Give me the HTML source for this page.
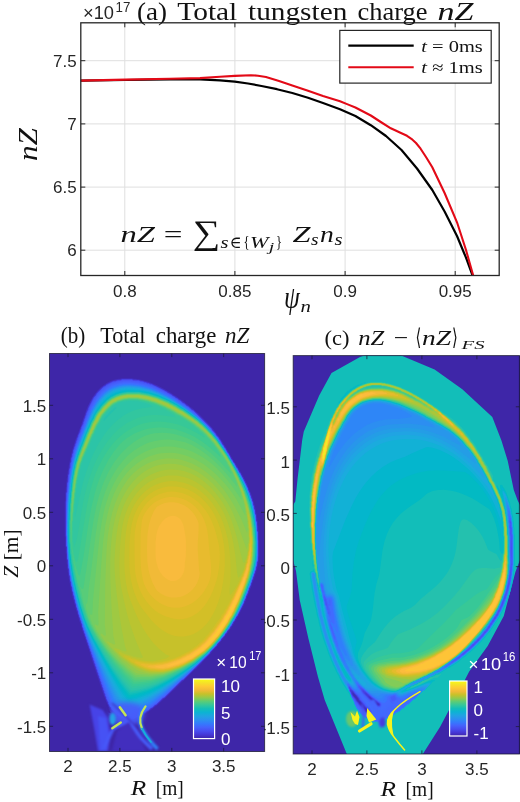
<!DOCTYPE html>
<html><head><meta charset="utf-8"><title>figure</title>
<style>html,body{margin:0;padding:0;background:#fff}svg{display:block}</style></head>
<body><svg width="520" height="802" viewBox="0 0 520 802"><defs><clipPath id="cb"><rect x="49.5" y="353.5" width="215.1" height="398.0"/></clipPath>
<clipPath id="cc"><rect x="293.2" y="355.6" width="226.8" height="398.4"/></clipPath>
<linearGradient id="pg" x1="0" y1="0" x2="0" y2="1"><stop offset="0.000" stop-color="#f9fb15"/><stop offset="0.062" stop-color="#f5e327"/><stop offset="0.125" stop-color="#feca33"/><stop offset="0.188" stop-color="#f1ba37"/><stop offset="0.250" stop-color="#c8c129"/><stop offset="0.312" stop-color="#94ca4a"/><stop offset="0.375" stop-color="#5ccc76"/><stop offset="0.438" stop-color="#34c79c"/><stop offset="0.500" stop-color="#12beb9"/><stop offset="0.562" stop-color="#0cb3d3"/><stop offset="0.625" stop-color="#21a3e3"/><stop offset="0.688" stop-color="#2c90f0"/><stop offset="0.750" stop-color="#347afd"/><stop offset="0.812" stop-color="#4562fc"/><stop offset="0.875" stop-color="#484cef"/><stop offset="0.938" stop-color="#4536d5"/><stop offset="1.000" stop-color="#3e26a8"/></linearGradient>
<filter id="bl2" x="-20%" y="-20%" width="140%" height="140%" color-interpolation-filters="sRGB"><feGaussianBlur stdDeviation="2.5"/></filter><filter id="bl07" x="-10%" y="-10%" width="120%" height="120%" color-interpolation-filters="sRGB"><feGaussianBlur stdDeviation="0.75"/></filter><filter id="bl1" x="-10%" y="-10%" width="120%" height="120%" color-interpolation-filters="sRGB"><feGaussianBlur stdDeviation="1"/></filter><filter id="bl05" x="-10%" y="-10%" width="120%" height="120%" color-interpolation-filters="sRGB"><feGaussianBlur stdDeviation="0.5"/></filter>
<filter id="bl" x="-5%" y="-5%" width="110%" height="110%" color-interpolation-filters="sRGB"><feGaussianBlur stdDeviation="0.6"/></filter></defs>
<rect width="520" height="802" fill="#fff"/>
<g id="pa">
<rect x="80.8" y="22.8" width="418.4" height="252.7" fill="#fff"/>
<path d="M124.8 22.8V275.5M234.9 22.8V275.5M345.1 22.8V275.5M455.2 22.8V275.5M80.8 250.2H499.2M80.8 187.1H499.2M80.8 123.9H499.2M80.8 60.7H499.2" stroke="#dfdfdf" stroke-width="1" fill="none"/>
<path d="M80.8 80.6 L125.5 80.0 L170.0 79.4 L200.0 79.3 L220.0 80.3 L234.8 81.7 L248.0 83.5 L261.5 86.0 L277.0 89.2 L292.3 93.0 L308.0 97.7 L323.0 103.0 L340.0 109.3 L355.4 116.0 L370.8 125.2 L386.0 136.0 L401.5 150.0 L417.0 168.5 L432.3 190.0 L444.6 211.5 L457.0 236.0 L466.0 257.7 L472.6 275.5" stroke="#000" stroke-width="2.2" fill="none" stroke-linejoin="round"/>
<path d="M80.8 80.6 L125.5 79.6 L170.0 78.8 L200.0 78.1 L220.0 76.8 L234.8 75.9 L250.8 75.2 L258.0 75.7 L266.0 77.0 L279.0 81.0 L292.3 85.4 L308.0 90.8 L323.0 96.0 L340.0 101.3 L347.7 104.4 L355.4 107.5 L370.8 115.5 L380.0 121.5 L390.8 128.3 L401.5 133.2 L407.0 135.8 L411.4 138.8 L416.0 143.0 L420.6 148.7 L426.0 157.0 L432.3 167.3 L444.6 193.0 L457.0 222.3 L466.0 250.0 L473.2 275.5" stroke="#e30a17" stroke-width="2.1" fill="none" stroke-linejoin="round"/>
<path d="M124.8 275.5v-4.5M124.8 22.8v4.5M234.9 275.5v-4.5M234.9 22.8v4.5M345.1 275.5v-4.5M345.1 22.8v4.5M455.2 275.5v-4.5M455.2 22.8v4.5M80.8 250.2h4.5M499.2 250.2h-4.5M80.8 187.1h4.5M499.2 187.1h-4.5M80.8 123.9h4.5M499.2 123.9h-4.5M80.8 60.7h4.5M499.2 60.7h-4.5" stroke="#262626" stroke-width="1" fill="none"/>
<rect x="80.8" y="22.8" width="418.4" height="252.7" fill="none" stroke="#262626" stroke-width="1.3"/>
<text x="124.8" y="297" font-family="'Liberation Sans',Arial,sans-serif" font-size="17" fill="#262626" text-anchor="middle">0.8</text>
<text x="234.9" y="297" font-family="'Liberation Sans',Arial,sans-serif" font-size="17" fill="#262626" text-anchor="middle">0.85</text>
<text x="345.1" y="297" font-family="'Liberation Sans',Arial,sans-serif" font-size="17" fill="#262626" text-anchor="middle">0.9</text>
<text x="455.2" y="297" font-family="'Liberation Sans',Arial,sans-serif" font-size="17" fill="#262626" text-anchor="middle">0.95</text>
<text x="76.6" y="256.3" font-family="'Liberation Sans',Arial,sans-serif" font-size="17" fill="#262626" text-anchor="end">6</text>
<text x="76.6" y="193.2" font-family="'Liberation Sans',Arial,sans-serif" font-size="17" fill="#262626" text-anchor="end">6.5</text>
<text x="76.6" y="130.0" font-family="'Liberation Sans',Arial,sans-serif" font-size="17" fill="#262626" text-anchor="end">7</text>
<text x="76.6" y="66.8" font-family="'Liberation Sans',Arial,sans-serif" font-size="17" fill="#262626" text-anchor="end">7.5</text>
<text x="83" y="18.7" font-family="'Liberation Sans',Arial,sans-serif" font-size="18" fill="#262626" textLength="31" lengthAdjust="spacingAndGlyphs">×10</text>
<text x="115.5" y="11.6" font-family="'Liberation Sans',Arial,sans-serif" font-size="14.5" fill="#262626" textLength="14.8" lengthAdjust="spacingAndGlyphs">17</text>
<text x="137" y="19.8" font-family="'Liberation Serif','DejaVu Serif',serif" font-size="26" fill="#111" textLength="30" lengthAdjust="spacingAndGlyphs">(a)</text>
<text x="177.3" y="19.8" font-family="'Liberation Serif','DejaVu Serif',serif" font-size="26" fill="#111" textLength="60" lengthAdjust="spacingAndGlyphs">Total</text>
<text x="248" y="19.8" font-family="'Liberation Serif','DejaVu Serif',serif" font-size="26" fill="#111" textLength="99.3" lengthAdjust="spacingAndGlyphs">tungsten</text>
<text x="357.5" y="19.8" font-family="'Liberation Serif','DejaVu Serif',serif" font-size="26" fill="#111" textLength="70" lengthAdjust="spacingAndGlyphs">charge</text>
<text x="437.5" y="19.8" font-family="'Liberation Serif','DejaVu Serif',serif" font-size="26" fill="#111" font-style="italic" textLength="36" lengthAdjust="spacingAndGlyphs">nZ</text>
<text transform="translate(37.2,144.5) rotate(-90)" font-family="'Liberation Serif','DejaVu Serif',serif" font-style="italic" font-size="27" fill="#111" text-anchor="middle" textLength="33" lengthAdjust="spacingAndGlyphs">nZ</text>
<text x="284" y="307.5" font-family="'Liberation Serif','DejaVu Serif',serif" font-size="31" fill="#111" font-style="italic" textLength="15.8" lengthAdjust="spacingAndGlyphs">ψ</text>
<text x="300.6" y="311.5" font-family="'Liberation Serif','DejaVu Serif',serif" font-size="17" fill="#111" font-style="italic" textLength="10.4" lengthAdjust="spacingAndGlyphs">n</text>
<text x="120.5" y="242" font-family="'Liberation Serif','DejaVu Serif',serif" font-size="24" fill="#111" font-style="italic" textLength="34.5" lengthAdjust="spacingAndGlyphs">nZ</text>
<text x="163.8" y="242" font-family="'Liberation Serif','DejaVu Serif',serif" font-size="24" fill="#111" textLength="18.7" lengthAdjust="spacingAndGlyphs">=</text>
<text x="192.5" y="243.5" font-family="'Liberation Serif','DejaVu Serif',serif" font-size="34" fill="#111" textLength="27.5" lengthAdjust="spacingAndGlyphs">∑</text>
<text x="220.5" y="247.5" font-family="'Liberation Serif','DejaVu Serif',serif" font-size="17" fill="#111" font-style="italic" textLength="8" lengthAdjust="spacingAndGlyphs">s</text>
<text x="229.5" y="247.5" font-family="'Liberation Serif','DejaVu Serif',serif" font-size="17" fill="#111" textLength="12" lengthAdjust="spacingAndGlyphs">∈</text>
<text x="243.5" y="247.5" font-family="'Liberation Serif','DejaVu Serif',serif" font-size="17" fill="#111" textLength="6" lengthAdjust="spacingAndGlyphs">{</text>
<text x="250" y="247.5" font-family="'Liberation Serif','DejaVu Serif',serif" font-size="17" fill="#111" font-style="italic" textLength="18.5" lengthAdjust="spacingAndGlyphs">W</text>
<text x="268.8" y="250.5" font-family="'Liberation Serif','DejaVu Serif',serif" font-size="13" fill="#111" font-style="italic" textLength="5.5" lengthAdjust="spacingAndGlyphs">j</text>
<text x="276" y="247.5" font-family="'Liberation Serif','DejaVu Serif',serif" font-size="17" fill="#111" textLength="6" lengthAdjust="spacingAndGlyphs">}</text>
<text x="292.5" y="242" font-family="'Liberation Serif','DejaVu Serif',serif" font-size="24" fill="#111" font-style="italic" textLength="18" lengthAdjust="spacingAndGlyphs">Z</text>
<text x="311" y="245" font-family="'Liberation Serif','DejaVu Serif',serif" font-size="17" fill="#111" font-style="italic" textLength="7.5" lengthAdjust="spacingAndGlyphs">s</text>
<text x="320" y="242" font-family="'Liberation Serif','DejaVu Serif',serif" font-size="24" fill="#111" font-style="italic" textLength="13.8" lengthAdjust="spacingAndGlyphs">n</text>
<text x="334.5" y="245" font-family="'Liberation Serif','DejaVu Serif',serif" font-size="17" fill="#111" font-style="italic" textLength="8" lengthAdjust="spacingAndGlyphs">s</text>
<rect x="339.8" y="30.4" width="151.4" height="52.7" fill="#fff" stroke="#262626" stroke-width="1.2"/>
<path d="M348.3 45.6H413.7" stroke="#000" stroke-width="2.1"/>
<path d="M348.3 67.2H413.7" stroke="#e30a17" stroke-width="2"/>
<text x="421.3" y="51.5" font-family="'Liberation Serif','DejaVu Serif',serif" font-size="17" fill="#111" textLength="61.5" lengthAdjust="spacingAndGlyphs"><tspan font-style="italic">t</tspan> = 0ms</text>
<text x="421.3" y="73" font-family="'Liberation Serif','DejaVu Serif',serif" font-size="17" fill="#111" textLength="61.5" lengthAdjust="spacingAndGlyphs"><tspan font-style="italic">t</tspan> ≈ 1ms</text>
</g>
<text x="290" y="414.2" font-family="'Liberation Sans',Arial,sans-serif" font-size="17" fill="#262626" text-anchor="end">1.5</text>
<text x="290" y="467.5" font-family="'Liberation Sans',Arial,sans-serif" font-size="17" fill="#262626" text-anchor="end">1</text>
<text x="290" y="520.8" font-family="'Liberation Sans',Arial,sans-serif" font-size="17" fill="#262626" text-anchor="end">0.5</text>
<text x="290" y="574.1" font-family="'Liberation Sans',Arial,sans-serif" font-size="17" fill="#262626" text-anchor="end">0</text>
<text x="290" y="627.4" font-family="'Liberation Sans',Arial,sans-serif" font-size="17" fill="#262626" text-anchor="end">-0.5</text>
<text x="290" y="680.7" font-family="'Liberation Sans',Arial,sans-serif" font-size="17" fill="#262626" text-anchor="end">-1</text>
<text x="290" y="734.0" font-family="'Liberation Sans',Arial,sans-serif" font-size="17" fill="#262626" text-anchor="end">-1.5</text>
<g id="pb">
<rect x="49.5" y="353.5" width="215.1" height="398.0" fill="#3e26a8"/>
<g clip-path="url(#cb)"><g filter="url(#bl)">
<path fill="#412dbd" d="M122 378.2l10 0 2 0.5 2 0 1 0.4 2 0.1 4 1 3 1 1 0.1 6 2.3 4 1.7 7 3.5 6 3.5 4 2.8 2 1 4 3 1 0.5 13 9.9 2.5 2.5 1.5 1.1 11.9 11.9 0.6 1 2 2 3.9 5 0.5 1 2.5 3 7 11 7.5 13 1.5 2 0.6 1.2 5.4 8.8 1.5 3 0.8 1 4 8 0.3 1.2 3.7 8.8 3.5 12 0.6 3 0 1 1 4 0.1 2 0.4 1 0 2 0.5 2 0.1 3 0.4 1 0 4 0.4 1 0.1 8 0.5 2 0 15 -0.5 2 -0.1 4 -0.4 1 0 1 -0.4 1 -0.2 2 -0.4 1 -0.1 1 -3.5 11 -0.7 1.3 -1.8 5.7 -1.2 2.7 -0.3 1.3 -5.3 13 -6 12 -1.7 3 -0.8 1 -3.5 6 -5.5 8 -1 1 -0.5 1 -6.5 8 -1.4 2 -5.6 6 -1.4 2 -8 8 -0.6 1 -5.9 5.9 -1 0.6 -11 11 -2 1.4 -8 8 -1 0.6 -8 7.9 -1.1 0.6 -6.9 6.4 -1 0.5 -3 2.6 -7 4.9 -5 3 -6 3 -3 1.3 -2 0.6 -3-0.1 -1-0.4 -1-0.1 -5-2.3 -4-2.5 -4-4 -3.4-4.9 -2.8-6 -0.8-2.7 -0.7-1.3 -14-42 -0.3-1.7 -8.2-24.3 -0.8-3.3 -1.7-4.7 -2.3-8.3 -1.3-3.7 -0.7-3.3 -0.7-1.7 -0.6-3 -1.4-5 -0.7-4 -0.9-3 0-1 -0.4-1 -0.6-4 -0.4-1 -0.1-2 -0.4-1 -0.1-2 -0.4-1 -0.2-3 -0.4-1 0-2 -0.5-2 -0.1-3 -0.4-1 0-3 -0.5-2 0-4 -0.5-2 0-5 -0.5-2 0-8 -0.5-2 0-34 0.5-2 0-7 0.5-2 0.1-4 0.4-1 0.1-4 0.4-1 0.1-3 0.4-1 0.1-3 0.4-1 0.1-2 0.4-1 0.1-2 0.4-1 0.1-2 0.4-1 0-1 1-4 0-1 2-8 3.1-10 5.8-15 2.2-7 0.7-1.3 1.8-5.7 2-5 2.5-5 2.3-4 2.9-4 1-1 0.6-1 3.9-3.9 6-4.3 4-2 3-1 4-1 2-0.1z"/>
<path fill="#4332c8" d="M122 378.8l10 0 1 0.4 3 0.1 1 0.5 2 0 1 0.4 1 0.1 1 0.5 1 0 5 1.5 1.3 0.7 1.7 0.4 3.3 1.6 1.7 0.4 8 4 1 0.8 5 2.8 4 2.8 3 1.6 3 2.4 2 1.2 1 1 1 0.4 3 2.6 1 0.4 4 3.6 1 0.4 3 2.9 1 0.7 12 12 3.6 4 0.4 1 2.7 3 0.5 1 2.5 3 3.3 5 1 2 1.6 2 2.2 4 3.8 6 2.4 4.7 3.6 5.3 2.2 4 0.8 1 2.4 4.7 1.6 2.3 3 6 0.6 2 2.4 5 4 12 1 4 0.6 4 0.4 1 0.2 2 0.4 1 0 2 0.5 1 0.1 3 0.4 1 0 3 0.5 1 0 4 0.5 2 0 7 0.5 2 0 15 -0.5 2 0 3 -0.5 3 -0.5 1 -0.6 4 -0.8 2 -0.1 1 -0.5 1 -1.5 5 -1.7 4.3 -1.4 4.7 -1.4 3 -0.5 2 -0.7 1.3 -0.4 1.7 -1.6 3.3 -0.4 1.7 -1.8 4 -6 12 -2.8 4.3 -1.4 2.7 -4.6 7 -1 1 -0.4 1 -2.4 3 -0.5 1 -2.7 3 -0.4 1 -3.6 4 -0.4 1 -6.6 7 -0.4 1 -14.6 15 -1.3 1 -11.7 11.6 -1 0.4 -17 16.7 -2 1.3 -6 5.7 -1 0.5 -4 3.4 -1 0.4 -1 1 -6 4 -2 1 -1 0.8 -6 3 -5 1.9 -3-0.1 -3-0.9 -4-1.9 -2-1.2 -2-1.6 -4-4 -1.6-2 -2.2-4 -1.8-4 -0.4-1.7 -1.7-4.3 -0.5-2 -0.5-1 -0.5-2 -0.5-1 -0.5-2 -0.5-1 -0.5-2 -0.5-1 -0.5-2 -0.5-1 -0.5-2 -0.5-1 -0.5-2 -0.5-1 -0.5-2 -0.5-1 -0.5-2 -0.5-1 -0.5-2 -0.5-1 -0.5-2 -0.5-1 -0.5-2 -1.5-4 -1.1-4 -8.4-25 0-1 -0.5-1 -0.5-2 -1.5-4 -0.1-1 -1.4-4 0-1 -1.5-4 -0.5-3 -0.5-1 -2.9-11 -0.6-4 -0.5-1 -0.5-4 -0.5-1 -0.5-4 -0.4-1 -0.6-4 0-2 -0.5-1 -0.1-3 -0.4-1 0-3 -0.5-1 -0.1-4 -0.4-1 0-5 -0.5-1 -0.1-6 -0.4-1 0-9 -0.5-1 0-34 0.5-2 0-7 0.4-1 0.1-4 0.5-2 0-3 0.5-2 0-2 0.5-2 0-2 0.6-4 0.4-1 0.6-5 0.4-1 0-1 0.4-1 0.2-2 0.4-1 0.5-3 0.5-1 0.5-3 0.5-1 0-1 1.4-4 0.1-1 0.5-1 1.5-5 0.7-1.3 0.4-1.7 1.4-3 0.5-2 0.7-1.3 0.4-1.7 1.4-3 1.5-5 1.7-4.3 1.4-4.7 1.6-3.3 0.4-1.7 3-6 2.6-4 1-1 0.4-1 2.6-3 3-3 3-2.6 1-0.4 2-1.6 4-2 3-1 4-1 3-0.2z"/>
<path fill="#4536d3" d="M122 379.1l10 0 1 0.5 3 0.1 1 0.4 2 0 1 0.5 1 0.1 1 0.4 1 0 2.2 0.9 2.8 0.7 2 0.9 2 0.5 12 5.8 1.6 1.1 1.4 0.6 1 0.9 3 1.6 2.6 1.9 1.4 0.6 1 0.9 1 0.4 1 1 4 2.6 1 1 1 0.4 3 2.6 1 0.4 4 3.6 1 0.4 3 3 1 0.6 12 12 1 1.4 2.1 2.1 0.4 1 1.5 1.5 1.9 2.5 0.1 0.4 2.9 3.6 0.1 0.4 1.9 2.6 1.6 3 1.6 2 0.9 1.9 0.9 1.1 1.6 3 2.6 4 1.4 3 0.9 1 0.6 1.4 1.9 2.6 0.1 0.4 2 3.5 0.9 1.1 0.1 0.4 2 3.5 0.9 1.1 7 14 0.6 2 1.8 4 0.2 1 1.8 5 0.1 1 0.5 1 0.6 3 0.4 1 0.5 3 0.5 1 0.5 4 0.5 1 0.1 2.4 0.3 0.6 0.1 3 0.5 1 0 3 0.4 1 0.2 5 0.4 1 0 7 0.4 2 0 15 -0.3 1.2 -0.1 3.8 -0.4 1 -0.2 2 -0.3 0.6 -0.1 1.4 -0.4 1 -0.6 3 -0.5 1 -0.1 1 -0.8 2 -1.2 4 -1.3 3.2 -0.1 0.8 -0.5 1 -0.5 2 -1.4 3 -1.2 4 -4.3 10.2 -0.1 0.8 -6 12 -1.4 2 -2.1 4 -0.9 1 -1.5 2.6 -0.1 0.4 -3.4 5 -1 1 -0.4 1 -2.1 2.6 -0.1 0.4 -1.9 2.5 -1.5 1.5 -0.4 1 -3.6 4 -0.5 1.1 -6.5 6.9 -0.5 1.1 -8 8 -1 1.4 -5.5 5.5 -1.4 1 -11 11 -1.1 0.5 -17 16.6 -2 1.4 -3 3 -1 0.6 -3 2.8 -0.4 0.1 -3.6 3.1 -1 0.4 -1 1 -5 3.4 -3 1.6 -2 1.4 -6 3 -0.8 0.1 -3.2 1.3 -2 0 -4-1 -3-1.4 -4.5-2.9 -4-4 -0.6-1 -1-1 -2.8-5 -0.6-2 -1.4-3 -0.1-0.8 -1.3-3.2 -0.2-1 -0.8-2 -0.2-1 -0.8-2 -0.2-1 -0.8-2 -0.2-1 -0.8-2 -0.2-1 -0.8-2 -0.2-1 -0.8-2 -0.2-1 -0.8-2 -0.2-1 -0.8-2 -0.2-1 -0.8-2 -0.2-1 -0.8-2 -0.2-1 -2.8-8 -1.1-4 -0.5-1 -0.5-2 -0.5-1 -0.5-2 -0.5-1 -0.5-2 -0.5-1 -0.5-2 -0.5-1 -0.5-2 -0.5-1 -0.5-2 -0.5-1 -0.5-2 -0.5-1 -0.5-2 -0.5-1 -0.1-1.4 -2.3-6.6 -0.1-1 -0.5-1 -0.5-2 -0.5-1 -0.1-1.4 -1.3-3.6 -0.1-1 -0.5-1 -0.1-1.4 -0.9-2.6 -1.6-7 -0.4-1 -0.5-3 -0.5-1 -0.6-4 -0.4-1 -0.1-1.4 -0.3-0.6 -0.2-2 -0.4-1 -0.6-5 -0.4-1 0-2 -0.4-1 -0.1-3 -0.5-1 0-3 -0.4-1 -0.1-4 -0.5-1 0-5 -0.4-1 -0.1-6 -0.5-1 0-9 -0.4-1 0-34 0.4-2 0-7 0.5-1 0.1-4 0.4-2 0-3 0.6-2 0.4-6 0.4-1 0.6-5 0.4-1 0.6-5 0.5-1 0.5-4 0.5-1 0.1-1 0.4-1 0-1 0.5-1 0.1-1 0.4-1 0-1 1.5-4 0.1-1 0.8-2 1.2-4 0.9-2 0.5-2 0.9-1.6 0.7-2.4 0.9-2 0.5-2 0.9-1.6 0.7-2.4 0.8-2 0.2-1 1.9-5 0.5-2 1.4-3 0.2-1 1.2-3 3-6 2.6-4 1-1 0.4-1 2.1-2.5 3.5-3.5 2.5-2.1 1-0.4 2-1.6 6-2.8 6-1.4 2-0.1z"/>
<path fill="#463bdc" d="M122 379.3l10 0 1 0.7 6 0.3 1 0.7 3 0.3 1 0.7 2 0.3 1 0.7 2 0.3 1 0.7 2 0.3 1 0.7 1 0.3 1 0.7 1 0.1 1 0.9 1 0.1 1 0.9 1 0.1 1 0.9 1 0.1 1 0.9 1 0.1 1 0.9 1 0.2 2 1.8 1 0.1 1 0.9 1 0.2 2 1.8 1 0.2 2 1.8 1 0.1 2 1.9 1 0.2 3 2.8 1 0.1 3 2.9 1 0.1 4 3.9 1 0.1 18.9 18.9 0.1 1 3.8 4 0.2 1 2.8 3 0.2 1 1.8 2 0.2 1 0.9 1 0.1 1 1.9 2 0.1 1 1.8 2 0.2 1 0.9 1 0.1 1 1.9 2 0.1 1 0.9 1 0.1 1 0.9 1 0.1 1 1.9 2 0.1 1 1.9 2 0.1 1 0.9 1 0.1 1 1.9 2 0.1 1 0.9 1 0.1 1 1.9 2 0.1 1 0.9 1 0.1 1 0.9 1 0.1 1 0.9 1 0.1 1 0.9 1 0.1 1 0.9 1 0.1 1 0.9 1 0.1 1 0.9 1 0.1 2 0.9 1 0.1 1 0.9 1 0.1 2 0.9 1 0.1 2 0.9 1 0.1 2 0.9 1 0.1 3 0.9 1 0.1 3 0.9 1 0.1 4 0.9 1 0.1 6 0.9 1 0.1 9 0.9 1 0 29 -0.9 1 -0.1 4 -0.9 1 -0.1 3 -0.9 1 -0.1 2 -0.9 1 -0.1 2 -0.9 1 -0.1 2 -0.9 1 -0.1 2 -0.9 1 -0.1 2 -0.9 1 -0.1 1 -0.9 1 -0.1 2 -0.9 1 -0.1 2 -0.9 1 -0.1 1 -0.9 1 -0.1 2 -0.9 1 -0.1 1 -0.9 1 -0.1 2 -0.9 1 -0.1 1 -0.9 1 -0.1 1 -0.9 1 -0.1 1 -0.9 1 -0.1 1 -0.9 1 -0.1 1 -0.9 1 -0.1 1 -1.9 2 -0.1 1 -0.9 1 -0.1 1 -1.9 2 -0.1 1 -0.9 1 -0.1 1 -1.9 2 -0.1 1 -2.9 3 -0.1 1 -1.9 2 -0.1 1 -3.9 4 -0.1 1 -3.9 4 -0.1 1 -6.9 7 -0.1 1 -26.9 26.9 -1 0.1 -18 17.8 -1 0.2 -7 6.8 -1 0.2 -3 2.9 -1 0.1 -3 2.8 -1 0.2 -2 1.8 -1 0.2 -1 0.9 -1 0.1 -2 1.8 -1 0.2 -1 0.8 -1 0.2 -1 0.8 -1 0.2 -1 0.8 -2 0.2 -1 0.8 -1 0.2 -4-0.2 -1-0.8 -2-0.2 -1-0.8 -1-0.2 -2-1.8 -1-0.1 -6.9-6.9 -0.1-1 -1.8-2 -0.2-1 -0.8-1 -0.2-2 -0.9-1 -0.1-1 -0.8-1 -0.2-2 -0.8-1 -0.2-2 -0.8-1 -0.2-2 -0.8-1 -0.2-2 -0.8-1 -0.2-2 -0.8-1 -0.2-2 -0.8-1 -0.2-2 -0.8-1 -0.2-2 -0.8-1 -0.2-2 -0.8-1 -0.2-2 -0.8-1 -0.2-2 -0.8-1 -0.2-2 -0.8-1 -0.2-2 -0.8-1 -0.2-2 -0.8-1 -0.2-2 -0.8-1 -0.2-2 -0.8-1 -0.2-2 -0.8-1 -0.2-2 -0.8-1 -0.2-2 -0.8-1 -0.2-2 -0.8-1 -0.2-2 -0.8-1 -0.2-2 -0.8-1 -0.2-2 -0.8-1 -0.2-2 -0.8-1 -0.2-3 -0.8-1 -0.2-2 -0.8-1 -0.2-2 -0.8-1 -0.2-2 -0.8-1 -0.2-3 -0.8-1 -0.2-2 -0.8-1 -0.2-3 -0.8-1 -0.2-3 -0.8-1 -0.2-3 -0.8-1 -0.2-3 -0.8-1 -0.2-4 -0.8-1 -0.2-4 -0.8-1 -0.2-5 -0.8-1 -0.2-6 -0.8-1 -0.2-8 -0.8-1 -0.2-12 -0.8-1 -0.2-44 0.2-2 0-7 0.8-1 0.2-9 0.8-1 0.2-7 0.8-1 0.2-5 0.8-1 0.2-5 0.8-1 0.2-4 0.8-1 0.2-3 0.8-1 0.2-3 0.8-1 0.2-2 0.8-1 0.2-2 0.8-1 0.2-2 0.8-1 0.3-2 0.7-1 0.3-2 0.7-1 0.3-1 0.7-1 0.3-2 0.7-1 0.3-2 0.7-1 0.3-1 0.7-1 0.3-2 0.7-1 0.3-2 0.7-1 0.3-2 0.7-1 0.3-2 0.7-1 0.1-1 0.9-1 0.3-2 0.7-1 0.1-1 0.9-1 0.2-1 0.8-1 0.2-1 0.8-1 0.2-1 0.8-1 0.3-1 2.7-3 0.2-1 7.8-7.8 1-0.2 2-1.8 1-0.2 1-0.8 1-0.2 1-0.8 1-0.2 1-0.7 3-0.3 1-0.7 4-0.3z"/>
<path fill="#4740e4" d="M122 379.4l10 0 1 0.8 6 0.2 1 0.8 3 0.2 1 0.8 2 0.2 1 0.8 2 0.2 1 0.8 2 0.2 1 0.8 1 0.2 1 0.8 1 0.1 1 0.9 1 0.1 1 0.9 1 0.1 1 0.9 1 0.1 1 0.9 1 0.1 1 0.9 1 0.2 2 1.8 1 0.1 1 0.9 1 0.2 2 1.8 1 0.2 2 1.8 1 0.1 2 1.9 1 0.2 3 2.8 1 0.1 3 2.8 1 0.2 4 3.8 1 0.2 18.8 18.7 0.1 1 3.8 4 0.2 1 2.8 3 0.2 1 1.8 2 0.2 1 0.9 1 0.1 1 1.9 2 0.1 1 1.8 2 0.2 1 0.9 1 0.1 1 1.9 2 0.1 1 0.9 1 0.1 1 0.9 1 0.1 1 1.9 2 0.2 1.1 1.8 1.9 0.1 1 0.9 1 0.1 1 1.9 2 0.1 1 0.9 1 0.1 1 1.9 2 0.1 1 0.9 1 0.1 1 0.9 1 0.1 1 0.9 1 0.1 1 0.9 1 0.1 1 0.9 1 0.1 1 0.9 1 0.1 1 0.9 1 0.1 2 0.9 1 0.1 1 0.9 1 0.1 2 0.9 1 0.1 2 0.9 1 0.1 2 0.9 1 0.1 3 0.9 1 0.1 3 0.9 1 0.1 4 0.9 1 0.1 6 0.9 1 0.1 9 0.9 1 0.1 11 -0.1 18 -0.9 1 -0.1 4 -0.9 1 -0.1 3 -0.9 1 -0.1 2 -0.9 1 -0.1 2 -0.9 1 -0.1 2 -0.9 1 -0.1 2 -0.9 1 -0.1 2 -0.9 1 -0.1 1 -0.9 1 -0.1 2 -0.9 1 -0.1 2 -0.9 1 -0.1 1 -0.9 1 -0.1 2 -0.9 1 -0.1 1 -0.9 1 -0.1 2 -0.9 1 -0.1 1 -0.9 1 -0.1 1 -0.9 1 -0.1 1 -0.9 1 -0.1 1 -0.9 1 -0.1 1 -0.9 1 -0.1 1 -1.9 2 0 1 -1 1 -0.1 1 -1.9 2 0 1 -1 1 -0.1 1 -1.9 2 -0.1 1 -2.9 3 0 1 -2 2 -0.1 1 -3.9 4 0 1 -4 4 0 1 -7 7 -0.1 1 -26.8 26.8 -1.1 0.2 -17.9 17.7 -1 0.2 -7 6.8 -1 0.2 -3 2.9 -1 0.1 -3 2.8 -1 0.1 -2 1.9 -1 0.1 -1 1 -1 0.1 -2 1.8 -1 0.1 -1 0.9 -1 0.1 -1 0.9 -1 0.1 -1 0.9 -2 0.1 -1 0.9 -1 0.1 -4-0.1 -1-0.9 -2-0.1 -1-0.9 -1-0.1 -2-1.9 -1-0.1 -6.7-6.7 -0.1-1 -1.9-2 -0.1-1 -0.9-1 -0.1-2 -0.9-1 -0.1-1 -0.9-1 -0.1-2 -0.9-1 -0.1-2 -0.9-1 -0.1-2 -0.9-1 -0.2-2 -0.8-1 -0.2-2 -0.8-1 -0.2-2 -0.8-1 -0.2-2 -0.8-1 -0.2-2 -0.8-1 -0.2-2 -0.8-1 -0.2-2 -0.8-1 -0.2-2 -0.8-1 -0.2-2 -0.8-1 -0.2-2 -0.8-1 -0.2-2 -0.8-1 -0.2-2 -0.8-1 -0.2-2 -0.8-1 -0.2-2 -0.8-1 -0.2-2 -0.8-1 -0.2-2 -0.8-1 -0.2-2 -0.8-1 -0.2-2 -0.8-1 -0.2-2 -0.8-1 -0.2-2 -0.8-1 -0.2-2 -0.8-1 -0.2-3 -0.8-1 -0.2-2 -0.8-1 -0.2-2 -0.8-1 -0.2-2 -0.8-1 -0.2-3 -0.8-1 -0.2-2 -0.8-1 -0.2-3 -0.8-1 -0.2-3 -0.8-1 -0.2-3 -0.8-1 -0.2-3 -0.8-1 -0.2-4 -0.8-1 -0.2-4 -0.8-1 -0.2-5 -0.8-1 -0.2-6 -0.8-1 -0.2-8 -0.8-1 -0.2-12 -0.8-1 -0.2-44 0.2-2 0.1-7 0.7-1 0.3-9 0.7-1 0.3-7 0.7-1 0.3-5 0.7-1 0.3-5 0.8-1 0.2-4 0.8-1 0.2-3 0.8-1 0.2-3 0.8-1 0.2-2 0.8-1 0.2-2 0.8-1 0.2-2 0.8-1 0.2-2 0.8-1 0.2-2 0.8-1 0.2-1 0.8-1 0.2-2 0.8-1 0.2-2 0.8-1 0.2-1 0.8-1 0.2-2 0.8-1 0.2-2 0.8-1 0.2-2 0.8-1 0.2-2 0.8-1 0.1-1 0.9-1 0.2-2 0.8-1 0.1-1 0.9-1 0.1-1 0.9-1 0.1-1 0.9-1 0.1-1 0.9-1 0.2-1 2.8-3 0.1-1 7.7-7.7 1-0.1 2-1.9 1-0.1 1-0.9 1-0.1 1-0.9 1-0.1 1-0.8 3-0.2 1-0.8 4-0.2z"/>
<path fill="#4746ea" d="M122 379.6l10 0 1 0.8 6 0.2 1 0.8 3 0.2 1 0.8 2 0.2 1 0.8 2 0.2 1 0.8 2 0.1 1 0.9 1 0.1 1 0.8 1 0.2 1 0.8 1 0.2 1 0.8 1 0.2 1 0.8 1 0.2 1 0.8 1 0.2 1 0.9 1 0.1 2 1.8 1 0.2 1 0.8 1 0.2 2 1.8 1 0.2 2 1.8 1 0.1 2 1.9 1 0.2 3 2.8 1 0.1 3 2.9 1 0.1 4 3.9 1 0.1 18.6 18.6 0.2 1 3.8 4 0.2 1 2.8 3 0.2 1 1.8 2 0.2 1 0.9 1 0.1 1 1.9 2 0.1 1 1.9 2 0.1 1 0.9 1 0.2 1 1.8 2 0.1 1 1 1 0.1 1 0.9 1 0.1 1 1.8 2 0.2 1 1.8 2 0.2 1 0.9 1 0.1 1 1.8 2 0.2 1 0.9 1 0.1 1 1.8 2 0.1 1 0.9 1 0.2 1 0.8 1 0.2 1 0.8 1 0.2 1 0.8 1 0.2 1 0.8 1 0.2 1 0.8 1 0.1 1 0.9 1 0.2 2 0.8 1 0.2 1 0.8 1 0.2 2 0.8 1 0.2 2 0.8 1 0.2 2 0.8 1 0.2 3 0.8 1 0.2 3 0.8 1 0.2 4 0.8 1 0.2 6 0.8 1 0.2 9 0.8 1 0.2 11 -0.2 18 -0.8 1 -0.2 4 -0.8 1 -0.2 3 -0.8 1 -0.2 2 -0.8 1 -0.2 2 -0.8 1 -0.2 2 -0.8 1 -0.2 2 -0.8 1 -0.2 2 -0.8 1 -0.1 1 -0.9 1 -0.2 2 -0.8 1 -0.2 2 -0.8 1 -0.1 1 -0.9 1 -0.2 2 -0.8 1 -0.1 1 -0.9 1 -0.2 2 -0.9 1 -0.1 1 -0.9 1 -0.1 1 -0.9 1 -0.1 1 -0.9 1 -0.1 1 -0.8 1 -0.2 1 -0.8 1 -0.2 1 -1.8 2 -0.1 1 -0.9 1 -0.2 1 -1.8 2 -0.1 1 -0.9 1 -0.2 1 -1.8 2 -0.2 1 -2.8 3 -0.1 1 -1.9 2 -0.2 1 -3.8 4 -0.1 1 -3.9 4 -0.1 1 -6.9 7 -0.1 1 -26.8 26.7 -1.2 0.3 -17.8 17.6 -1 0.1 -7 6.9 -1 0.1 -3 2.9 -1 0.1 -3 2.9 -1 0.1 -2 1.9 -1 0.1 -1 0.9 -1 0.1 -2 1.9 -1 0.1 -1 0.9 -1 0.1 -1 0.9 -1 0.1 -1 0.9 -2 0.1 -1 0.8 -1 0.2 -4-0.2 -1-0.8 -2-0.2 -1-0.8 -1-0.2 -2-1.8 -1-0.1 -6.6-6.6 -0.1-1 -1.8-2 -0.2-1 -0.8-1 -0.2-2 -0.9-1 -0.1-1 -0.8-1 -0.2-2 -0.8-1 -0.2-2 -0.8-1 -0.2-2 -0.8-1 -0.2-2 -0.8-1 -0.2-2 -0.8-1 -0.2-2 -0.8-1 -0.2-2 -0.8-1 -0.2-2 -0.8-1 -0.2-2 -0.9-1 -0.1-2 -0.9-1 -0.1-2 -0.9-1 -0.1-2 -0.9-1 -0.1-2 -0.9-1 -0.1-2 -0.9-1 -0.1-2 -0.9-1 -0.1-2 -0.9-1 -0.2-2 -0.8-1 -0.2-2 -0.8-1 -0.2-2 -0.8-1 -0.2-2 -0.8-1 -0.2-2 -0.8-1 -0.2-2 -0.8-1 -0.2-2 -0.8-1 -0.2-2 -0.8-1 -0.2-3 -0.8-1 -0.2-2 -0.8-1 -0.2-2 -0.8-1 -0.2-2 -0.8-1 -0.2-3 -0.8-1 -0.2-2 -0.8-1 -0.2-3 -0.8-1 -0.2-3 -0.8-1 -0.2-3 -0.8-1 -0.2-3 -0.8-1 -0.2-4 -0.8-1 -0.2-4 -0.8-1 -0.2-5 -0.8-1 -0.2-6 -0.8-1 -0.3-8 -0.7-1 -0.3-12 -0.7-1 -0.2-11 0-33 0.3-2 0-7 0.8-1 0.2-9 0.8-1 0.2-7 0.8-1 0.2-5 0.8-1 0.2-5 0.8-1 0.2-4 0.8-1 0.2-3 0.8-1 0.2-3 0.8-1 0.2-2 0.8-1 0.2-2 0.8-1 0.2-2 0.8-1 0.2-2 0.8-1 0.2-2 0.9-1 0.1-1 0.8-1 0.2-2 0.8-1 0.2-2 0.9-1 0.1-1 0.8-1 0.2-2 0.8-1 0.2-2 0.8-1 0.3-2 0.7-1 0.3-2 0.8-1 0.1-1 0.9-1 0.2-2 0.8-1 0.1-1 0.9-1 0.1-1 0.9-1 0.1-1 0.9-1 0.1-1 0.9-1 0.2-1 2.8-3 0.1-1 7.5-7.5 1-0.1 2-1.9 1-0.1 1-0.9 1-0.1 1-0.9 1-0.1 1-0.8 3-0.2 1-0.8 4-0.2z"/>
<path fill="#484cef" d="M122 379.7l10 0 1 0.8 6 0.2 1 0.8 3 0.2 1 0.8 2 0.2 1 0.8 2 0.2 1 0.8 2 0.2 1 0.9 1 0.1 1 0.8 1 0.1 1 0.9 1 0.1 1 0.9 1 0.1 1 0.9 1 0.1 1 0.9 1 0.1 1 0.9 1 0.2 2 1.8 1 0.1 1 0.9 1 0.2 2 1.8 1 0.2 2 1.8 1 0.1 2 1.9 1 0.1 3 2.8 1 0.2 3 2.8 1 0.2 4 3.8 1 0.2 18.5 18.4 0.2 1 3.8 4 0.2 1 2.8 3 0.2 1 1.8 2 0.2 1 0.9 1 0.2 1 1.8 2 0.2 1 1.8 2 0.1 1 0.9 1 0.2 1 1.8 2 0.2 1 0.9 1 0.1 1 0.9 1 0.1 1 1.8 2 0.2 1 1.8 2 0.2 1 0.9 1 0.1 1 1.8 2 0.2 1 0.9 1 0.1 1 1.8 2 0.2 1 0.8 1 0.2 1 0.9 1 0.1 1 0.9 1 0.1 1 0.9 1 0.1 1 0.9 1 0.1 1 0.8 1 0.2 1 0.8 1 0.2 2 0.9 1 0.1 1 0.8 1 0.2 2 0.8 1 0.2 2 0.8 1 0.2 2 0.8 1 0.2 3 0.8 1 0.2 3 0.8 1 0.2 4 0.8 1 0.2 6 0.8 1 0.2 9 0.8 1 0.2 11 -0.2 18 -0.8 1 -0.2 4 -0.8 1 -0.2 3 -0.8 1 -0.2 2 -0.8 1 -0.2 2 -0.8 1 -0.2 2 -0.8 1 -0.2 2 -0.8 1 -0.2 2 -0.8 1 -0.1 1 -0.9 1 -0.2 2 -0.8 1 -0.2 2 -0.8 1 -0.1 1 -0.9 1 -0.2 2 -0.8 1 -0.1 1 -0.9 1 -0.2 2 -0.8 1 -0.2 1 -0.8 1 -0.2 1 -0.8 1 -0.2 1 -0.8 1 -0.2 1 -0.8 1 -0.2 1 -0.8 1 -0.2 1 -1.8 2 -0.1 1 -0.9 1 -0.2 1 -1.8 2 -0.1 1 -0.9 1 -0.1 1 -1.9 2 -0.1 1 -2.9 3 -0.1 1 -1.9 2 -0.1 1 -3.9 4 -0.1 1 -3.9 4 -0.1 1 -6.9 7 -0.1 1 -26.7 26.6 -1 0.1 -17.5 17.3 -0.5 0.5 -1 0.1 -7 6.9 -1 0.1 -3 2.9 -1 0.1 -3 2.8 -1 0.2 -2 1.8 -1 0.2 -1 0.9 -1 0.1 -2 1.8 -1 0.2 -1 0.8 -1 0.2 -1 0.8 -1 0.2 -1 0.8 -2 0.2 -1 0.8 -1 0.1 -4-0.1 -1-0.8 -2-0.2 -1-0.9 -1-0.1 -2-1.8 -1-0.1 -6.5-6.5 -0.1-1 -1.8-2 -0.1-1 -0.9-1 -0.2-2 -0.9-1 -0.1-1 -0.8-1 -0.2-2 -0.8-1 -0.2-2 -0.8-1 -0.2-2 -0.8-1 -0.2-2 -0.8-1 -0.2-2 -0.8-1 -0.2-2 -0.8-1 -0.2-2 -0.8-1 -0.2-2 -0.8-1 -0.2-2 -0.8-1 -0.2-2 -0.8-1 -0.2-2 -0.8-1 -0.2-2 -0.8-1 -0.2-2 -0.8-1 -0.2-2 -0.8-1 -0.2-2 -0.8-1 -0.2-2 -0.9-1 -0.1-2 -0.9-1 -0.1-2 -0.9-1 -0.2-2 -0.8-1 -0.2-2 -0.8-1 -0.2-2 -0.8-1 -0.2-2 -0.8-1 -0.2-2 -0.8-1 -0.2-2 -0.8-1 -0.2-3 -0.8-1 -0.2-2 -0.8-1 -0.2-2 -0.8-1 -0.2-2 -0.8-1 -0.2-3 -0.8-1 -0.2-2 -0.8-1 -0.2-3 -0.8-1 -0.2-3 -0.8-1 -0.2-3 -0.8-1 -0.2-3 -0.8-1 -0.3-4 -0.7-1 -0.3-4 -0.7-1 -0.3-5 -0.7-1 -0.3-6 -0.7-1 -0.3-8 -0.7-1 -0.3-12 -0.8-1 -0.1-25 0.3-28 0.8-1 0.2-9 0.8-1 0.2-7 0.8-1 0.2-5 0.8-1 0.3-5 0.7-1 0.3-4 0.8-1 0.2-3 0.8-1 0.2-3 0.8-1 0.2-2 0.8-1 0.2-2 0.8-1 0.2-2 0.8-1 0.2-2 0.8-1 0.2-2 0.8-1 0.2-1 0.8-1 0.2-2 0.8-1 0.2-2 0.8-1 0.2-1 0.8-1 0.2-2 0.8-1 0.2-2 0.8-1 0.2-2 0.8-1 0.2-2 0.8-1 0.2-1 0.8-1 0.2-2 0.8-1 0.2-1 0.8-1 0.2-1 0.8-1 0.2-1 0.8-1 0.2-1 0.9-1 0.1-1 2.9-3 0.1-1 7.3-7.3 1-0.1 2-1.9 1-0.1 1-0.9 1-0.1 1-0.9 1-0.1 1-0.9 3-0.1 1-0.9 4-0.1z"/>
<path fill="#4851f4" d="M122 379.9l10 0 1 0.8 6 0.2 1 0.8 3 0.2 1 0.8 2 0.2 1 0.8 2 0.1 1 0.9 2 0.1 1 0.9 1 0.1 1 0.9 1 0.1 1 0.9 1 0.1 1 0.9 1 0.1 1 0.9 1 0.1 1 0.8 1 0.2 1 0.9 1 0.1 2 1.8 1 0.2 1 0.9 1 0.1 2 1.9 1 0.1 2 1.8 1 0.2 2 1.8 1 0.2 3 2.8 1 0.1 3 2.9 1 0.1 4 3.8 1 0.2 18.4 18.3 0.2 1 3.8 4 0.2 1 2.8 3 0.2 1 1.8 2 0.2 1 0.9 1 0.2 1 1.8 2 0.2 1 1.8 2 0.2 1 0.8 1 0.2 1 1.8 2 0.2 1 0.9 1 0.2 1 0.8 1 0.2 1 1.8 2 0.1 1 1.8 2 0.2 1 0.9 1 0.2 1 1.7 2 0.2 1 0.9 1 0.2 1 1.7 2 0.2 1 0.8 1 0.2 1 0.9 1 0.2 1 0.8 1 0.1 1 0.9 1 0.1 1 0.9 1 0.1 1 0.8 1 0.2 1 0.8 1 0.2 2 0.9 1 0.1 1 0.8 1 0.2 2 0.8 1 0.2 2 0.8 1 0.2 2 0.8 1 0.2 3 0.8 1 0.2 3 0.8 1 0.2 4 0.8 1 0.2 6 0.8 1 0.3 9 0.7 1 0.2 9 0 15 -0.2 5 -0.8 1 -0.2 4 -0.8 1 -0.2 3 -0.8 1 -0.2 2 -0.8 1 -0.2 2 -0.8 1 -0.2 2 -0.8 1 -0.2 2 -0.8 1 -0.2 2 -0.8 1 -0.1 1 -0.8 1 -0.3 2 -0.7 1 -0.3 2 -0.8 1 -0.1 1 -0.8 1 -0.2 2 -0.9 1 -0.1 1 -0.8 1 -0.2 2 -0.9 1 -0.1 1 -0.9 1 -0.1 1 -0.9 1 -0.1 1 -0.9 1 -0.1 1 -0.9 1 -0.1 1 -0.9 1 -0.1 1 -1.8 2 -0.2 1 -0.9 1 -0.1 1 -1.8 2 -0.2 1 -0.9 1 -0.1 1 -1.9 2 -0.1 1 -2.8 3 -0.2 1 -1.9 2 -0.1 1 -3.8 4 -0.2 1 -3.8 4 -0.2 1 -6.8 7 -0.2 1 -26.6 26.4 -1 0.2 -18 17.8 -1 0.1 -7 6.8 -1 0.1 -3 3 -1 0.1 -3 2.8 -1 0.1 -2 1.9 -1 0.1 -1 1 -1 0 -2 1.9 -1 0.1 -1 0.9 -1 0.1 -1 0.9 -1 0.1 -1 0.9 -2 0.1 -1 0.9 -5 0 -1-0.9 -2-0.1 -1-0.9 -1-0.1 -2-1.9 -1-0.1 -6.3-6.3 -0.1-1 -1.9-2 -0.1-1 -0.9-1 -0.1-2 -0.9-1 -0.1-1 -0.9-1 -0.1-2 -0.9-1 -0.1-2 -0.9-1 -0.1-2 -0.9-1 -0.1-2 -0.9-1 -0.1-2 -0.9-1 -0.1-2 -0.9-1 -0.1-2 -0.9-1 -0.2-2 -0.8-1 -0.2-2 -0.8-1 -0.2-2 -0.8-1 -0.2-2 -0.8-1 -0.2-2 -0.8-1 -0.2-2 -0.8-1 -0.2-2 -0.8-1 -0.2-2 -0.8-1 -0.2-2 -0.8-1 -0.2-2 -0.8-1 -0.2-2 -0.8-1 -0.2-2 -0.9-1 -0.2-2 -0.8-1 -0.2-2 -0.8-1 -0.2-2 -0.8-1 -0.2-2 -0.8-1 -0.2-2 -0.8-1 -0.2-3 -0.8-1 -0.2-2 -0.8-1 -0.2-2 -0.8-1 -0.2-2 -0.8-1 -0.2-3 -0.8-1 -0.2-2 -0.8-1 -0.2-3 -0.8-1 -0.3-3 -0.7-1 -0.3-3 -0.7-1 -0.3-3 -0.7-1 -0.3-4 -0.7-1 -0.3-4 -0.7-1 -0.3-5 -0.7-1 -0.3-6 -0.7-1 -0.3-8 -0.8-1 -0.2-12 -0.8-1 -0.1-25 0.3-28 0.8-1 0.3-9 0.7-1 0.3-7 0.7-1 0.3-5 0.7-1 0.3-5 0.8-1 0.2-4 0.8-1 0.2-3 0.8-1 0.2-3 0.8-1 0.2-2 0.8-1 0.2-2 0.8-1 0.2-2 0.8-1 0.2-2 0.8-1 0.2-2 0.9-1 0.1-1 0.8-1 0.2-2 0.8-1 0.2-2 0.9-1 0.1-1 0.9-1 0.1-2 0.9-1 0.1-2 0.9-1 0.2-2 0.8-1 0.2-2 0.8-1 0.1-1 0.9-1 0.2-2 0.8-1 0.1-1 0.9-1 0.1-1 0.9-1 0.2-1 0.8-1 0.2-1 0.9-1 0.1-1 2.8-3 0.2-1 7.1-7.1 1-0.2 2-1.8 1-0.2 1-0.8 1-0.2 1-0.8 1-0.2 1-0.8 3-0.2 1-0.8 4-0.2z"/>
<path fill="#4757f7" d="M132 380.2l1 0.7 6 0.2 1 0.8 3 0.1 1 0.9 2 0.1 1 0.9 2 0.1 1 0.9 2 0.1 1 0.9 1 0.1 1 0.8 1 0.2 1 0.8 1 0.2 1 0.8 1 0.2 1 0.8 1 0.2 1 0.8 1 0.2 1 0.9 1 0.1 2 1.8 1 0.1 1 0.9 1 0.1 2 1.9 1 0.1 2 1.8 1 0.2 2 1.9 1 0.1 3 2.8 1 0.2 3 2.8 1 0.2 4 3.8 1 0.2 18.2 18.1 0.3 1 3.8 4 0.2 1 2.8 3 0.2 1 1.8 2 0.2 1 0.9 1 0.2 1 1.8 2 0.2 1 1.8 2 0.2 1 0.8 1 0.3 1 1.7 2 0.2 1 0.9 1 0.2 1 0.8 1 0.2 1 1.8 2 0.2 1 1.8 2 0.1 1 0.9 1 0.2 1 1.8 2 0.1 1 0.9 1 0.2 1 1.7 2 0.2 1 0.8 1 0.2 1 0.9 1 0.2 1 0.8 1 0.2 1 0.8 1 0.2 1 0.8 1 0.2 1 0.7 1 0.2 1 0.8 1 0.3 2 0.8 1 0.2 1 0.7 1 0.3 2 0.7 1 0.3 2 0.7 1 0.3 2 0.7 1 0.3 3 0.7 1 0.3 3 0.7 1 0.3 4 0.7 1 0.3 6 0.7 1 0.3 9 0.7 1 0.1 7 0.2 2 0 15 -0.3 5 -0.7 1 -0.3 4 -0.7 1 -0.3 3 -0.7 1 -0.2 2 -0.8 1 -0.2 2 -0.8 1 -0.2 2 -0.8 1 -0.2 2 -0.8 1 -0.2 2 -0.8 1 -0.2 1 -0.8 1 -0.2 2 -0.8 1 -0.2 2 -0.8 1 -0.2 1 -0.8 1 -0.2 2 -0.8 1 -0.2 1 -0.8 1 -0.2 2 -0.9 1 -0.1 1 -0.9 1 -0.1 1 -0.9 1 -0.1 1 -0.9 1 -0.1 1 -0.9 1 -0.1 1 -0.9 1 -0.1 1 -1.8 2 -0.2 1 -0.8 1 -0.2 1 -1.8 2 -0.2 1 -0.8 1 -0.2 1 -1.8 2 -0.2 1 -2.8 3 -0.1 1 -1.9 2 -0.2 1 -3.8 4 -0.1 1 -3.9 4 -0.2 1 -6.8 7 -0.2 1 -26.5 26.3 -1 0.2 -18 17.7 -1 0.1 -7 6.9 -1 0.1 -3 2.9 -1 0.1 -3 2.9 -1 0.1 -2 1.9 -1 0.1 -1 0.9 -1 0.1 -2 1.9 -1 0.1 -1 0.9 -1 0.1 -1 0.9 -1 0.1 -1 0.9 -2 0.1 -1 0.9 -5 0 -1-0.9 -2-0.1 -1-1 -1 0 -2-1.9 -1.2-0.3 -6-6 -0.1-1 -1.9-2 0-1 -1-1 -0.1-2 -0.9-1 -0.1-1 -0.9-1 -0.1-2 -0.9-1 -0.1-2 -0.9-1 -0.1-2 -0.9-1 -0.1-2 -0.9-1 -0.1-2 -0.9-1 -0.1-2 -0.9-1 -0.1-2 -0.9-1 -0.1-2 -0.9-1 -0.1-2 -0.9-1 -0.1-2 -0.9-1 -0.1-2 -0.9-1 -0.1-2 -0.9-1 -0.2-2 -0.8-1 -0.2-2 -0.8-1 -0.2-2 -0.8-1 -0.2-2 -0.8-1 -0.2-2 -0.8-1 -0.2-2 -0.8-1 -0.2-2 -0.8-1 -0.2-2 -0.9-1 -0.2-2 -0.8-1 -0.2-2 -0.8-1 -0.2-2 -0.8-1 -0.2-2 -0.8-1 -0.2-3 -0.8-1 -0.2-2 -0.8-1 -0.2-2 -0.8-1 -0.2-2 -0.8-1 -0.3-3 -0.7-1 -0.3-2 -0.7-1 -0.3-3 -0.7-1 -0.3-3 -0.7-1 -0.3-3 -0.7-1 -0.3-3 -0.7-1 -0.3-4 -0.7-1 -0.3-4 -0.7-1 -0.3-5 -0.7-1 -0.3-6 -0.7-1 -0.3-8 -0.8-1 -0.3-12 -0.7-1 0-9 -0.2-2 0.2-33 0.2-2 0.1-7 0.7-1 0.3-9 0.7-1 0.3-7 0.8-1 0.2-5 0.8-1 0.2-5 0.8-1 0.2-4 0.8-1 0.2-3 0.8-1 0.3-3 0.8-1 0.2-2 0.8-1 0.2-2 0.8-1 0.2-2 0.8-1 0.2-2 0.8-1 0.2-2 0.9-1 0.1-1 0.8-1 0.2-2 0.8-1 0.2-2 0.9-1 0.1-1 0.8-1 0.2-2 0.8-1 0.2-2 0.8-1 0.2-2 0.8-1 0.2-2 0.9-1 0.1-1 0.9-1 0.2-2 0.8-1 0.1-0.9 0.9-1.1 0.1-0.8 0.9-1.2 0.1-0.8 0.9-1.2 0.1-0.8 1-1.2 0.2-1 2.7-3 0.1-0.7 5-5.3 2.4-2 0.6-0.1 2.4-1.9 0.6-0.1 1.4-0.9 0.6-0.1 1-0.7 1-0.3 1-0.6 3-0.4 1-0.7 4-0.3 1-0.6z"/>
<path fill="#475dfa" d="M131 380.9l1 0.3 3 0.1 1 0.4 2 0.1 7 1.9 1 0 9 3.3 11 5.5 2 1.4 3 1.5 2 1.6 2 1 1 0.9 0.6 0.1 2.4 2 1 0.2 3 2.7 0.8 0.1 3.2 2.8 0.9 0.2 4.1 3.8 1 0.2 18.1 18 0.3 1 3.8 4 0.2 1 2.8 3 0.2 1 1.8 2 0.2 1 0.9 1 0.2 1 1.8 2 0.3 1 1.7 2 0.2 1 0.9 1 0.2 1 1.7 2 0.2 1 0.9 1 0.2 1 0.8 1 0.3 1 1.7 2 0.2 1 1.8 2 0.2 1 0.8 1 0.6 1.5 1.4 1.5 0.2 1 0.8 1 0.2 1 1.8 2 0.1 1 0.9 1 0.2 1 0.8 1 0.2 1 0.8 1 0.2 1 0.8 1 0.2 1 0.8 1 0.2 1 0.8 1 0.1 1 0.8 1 0.3 2 0.8 1 0.2 1 0.7 1 0.3 2 0.7 1 0.3 2 0.7 1 0.3 2 0.7 1 0.3 3 0.7 1 0.3 3 0.7 1 0.3 4 0.7 1 0.3 6 0.7 1 0.3 9 0.7 1 0.1 7 0.2 2 0 15 -0.3 5 -0.7 1 -0.2 4 -0.8 1 -0.2 3 -0.8 1 -0.2 2 -0.8 1 -0.2 2 -0.8 1 -0.2 2 -0.8 1 -0.2 2 -0.8 1 -0.2 2 -0.8 1 -0.2 1 -0.8 1 -0.2 2 -0.8 1 -0.2 2 -0.8 1 -0.2 1 -0.8 1 -0.2 2 -0.8 1 -0.2 1 -0.8 1 -0.2 2 -0.8 1 -0.2 1 -0.8 1 -0.2 1 -0.8 1 -0.2 1 -0.8 1 -0.2 1 -0.8 1 -0.2 1 -0.8 1 -0.2 1 -1.7 2 -0.2 1 -0.9 1 -0.2 1 -1.7 2 -0.2 1 -0.9 1 -0.2 1 -1.8 2 -0.2 1 -2.7 3 -0.2 1 -1.9 2 -0.2 1 -3.7 4 -0.2 1 -3.8 4 -0.2 1 -6.9 7 -0.2 1 -26.4 26.2 -1 0.2 -17.9 17.6 -1.1 0.2 -7 6.9 -1 0.1 -3 2.9 -1 0.1 -3 2.9 -1 0 -2 2 -1 0 -1 1 -1 0.1 -2 1.9 -1 0 -1 1 -1 0 -1 1 -1 0 -1 1 -2 0 -1 1 -5 0 -1-1 -2 0 -1-1 -1 0 -2-2 -1 0 -6.1-6.1 0-1 -2-2 0-1 -1-1 0-2 -1-1 0-1 -1-1 0-2 -1-1 0-2 -1-1 -0.1-2 -0.9-1 -0.1-2 -0.9-1 -0.1-2 -0.9-1 -0.1-2 -0.9-1 -0.1-2 -0.9-1 -0.1-2 -0.9-1 -0.1-2 -0.9-1 -0.1-2 -0.9-1 -0.1-2 -0.9-1 -0.1-2 -0.9-1 -0.1-2 -0.9-1 -0.1-2 -0.9-1 -0.2-2 -0.8-1 -0.2-2 -0.8-1 -0.2-2 -0.8-1 -0.2-2 -0.8-1 -0.2-2 -0.8-1 -0.2-2 -0.8-1 -0.3-2 -0.7-1 -0.3-2 -0.8-1 -0.2-2 -0.8-1 -0.2-2 -0.8-1 -0.2-3 -0.8-1 -0.3-2 -0.7-1 -0.3-2 -0.7-1 -0.3-2 -0.7-1 -0.3-3 -0.7-1 -0.3-2 -0.7-1 -0.3-3 -0.7-1 -0.3-3 -0.7-1 -0.3-3 -0.7-1 -0.3-3 -0.7-1 -0.3-4 -0.7-1 -0.3-4 -0.7-1 -0.3-5 -0.7-1 -0.3-6 -0.7-1 -0.4-8 -0.7-1 -0.3-12 -0.7-1 0-9 -0.2-2 0.1-23 0.4-19 0.7-1 0.4-9 0.7-1 0.3-7 0.7-1 0.3-5 0.7-1 0.4-5 0.7-1 0.4-4 0.6-1 0.5-3 0.5-1 0.5-3 1.5-4 0.5-2 0.5-1 0.5-2 0.5-1 1.7-5 1.4-3 1.6-5 1.4-3 1.5-5 1-2 1.6-5 1.9-4 0.2-1 3.2-6 4.1-6 2.5-3 2-2 3-2.4 3-2 4-2 7-2 3-0.3 1-0.4z"/>
<path fill="#4562fc" d="M131 381.6l1 0.4 3 0.1 1 0.3 2 0.1 3 0.8 1 0.1 5 1.4 9 3.4 7 3.3 1 0.7 5 2.6 4 2.7 3 1.7 11.2 7.8 4.8 3.9 1 0.6 4 3.5 14 14 0.3 1 3.7 4 0.2 1 2.9 3 0.2 1 1.8 2 0.2 1 0.9 1 0.2 1 1.8 2 0.3 1 1.7 2 0.2 1 0.9 1 0.2 1 1.8 2 0.2 1 0.8 1 0.3 1 0.8 1 0.2 1 1.7 2 0.2 1 1.8 2 0.2 1 0.8 1 0.7 1.6 1.3 1.4 0.2 1 0.8 1 0.3 1 1.7 2 0.2 1 0.8 1 0.2 1 0.8 1 1.3 3 0.7 1 0.3 1 1.7 3 0.2 1 0.8 1 0.3 2 1.6 3 0.3 2 0.7 1 0.3 2 0.7 1 0.3 2 0.7 1 0.3 3 0.7 1 0.3 3 0.7 1 0.3 4 0.7 1 0.4 6 0.7 1 0.3 9 0.7 1 0 7 0.2 2 0 15 -0.2 5 -0.8 1 -0.2 4 -0.8 1 -0.2 3 -0.8 1 -0.2 2 -0.7 1 -0.3 2 -0.7 1 -0.3 2 -0.7 1 -0.3 2 -0.7 1 -0.3 2 -0.7 1 -0.3 1 -0.7 1 -0.3 2 -0.7 1 -0.3 2 -0.7 1 -0.3 1 -0.7 1 -0.3 2 -0.7 1 -0.3 1 -0.7 1 -0.3 2 -0.8 1 -0.2 1 -0.8 1 -0.2 1 -0.8 1 -0.2 1 -0.8 1 -0.2 1 -0.8 1 -0.2 1 -0.8 1 -0.2 1 -1.7 2 -0.2 1 -0.9 1 -0.2 1 -1.7 2 -0.2 1 -0.9 1 -0.1 1 -1.9 2 -0.1 1 -2.8 3 -0.2 1 -1.8 2 -0.2 1 -3.8 4 -0.2 1 -3.8 4 -0.2 1 -6.8 7 -0.2 1 -26.4 26.1 -1 0.2 -18 17.7 -1 0.1 -7 6.8 -1 0.1 -3.3 3 -0.7 0.1 -3 2.6 -1 0.3 -2 1.6 -3 1.4 -2 1.4 -6 2.9 -3 1.1 -2 0.6 -1-0.1 -4-1.3 -5-2.7 -2-1.4 -3-3 -1.9-2.5 -2.2-4 -1.9-4 -0.5-2 -1-2 -1.5-5 -0.5-1 -0.5-2 -0.6-1 -0.4-2 -0.6-1 -0.4-2 -0.6-1 -0.4-2 -0.7-1 -0.3-2 -0.7-1 -0.4-2 -0.6-1 -0.4-2 -0.7-1 -0.3-2 -0.7-1 -0.3-2 -0.7-1 -0.3-2 -0.8-1 -0.2-2 -0.8-1 -0.2-2 -0.8-1 -0.2-2 -0.8-1 -0.3-2 -0.8-1 -0.2-2 -0.8-1 -0.2-2 -0.8-1 -0.2-2 -0.8-1 -0.3-2 -0.7-1 -0.3-2 -0.8-1 -0.2-2 -0.8-1 -0.2-2 -0.8-1 -0.3-3 -0.7-1 -0.3-2 -0.7-1 -0.3-2 -0.7-1 -0.3-2 -0.7-1 -0.3-3 -0.7-1 -0.3-2 -0.7-1 -0.3-3 -0.7-1 -0.3-3 -0.7-1 -0.3-3 -0.7-1 -0.3-3 -0.7-1 -0.3-4 -0.7-1 -0.3-4 -0.7-1 -0.4-5 -0.6-1 -0.4-6 -0.6-1 -0.4-8 -0.7-1 -0.3-12 -0.7-1 0-9 -0.3-2 0.3-33 0.3-2 0.3-7 0.5-1 0-4 0.3-1 0.2-4 0.5-1 0.1-3 0.3-1 0.2-3 0.4-1 0.1-2 0.3-1 0.2-2 0.4-1 0.1-2 0.4-1 0.6-4 0.5-1 0-1 2.2-8 3.2-10 5.8-15 2.4-7 4.8-12 3.1-5.7 4.4-6.3 3.7-4 4.9-3.8 5-2.7 2-0.7 6-1.5 2-0.2 1-0.4z"/>
<path fill="#4368fe" d="M130 382.4l2 0.3 6 0.5 9 2.3 4 1.3 11.7 5.2 6.3 3.4 7 4.3 11 7.6 9.5 7.7 11.4 11 3.1 3.4 0.1 0.6 3.7 4 0.3 1 2.9 3 0.2 1 1.8 2 0.2 1 0.9 1 0.3 1 1.7 2 0.3 1 1.7 2 0.2 1 0.9 1 0.3 1 1.7 2 0.2 1 0.8 1 1.4 3 1.6 2 0.3 1 1.7 2 0.2 1 0.9 1 0.7 1.7 1.2 1.3 0.2 1 0.8 1 0.3 1 1.7 2 0.2 1 0.8 1 0.2 1 0.8 1 1.3 3 0.7 1 0.3 1 1.7 3 0.2 1 0.8 1 0.3 2 1.7 3 0.3 2 0.7 1 0.3 2 0.7 1 0.3 2 0.7 1 0.3 3 0.7 1 0.3 3 0.7 1 0.3 4 0.7 1 0.3 6 0.7 1 0.3 9 0.7 1 0 7 0.3 2 0 10 -0.3 10 -0.7 1 -0.3 4 -0.7 1 -0.3 3 -0.7 1 -0.3 2 -0.7 1 -0.3 2 -0.7 1 -0.3 2 -0.7 1 -0.3 2 -0.7 1 -0.3 2 -1.7 3 -0.3 2 -0.7 1 -0.3 2 -1.7 3 -0.3 2 -0.7 1 -0.2 1 -0.8 1 -0.3 2 -0.8 1 -0.2 1 -0.8 1 -0.1 1 -0.9 1 -0.2 1 -0.8 1 -0.1 1 -0.9 1 -0.1 1 -0.9 1 -0.1 1 -1.8 2 -0.2 1 -0.8 1 -0.2 1 -1.8 2 -0.2 1 -0.8 1 -0.2 1 -1.8 2 -0.2 1 -2.7 3 -0.3 1 -1.8 2 -0.2 1 -3.7 4 -0.3 1 -3.7 4 -0.3 1 -6.8 7 -0.2 1 -26.3 26 -1 0.2 -9 8.8 -1.4 1 -7.6 7.2 -1.4 0.8 -6.6 5.8 -1 0.6 -4 3.1 -1 0.5 -1 0.9 -9 5.4 -7 3.2 -4 1.4 -5-1.5 -3-1.5 -3-2 -3-2.9 -1.6-2 -3-5 -4-10 -13.9-39 -0.1-1 -3-8 -0.5-2 -0.6-1 -0.4-2 -0.6-1 -0.4-2 -0.7-1 -0.4-2 -0.6-1 -0.4-2 -0.7-1 -0.3-2 -0.7-1 -0.4-3 -0.7-1 -0.3-2 -0.7-1 -0.3-2 -0.7-1 -0.3-2 -0.7-1 -0.3-3 -0.7-1 -0.3-2 -0.7-1 -0.3-3 -0.7-1 -0.3-3 -0.7-1 -0.3-3 -0.7-1 -0.3-3 -0.7-1 -0.3-4 -0.7-1 -0.4-4 -0.6-1 -0.4-5 -0.6-1 -0.4-6 -0.6-1 -0.4-8 -0.7-1 -0.4-12 -0.6-1 0-9 -0.3-2 0.3-33 0.4-1 0.2-7 0.5-2 0.7-9 0.4-1 0.7-7 0.4-1 0.1-2 0.4-1 0.7-5 1.5-7 3.7-13 3.7-10 10-26 1.3-3 4.7-8 4.8-6 4.9-4.2 5-3 5-1.8 4-1 2-0.1 1-0.3z"/>
<path fill="#3f6eff" d="M130 383.1l8 0.9 9 2.2 4 1.3 11 4.7 12 6.7 13 8.9 9.1 7.2 11.5 11 7 8 0.4 1 2.8 3 0.3 1 1.7 2 1.5 3 1.7 2 0.3 1 1.7 2 0.3 1 0.8 1 0.3 1 1.7 2 0.2 1 0.9 1 1.3 3 1.7 2 0.2 1 1.7 2 0.3 1 0.8 1 0.3 1 1.6 2 0.2 1 0.9 1 0.3 1 1.6 2 0.2 1 0.8 1 0.2 1 0.8 1 1.3 3 2.7 5 0.2 1 0.8 1 0.3 2 1.7 3 0.3 2 0.7 1 0.3 2 0.7 1 0.3 2 0.7 1 0.3 3 0.7 1 0.3 3 0.7 1 0.3 4 0.7 1 0.3 6 0.7 1 0.4 9 0.6 1 0 7 0.3 2 0 10 -0.3 10 -0.7 1 -0.3 4 -0.7 1 -0.3 3 -0.7 1 -0.3 2 -0.7 1 -0.3 2 -0.7 1 -0.3 2 -0.7 1 -0.3 2 -0.7 1 -0.3 2 -1.6 3 -0.3 2 -0.8 1 -0.2 2 -1.7 3 -0.3 2 -1.8 3 -0.2 2 -0.9 1 -0.1 1 -0.9 1 -0.1 1 -0.9 1 -0.1 1 -0.9 1 -0.1 1 -0.9 1 -0.1 1 -0.9 1 -0.1 1 -1.7 2 -0.3 1 -0.8 1 -0.2 1 -1.7 2 -0.3 1 -0.8 1 -0.2 1 -1.8 2 -0.2 1 -2.7 3 -0.2 1 -1.9 2 -0.2 1 -3.7 4 -0.2 1 -3.8 4 -0.3 1 -6.7 7 -0.3 1 -14.2 14.1 -11 10.5 -3.1 2.4 -16.9 15.5 -2 1.3 -3 2.8 -1 0.5 -2.1 1.9 -2.9 2.2 -9 5.8 -7 3.7 -4 1.7 -4 1.4 -4-1.1 -3-1.5 -4-2.6 -2-1.9 -2.2-2.7 -2.8-4.8 -3.4-8.2 -14.7-40 -0.9-3 -8.6-24 -0.6-3 -0.6-1 -0.4-2 -0.6-1 -0.4-2 -0.6-1 -0.4-2 -0.5-1 -0.5-3 -0.6-1 -0.4-2 -0.6-1 -0.4-3 -0.6-1 -0.4-3 -0.6-1 -0.4-3 -0.6-1 -0.4-3 -0.6-1 -0.5-4 -0.6-1 -0.4-4 -0.6-1 -0.4-5 -0.6-1 -0.4-6 -0.6-1 -0.5-8 -0.6-1 -0.4-12 -0.6-1 0-9 -0.3-2 0.4-32 0.4-2 0.3-7 0.4-2 0.3-4 0.3-1 0.2-4 2.2-14 2-10 3.8-13 12.2-32 3.1-7 4.2-7 3-4 2.5-2.9 4-3.3 4.4-2.8 2.6-1.2 3-1 4-1 2-0.1 2-0.4z"/>
<path fill="#3975fe" d="M130 383.9l4 0.3 6 0.9 5 1.1 6 1.9 10 4.2 9 4.8 2 1.4 2 1 13 8.7 9 7.1 11.3 10.7 3.6 4 6.6 8 0.5 1 1.6 2 1.6 3 3.7 5 0.3 1 0.8 1 0.3 1 1.7 2 0.2 1 0.9 1 1.3 3 1.7 2 0.2 1 1.8 2 0.2 1 0.8 1 0.3 1 1.7 2 0.2 1 0.8 1 0.3 1 1.6 2 0.2 1 0.8 1 0.3 1 0.7 1 4 8 0.2 1 0.8 1 0.4 2 1.6 3 0.4 2 0.6 1 0.3 2 0.7 1 0.3 2 0.7 1 0.4 3 0.6 1 0.3 3 0.7 1 0.3 4 0.7 1 0.4 6 0.6 1 0.4 9 0.6 1 0.1 7 0.2 2 0 10 -0.3 10 -0.7 1 -0.3 4 -0.7 1 -0.3 3 -0.7 1 -0.3 2 -0.6 1 -0.3 2 -0.7 1 -0.3 2 -0.7 1 -0.3 2 -0.7 1 -0.3 2 -1.7 3 -0.3 2 -0.7 1 -0.3 2 -1.7 3 -0.3 2 -1.7 3 -0.3 2 -0.8 1 -0.2 1 -0.8 1 -0.2 1 -0.8 1 -0.2 1 -0.8 1 -0.2 1 -0.8 1 -0.2 1 -0.8 1 -0.2 1 -1.7 2 -0.3 1 -0.8 1 -0.2 1 -1.7 2 -0.2 1 -0.9 1 -0.2 1 -1.8 2 -0.2 1 -2.6 3 -0.3 1 -1.8 2 -0.2 1 -3.7 4 -0.3 1 -3.7 4 -0.3 1 -6.8 7 -0.3 1 -14.1 14 -11 10.2 -3.6 2.8 -16.7 15 -1.7 1.1 -7 5.8 -1 0.5 -6 4.3 -9 5.1 -6 2.6 -4 1.3 -2-0.4 -2-0.7 -3-1.5 -3.2-2.1 -2.1-2 -1.7-2.1 -3.1-4.9 -3-7 -10.7-28 -14.2-38.9 -1.1-4.1 -0.5-1 -0.5-2 -0.5-1 -1.1-4 -0.8-2 -0.6-3 -0.6-1 -0.9-3 -0.5-3 -0.6-1 -0.5-3 -0.5-1 -0.5-3 -0.5-1 -0.4-3 -0.5-1 -0.6-4 -0.5-1 -0.5-4 -0.5-1 -0.5-5 -0.6-1 -0.4-6 -0.5-1 -0.5-5 -0.1-3 -0.5-1 -0.2-5 -0.3-2 0-5 -0.5-1 -0.2-9 -0.2-2 0.5-32 0.5-3 0.2-6 1.1-7 0.2-4 0.3-1 0.6-6 0.6-2 0.4-4 0.6-2 0.6-4 0.5-1 0.7-4 0.4-1 0.6-3 2.8-9 0.5-1 1.3-4 1.7-4 0.2-1 0.9-1.8 2-5.2 0.2-1 0.8-1.5 2.3-6.5 1.7-3.7 1.1-3.3 2.3-5 2.8-5 2-3 4.9-6 1.9-1.7 3-2.3 5-2.9 6-2 6-1.1z"/>
<path fill="#337bfd" d="M130 384.4l9 1 8 1.9 1.6 0.7 2.4 0.6 9 3.7 2 0.9 1 0.8 5 2.4 3 1.8 1 0.8 1 0.3 2 1.1 12 8.2 4 3.2 1 0.5 3 2.7 3 2.3 9 8.7 3.7 4 0.6 1 6 7 3.4 5 0.4 1 3.6 5 1.6 3 1.6 2 0.3 1 0.8 1 1.4 3 1.6 2 0.3 1 1.7 2 0.2 1 0.8 1 0.4 1 1.6 2 0.2 1 0.8 1 0.3 1 1.6 2 0.3 1 0.7 1 0.3 1 0.8 1.1 3.9 7.9 0.3 1 0.7 1 0.4 2 1.5 3 0.5 2 0.6 1 0.4 2 0.6 1 0.4 2 0.5 1 0.5 3 0.6 1 0.4 3 0.5 1 0.5 4 0.5 1 0.5 6 0.6 1 0.5 9 0.5 1 0.1 7 0.3 2 -0.1 15 -0.3 2 0 3 -0.6 1 -0.4 4 -0.6 1 -0.4 3 -0.6 1 -0.3 2 -0.7 1 -0.3 2 -0.7 1 -0.3 2 -0.7 1 -0.3 2 -0.7 1 -0.3 2 -1.7 3 -0.3 2 -0.7 1 -0.3 2 -1.7 3 -0.3 2 -1.7 3 -0.3 2 -0.8 1 -0.2 1 -0.8 1 -0.2 1 -0.8 1 -0.2 1 -0.8 1 -0.2 1 -0.8 1 -0.2 1 -0.8 1 -0.2 1 -1.6 2 -0.3 1 -0.8 1 -0.2 1 -1.7 2 -0.3 1 -0.8 1 -0.2 1 -1.8 2 -0.2 1 -2.7 3 -0.3 1 -1.8 2 -0.2 1 -3.7 4 -0.3 1 -3.7 4 -0.3 1 -6.7 7 -0.4 1 -11 11 -15 13.7 -3 2.3 -7 6.3 -2 1.4 -8 7.2 -1 0.5 -3 2.6 -7 5.2 -6 3.7 -7.5 4.1 -5.5 2.3 -4 1.3 -2-0.3 -4-1.7 -3.9-2.6 -2.1-2 -1.5-2 -2.6-4 -4.4-10 -9.8-25 -14.6-39 -4.1-13 -4-13.9 -0.1-1.1 -0.4-1 -0.6-3 -0.9-3 -0.1-1 -0.9-3.7 -0.1-1.3 -0.4-1 -0.6-4 -0.5-1 -0.6-5 -0.4-1 -0.6-6 -0.5-2 -0.1-2 -0.4-2 0-3 -0.5-1 -0.1-5 -0.4-2 -0.1-5 -0.4-1 -0.1-9 -0.4-2 0.2-14 0.5-18 0.5-3 0.2-6 0.7-4 0.4-6 0.7-3 0.4-5 0.7-2 0.3-4 0.7-2 0.5-4 0.5-1 0.3-2 2.1-8 0.5-1 0.1-1 0.9-2.2 0.7-2.8 3.3-8.3 0.4-1.7 0.6-1 2.5-7 1.5-3 1.6-5 2.4-5.2 0.5-1.8 2.9-6 2.4-4 2.8-4 4.4-5 4-3.4 5-2.9 3-1.2 4-1 3-0.4 2-0.5z"/>
<path fill="#2f81fa" d="M130 384.8l9 1 7 1.6 4 1.2 10 4 8 4.1 4 2.5 3 1.6 9 5.9 5 3.6 10 8.2 8 7.7 3.5 3.8 0.6 1 2.8 3 1.1 1.7 2.1 2.3 5.9 8.6 4 6.6 0.7 0.8 2.6 5 1.6 2 0.3 1 1.6 2 0.4 1 0.8 1.1 0.3 0.9 1.5 2 0.3 1 1.2 2 1.5 2 0.3 1 1.9 3.3 3.8 7.7 0.3 1 0.6 1 0.5 2 1.5 3 0.5 2 0.6 1 0.4 2 0.6 1 0.4 2 0.5 1 0.5 3 0.6 1 0.4 3 0.5 1 0.5 4 0.5 1 0.6 6 0.4 1 0.5 5 0.1 4 0.5 1 0.1 7 0.3 2 0 15 -0.3 1 -0.1 4 -0.6 1 -0.4 4 -0.6 1 -0.4 3 -0.6 1 -0.4 2 -0.6 1 -0.3 2 -0.7 1 -0.3 2 -0.6 1 -0.5 2 -0.9 2 -0.1 1 -1.5 3 -0.4 2 -0.6 1 -0.4 2 -1.6 3 -0.4 2 -1.6 3 -0.4 2 -1.8 3 -0.2 1 -0.8 1 -0.2 1 -0.8 1 -0.2 1 -0.8 1 -0.2 1 -0.8 1 -0.2 1 -1.6 2 -0.3 1 -0.8 1 -0.2 1 -1.7 2 -0.3 1 -0.8 1 -0.2 1 -1.8 2 -0.2 1 -2.6 3 -0.4 1 -1.8 2 -0.2 1 -3.6 4 -0.4 1 -3.6 4 -0.4 1 -6.7 7 -0.4 1 -7.9 7.6 -1.1 1.4 -4.9 4.7 -1.8 1.3 -10.2 9.3 -3.4 2.7 -7.6 6.7 -1 0.5 -8 7.1 -1.3 0.7 -3.6 3 -1.1 0.6 -3 2.4 -7 4.5 -9 4.8 -6 2.4 -3 0.9 -3-0.7 -3-1.5 -3-1.9 -2-1.9 -2-2.5 -2.6-4.1 -5.3-12 -11.2-28 -12.5-33 -4.2-13 -4.1-14 -0.1-1 -1.9-7 -2.1-11 -0.4-1 -0.2-2 -0.4-1 -0.1-2 -0.4-1 -0.1-2 -0.4-2 -0.1-2 -0.5-2 -0.1-2 -0.4-2 0-3 -0.5-2 -0.1-4 -0.4-2 -0.1-5 -0.4-1 -0.1-9 -0.4-2 0.2-14 0.5-17 0.5-3 0.3-7 0.6-2.7 0.5-7.3 0.6-2 0.5-6 0.6-2 0.5-4 1.6-8 3-11 5.4-15 0.6-1 2.5-7 1.4-3 1.3-4 1.9-4 1.5-4 3-6 2.3-4 2.8-3.9 4-4.6 4.2-3.5 3.8-2.4 5-1.9 4-1 4-0.7z"/>
<path fill="#2e86f7" d="M130 385.2l9 0.9 7 1.6 5 1.6 9 3.6 7 3.6 7 4 10 6.5 5 3.6 10 8.1 7.6 7.3 7.1 8 1.3 1.9 3.4 4.1 4.6 6.8 6 9.6 1.3 2.6 1.5 2 0.3 1 1.6 2 2.1 4 0.9 1 0.4 1 1.7 3 0.9 1 0.3 1 2 3.4 4.6 9.6 0.6 2 0.8 1.5 1.7 4.5 0.5 2 0.5 1 1.4 5 0.1 1 0.5 1 0.4 2 0 1 0.5 1 0.6 4 0.4 1 0.6 4 0 2 0.4 1 0.2 3 0.4 2 0 4 0.5 1 0.1 7 0.4 2 -0.1 15 -0.3 1 -0.2 4 -0.5 1 -0.4 4 -0.6 1 -0.5 3 -0.5 1 -0.4 2 -0.5 1 -0.4 2 -0.6 1 -0.4 2 -0.6 1 -0.5 2 -0.9 2 -0.1 1 -1.5 3 -0.4 2 -0.6 1 -0.5 2 -1.5 3 -0.5 2 -1.5 3 -0.5 2 -1.7 3 -0.2 1 -0.8 1 -0.2 1 -0.7 1 -0.3 1 -0.7 1 -0.3 1 -0.7 1 -0.3 1 -2.7 4 -0.3 1 -1.5 2 -0.3 0.8 -0.9 1.2 -0.2 1 -1.8 2 -0.2 1 -2.6 3 -0.3 0.9 -1.8 2.1 -0.3 1 -3.6 4 -0.3 0.9 -3.7 4.1 -0.3 0.8 -6 6.3 -1.2 1.9 -7.8 7.5 -1.3 1.5 -4.7 4.4 -2.1 1.6 -10.9 9.8 -2.9 2.2 -7.1 6.2 -1.4 0.8 -7.6 6.6 -2 1.2 -7 5.4 -7 4.4 -10 5.1 -8 2.9 -2.5-0.6 -2.5-1.1 -4-2.7 -3-3.2 -2.6-4 -5-11 -9.1-22 -8.4-21 -7.3-19 -4.2-13 -4.1-14 -2-8 -2.6-12 -1.6-10 -0.7-6 -0.4-2 -0.1-3 -0.4-2 -0.1-4 -0.5-2 0-5 -0.4-2 -0.1-8 -0.4-2 0.2-14 0.6-17 0.5-4 0.3-6 0.4-1.3 0.6-6.7 0.1-2 0.5-2 0.6-6 0.5-2 0.6-4 1.6-8 3-11 3.2-9 8.1-21 4.8-11 4-7 4.6-6 3.8-3.9 2.8-2.1 3.2-2 4-1.6 5-1.3 4-0.7z"/>
<path fill="#2d8cf3" d="M130 385.5l9 0.9 7 1.7 5 1.5 9 3.6 7 3.5 7 4 12 7.9 10 7.7 4 3.5 6.4 6.2 7.2 8 1.3 2 1.9 2 6.2 9 6 9.6 1.2 2.4 1.5 2 0.4 1 1.5 2 2.1 4 0.9 1 5.4 9.6 3.6 7.4 2.4 5.7 2.6 7.3 1.5 5 0 1 1 3 0 1 1.3 6 1.7 12 0.1 4 0.4 1 0.1 7 0.4 2 -0.1 15 -0.3 1 -0.2 4 -0.4 1 -0.6 4 -0.4 1 -0.1 1 -1.4 5 -0.5 1 -0.5 2 -0.5 1 -0.4 2 -0.9 2 -1.2 4 -1.4 3 -1.6 5 -1.4 3 -1.2 3.4 -0.9 1.6 -0.5 2 -4.6 9 -0.3 1 -3.6 6 -0.4 1 -2.6 4 -0.4 1 -1.6 2 -0.4 1 -2.5 3 -0.2 0.7 -1.9 2.3 -0.3 1 -3.5 4 -0.3 0.8 -3.8 4.2 -0.2 0.7 -6 6.3 -1.4 2 -7.6 7.3 -1.5 1.7 -4.5 4.2 -2.4 1.8 -9.6 8.6 -4.4 3.4 -6.6 5.7 -2 1.3 -7.1 6 -11.9 8.3 -5 2.9 -9 4.5 -8 2.8 -1-0.1 -2-0.7 -2-1 -3-1.9 -3.4-3.8 -2.1-3 -1.6-3 -7.6-17 -9.2-22 -7.3-18 -5.6-15 -5.2-16 -2.5-9 -4.6-20 -1.7-10 -0.1-2 -1-6 -0.1-3 -0.4-2 -0.1-4 -0.5-2 -0.1-5 -0.3-2 -0.1-8 -0.4-2 0.2-14 0.7-17 0.5-4 0.3-6 0.3-1 0.7-9 0.5-2 0.1-2 1.6-10 1.7-8 3-11 1.7-5 9.7-25 4.8-11 3.4-6 3.6-5 3.5-4 1.6-1.5 3-2.2 3-1.9 4-1.6 5-1.4 4-0.7z"/>
<path fill="#2b91ef" d="M130 385.9l9 0.9 7 1.6 4 1.2 10 3.9 7 3.5 6 3.3 13 8.5 5.7 4.2 7.3 6.1 8 7.7 6.4 7.2 1.4 2 1.9 2 6.2 9 6.1 9.7 3 5.3 1.5 2 5.1 9 0.8 1 0.4 1 2.2 3.8 3.5 7.2 4 10 2.5 8 0 1 1 3 0 1 1 4 1 6 0.1 2 0.9 6 0.1 4 0.4 1 0.1 7 0.4 2 -0.1 15 -0.3 1 -0.2 4 -0.4 1 -1 6 -3.4 11 -0.9 2 -1.7 5.2 -0.9 1.8 -1.6 5 -4.1 10 -5.9 12 -5.5 9 -0.4 1 -1.6 2 -0.4 1 -2.4 3 -1.2 2 -0.9 1 -0.4 1 -3.5 4 -0.2 0.6 -3.8 4.4 -0.6 1 -5.7 6 -1.4 2 -12.5 12.1 -14 12 -2.7 1.9 -7.3 6.1 -2 1.3 -8 6.6 -1.8 1 -7.2 5.2 -7 4.1 -9.9 4.7 -5.1 1.8 -2 0.5 -1 0.1 -3-1.3 -3-1.9 -1.5-1.2 -1.8-2 -2.1-3 -1.6-3 -6.2-13 -11.2-26 -7.5-18 -5.8-15 -5.1-16 -2.6-9 -4.6-20 -1.7-10 -0.1-2 -1-6 -0.1-3 -0.4-2 -0.1-4 -0.5-2 -0.1-5 -0.3-2 -0.1-8 -0.4-2 0.3-14 0.6-17 0.8-10 0.3-1 0.8-7 0-2 2.2-14 1.6-8 3.1-11 1.7-5 9.7-25 4.7-10.7 3.6-6.3 3.4-4.6 5-5.4 3-2.3 3-1.9 3-1.3 5-1.5 5-0.9z"/>
<path fill="#2896eb" d="M130 386.2l9 0.9 7 1.6 4 1.1 10 3.9 7 3.5 6 3.3 13 8.5 5.5 4 7.5 6.2 8 7.8 6.3 7 1.4 2 1.8 2 6.3 9 6.2 9.9 2.9 5.1 1.4 2 5.2 9 0.8 1 6.1 12 4 10 2.5 8 0.1 1 0.9 3 2 11 0.6 6 0.4 2 0.2 4 0.3 1 0.2 8 0.3 1 -0.1 15 -0.3 1 -0.2 4 -1.5 7 -3.3 11 -7.5 20 -6.6 14 -2.8 5 -3.6 5.8 -0.5 1.2 -5.6 8 -0.9 1 -0.5 1 -3.3 4 -0.2 0.5 -4.5 5.5 -5.7 6 -1.5 2 -12.3 11.9 -14 11.8 -20 15.6 -2 1.2 -7 4.9 -8 4.5 -9 4.1 -5 1.7 -3 0.6 -3-1.4 -3-1.9 -1-1 -4-5 -2-3.9 -5.4-11.1 -11.6-26 -7.6-18 -5.9-15 -5.8-18 -3.4-13 -2.7-12 -2.1-12 -0.1-2 -1-6 -0.1-3 -0.5-2 -0.1-4 -0.4-2 -0.2-5 -0.3-2 -0.1-8 -0.3-2 0.2-14 0.7-17 0.8-10 1-8 0.1-2 2.2-14 1.6-8 3.2-11 1.6-5 9.8-25 4.4-10.1 4-6.9 3-4.1 5-5.5 3.1-2.4 5.9-3.2 7-1.9 6-0.7z"/>
<path fill="#259be8" d="M129 386.6l10 0.8 7 1.6 4 1.1 10 3.9 7 3.5 6 3.2 11 7 7.2 5.3 7.8 6.4 6.9 6.6 7.2 8 3.3 4 6.3 9 16.5 27 5.8 11.2 2.8 6.8 2.5 7 1.4 5 2.6 12 1.5 11 0.1 3 0.4 3 0.2 7 0.3 1 -0.1 14 -0.3 2 -0.3 4 -0.9 5 -1.9 7 -4.4 13 -5 13 -6.6 14 -6.9 12 -6.5 9 -0.5 1 -10.7 13 -3 3 -1.5 2 -7.5 7 -1.8 2 -3.9 3.6 -12 9.9 -12 9.4 -1.8 1.1 -7.7 6 -1.8 1 -7.4 5 -7.3 4 -7 3.2 -7 2.5 -3 0.5 -2-0.9 -3-1.8 -2.5-2.5 -2.5-3.4 -3.7-6.6 -6.7-14 -9.1-20 -7.8-18 -6-15 -5.8-18 -2.4-9 -3.8-16 -2.1-12 -0.1-2 -0.5-2 -0.5-4 -0.1-3 -0.5-2 -0.1-4 -0.4-2 -0.2-5 -0.3-2 -0.1-8 -0.3-2 0.2-14 0.7-17 0.9-10 1-8 0-2 2.2-14 1.6-8 3.3-11 1.7-5 9.7-25 4.5-10 4.1-7 4.6-6 3-3.1 3.9-2.9 5.1-2.8 7-1.9 3-0.4z"/>
<path fill="#23a0e5" d="M129 387l10 0.8 7 1.5 4 1.1 9.3 3.6 7.7 3.7 5 2.9 1 0.3 11 7 7 5.1 8 6.5 7.7 7.5 9.6 11 6.3 9 16.5 27 5.9 11.5 2.7 6.5 2.5 7 1.4 5 2.6 12 1.5 11 1 16 -0.1 13 -0.3 1 -0.3 4 -0.9 5 -1.9 7 -2 6 -5.4 15 -4.3 10 -7.1 14 -6.2 10 -4.4 6 -0.5 1 -8.1 10 -5.6 6 -1.6 2 -7.5 7 -1.8 2 -3.7 3.3 -12 9.9 -12 9.2 -2 1.2 -8 6.1 -12 7.4 -6 2.9 -8 3.3 -5 1.6 -2 0.2 -2-0.9 -3-2 -2-2.1 -2.3-3.1 -3.4-6 -6.9-14 -9.4-20 -7.5-17 -6.6-16 -5.8-18 -2.5-9 -3.8-16 -2-12 -0.1-2 -1.1-6 -0.1-3 -0.5-2 -0.6-11 -0.4-2.2 -0.1-7.8 -0.3-2 0.3-14 0.7-17 1.3-15 0.5-3 0.1-2 2.2-14 1.6-8 3-10 3.5-10 8.2-20.8 4.6-10.2 4.2-7 4.8-6 2.9-3 3.5-2.6 3-1.8 4-1.6 4-1 4-0.7z"/>
<path fill="#20a4e3" d="M129 387.4l10 0.7 7 1.6 4 1.1 9 3.3 10 4.9 2 1.2 2 1 11 6.9 7 5.1 5 3.9 7.6 6.9 9.4 10.1 5 6.4 4.5 6.5 6.5 10.3 12.2 20.7 3.8 7.7 4.1 10.3 2.4 8 2.6 12 1.5 11 1 16 -0.1 12 -1 8 -0.5 3 -1.9 7 -4.4 13 -5 13 -7.2 15 -6.4 11 -8.5 12 -6.5 8 -5.6 6 -1.5 1.9 -9.5 9.1 -3.5 3.1 -12 9.7 -12 9.1 -2 1.2 -8 5.9 -10 6.1 -7 3.5 -5 2.1 -5 1.9 -5 1.4 -1 0 -3.6-2 -1.2-1 -3.4-4 -3.8-6.5 -7.9-15.5 -9.1-19.1 -8-17.7 -5.9-14.2 -4.4-13 -2-7 -4.6-18 -0.7-4 -0.4-1 -0.6-4 -1.5-8 -0.2-3 -0.9-5 -0.2-3 -0.4-2 -1.2-15 0-6 -0.2-2 0.2-14 0.7-17 0.5-4 0.4-6 1-8 0-2 2.2-14 1.7-8 2.9-10 5.6-15 6-15.1 5-10.9 4-6.7 5-6.2 3-3 3-2.2 3-1.8 4-1.6 5-1.3 6-0.8z"/>
<path fill="#1da9e0" d="M129 387.8l10 0.7 11 2.6 9 3.3 10 4.8 2 1.3 2 0.9 11 6.9 7 5 5 4 7.5 6.7 9.5 10.2 5 6.4 4.4 6.4 6.6 10.4 12.1 20.6 3.9 7.9 0.7 2.1 1.4 3 1.9 5.1 2.4 7.9 1.6 7 0.6 4 0.4 1 1.5 11 1 16 -0.1 12 -1 8 -2.5 10 -1.9 6 -3.9 11 -5.3 13 -7.6 15 -6.2 10 -6.5 9 -5.7 7 -7.8 8.7 -10 9.6 -3 2.6 -12 9.6 -12 8.9 -2.6 1.6 -7.4 5.3 -10 6 -8 3.8 -6 2.4 -8 2.5 -1-0.1 -3-1.7 -2.3-2.2 -1.7-2 -4.3-7 -7.9-15 -6.8-13.9 -10-21.3 -6.3-14.8 -2.8-8 -1.5-5 -0.5-1 -0.1-1 -1.9-6 -3.9-15.1 -1.4-6.9 -0.4-1 -1.6-10 -0.6-2 -0.2-3 -0.9-5 -0.1-3 -0.4-2 -1.2-15 -0.1-6 -0.2-2 0.3-14 0.6-17 0.5-3 0.4-7 1-8 0-2 2.3-14 1.6-8 3-10 4.1-11 7.5-19 2.4-5 0.7-2 3.1-6 4.8-7 2.8-3.3 3-3.1 3-2.2 3-1.8 3-1.3 6-1.7 6-0.8z"/>
<path fill="#18addb" d="M129 388.3l10 0.6 11 2.5 9 3.3 10 4.8 5 2.7 10 6.3 7 5 8 6.4 4.4 4.1 9.6 10.4 5 6.4 4.3 6.2 6.7 10.6 11.9 20.4 3.1 6 3 7.1 0.5 1.9 1.5 3.6 2.3 7.4 2.6 12 1.5 11 1 16 -0.1 12 -1 8 -2.5 10 -1.9 6 -4 11 -5.2 13 -7.6 15 -6.9 11 -7.4 10 -4.1 5 -7.7 8.6 -10 9.5 -4 3.4 -11 8.6 -12.2 8.9 -10.8 7.3 -9 5.2 -8 3.7 -5 1.9 -5.6 1.9 -3.4 0.9 -1-0.1 -2.9-1.8 -1.1-1.1 -2.4-2.9 -4.6-7.5 -8-15.1 -8.7-17.4 -9.1-19 -5.3-12 -0.5-2 -2.4-6.2 -1.4-4.8 -0.5-1 -1.6-6 -0.5-1 -5.6-23 -2.1-12 -0.9-7 -0.3-1 -0.8-9 -0.4-2 -0.8-17 0.2-14 0.7-17 0.4-2 0.5-8 0.5-3 0.5-7 0.5-2 0.1-2 1.5-9.2 1.8-8.8 3-10 0.6-1 0.5-2 0.6-1 0.2-1 1.6-4 0.6-2 7.6-19 2.9-6 0.2-1 3.2-6 4.9-7 5.6-6 2.7-2.1 3.2-1.9 2.8-1.3 6-1.7 6-0.7z"/>
<path fill="#12b1d6" d="M129 388.8l8 0.3 5.8 0.9 7.2 1.8 9 3.1 10 4.8 2 1.3 3 1.5 1 0.8 1.5 0.7 7.5 4.7 7 5 5 3.9 7.2 6.4 9.8 10.5 5 6.4 4.2 6.1 6.8 10.7 11.7 20.3 3.3 6.3 1.4 3.7 0.6 1 1.4 4 0.6 1 3.2 10 2 9 1.1 6 0.2 3 0.8 5 1 16 -0.1 12 -0.4 2 -0.6 6 -1.9 8 -2.5 8 -4.4 12 -4.8 12 -7.6 15 -6.9 11 -7.4 10 -4.1 5 -7.6 8.5 -10 9.4 -4 3.4 -9 7 -14.9 10.7 -2.1 1.2 -7 4.8 -10.8 6 -9.2 3.7 -8 2.6 -4 1 -1-0.3 -1.6-1 -3.4-3.6 -5.4-8.4 -4.6-8.2 -9.9-18.8 -9.6-19 -7.2-16 -0.6-2 -1.7-4 -4.7-15 -1.8-7 -3.9-16 -1.6-9 -1.4-10 -0.4-1 -0.9-10 -0.2-1 -0.6-9 -0.3-8 0.3-14 0.7-17 0.4-2 0.4-7.1 0.6-3.9 0.4-7 0.6-2 0-2 1.3-8 1-5 0.4-1 0.6-4 0.6-1 2.5-9 0.7-1 1.3-4.3 1.6-3.7 0.4-1.5 1.5-3.5 2.5-6.9 0.7-1.1 0.3-1.3 2.6-5.7 0.4-1.5 2.4-4.5 0.6-2 0.7-1 1.3-3 4-6 3-3.7 4-4.3 3.9-3 1.1-0.4 2-1.4 2-0.9 4-1.3 5-1z"/>
<path fill="#08b4d0" d="M139 390l11 2.2 1 0.5 2 0.5 5.2 1.8 10.8 5 2 1.3 5.2 2.7 7.8 4.9 7 5 5 3.9 7.1 6.2 9.9 10.6 5 6.5 4.1 5.9 6.9 10.8 11.6 20.2 3.4 6.7 2 4.6 1.3 3.7 0.7 1.4 3 9.6 2.1 9 0.2 2 0.9 4 0.1 3 0.9 5 0.6 12 0.4 4 -0.1 12 -0.5 2 -0.5 6 -0.4 1 -0.7 3.7 -1.7 6.3 -6 17 -4.8 12 -7.5 14.9 -7 11.1 -7.4 10 -4.1 5 -7.5 8.3 -12.6 11.7 -10.4 7.9 -15 10.5 -10.7 6.6 -9.8 5 -9.5 3.6 -5 1.6 -6 1.4 -1-0.3 -2-1.8 -3-3.7 -4.5-6.8 -8.5-14.6 -6.2-11.4 -9.8-19 -7.4-16 -3.3-9 -3.7-12 -4.1-16 -2.2-10 -2.3-13.3 -1.1-8.7 -1.3-15 -0.2-8 0.2-14 0.8-17 0.4-2 0.2-5 0.8-6 0.5-7 0.5-2 0-2 1.3-8 1-5 0.5-1 0.6-4 1.4-4 0.4-2 1.4-4 0.5-1 1.3-4 0.6-1 5.2-14 1-2 0.2-1 1.1-2 1.6-4 0.2-1 2.2-4 1.2-3 2.3-4 4.2-6 6-6.7 4-3.1 3.9-2.2 2.1-0.8 5-1.6 6-0.9z"/>
<path fill="#01b8ca" d="M139 390.7l10 1.9 9 2.8 10.5 4.6 2.5 1.6 3 1.3 1 0.9 1 0.3 9 5.7 12 8.9 4.5 4.3 1.5 1.1 10 10.6 0.8 1.3 2.6 3 4.9 7 7.7 12 9.3 16 4.2 8 3.5 7.8 2 5.1 2.8 9.1 3.3 15 0.5 6 0.5 2 0.5 12 0.5 4 -0.2 12 -0.4 2 -0.5 6 -0.5 1 -1.4 7 -0.5 1 -0.4 2 -6 17 -4.8 12 -7.4 14.7 -7 11.2 -7.5 10.1 -4.1 5 -6.5 7 -0.9 1.2 -13 11.9 -13 9.4 -12 8.1 -11 6.5 -10.2 4.9 -8.8 3.2 -6 1.7 -5 1.1 -2.4-2 -2.6-3.2 -5-7.3 -8.2-13.5 -9.5-17 -2.4-5 -4.4-8 -7.6-16 -1.9-5 -4.3-13 -2.5-9 -4.7-20 -1.8-10 -0.8-6 -0.3-1 -0.3-4 -0.3-1 -1.2-15 -0.2-8 0.2-14 0.8-17 0.4-2 0.1-4 0.9-7 0.1-3 0.4-2 0-2 0.5-2 0-2 0.9-4 0.5-4 1.9-9 1.6-5 0.4-2 3.2-9 0.6-1 4.1-11 2.2-5 0.2-1 1.1-2 1.9-5 2.3-4 0.7-2 2.8-5 4.4-6 5.2-5.6 4-3.2 5-2.8 7-2.1 5-0.8z"/>
<path fill="#02bac3" d="M138 391.2l11 1.9 8 2.4 11 4.6 9 4.9 4 2.7 4 2.3 2 1.7 1 0.4 2 1.7 2 1.2 5.1 4 8.6 8 7.3 7.8 0.7 1.2 2.3 2.6 5.2 7.4 7.8 12.1 7 12.1 7.7 14.8 4.1 10 2.8 9 2.3 10 0.6 4 0.4 1 0.5 6 0.6 2 0.6 13 0.4 2 0 9 -0.9 10 -2.1 10 -0.5 1 -1.4 5 -4.9 14 -4.9 12 -5.3 10.8 -6 10.3 -7.5 10.9 -7.2 9 -8.3 9.1 -12 10.8 -13 9.1 -13 8.4 -11 6.2 -6 2.9 -4 1.6 -9 2.9 -9 2.2 -1 0 -2-2 -4.7-6.2 -7.9-12 -6.1-10 -6.3-11 -8.5-16 -6.5-13.7 -3.1-8.3 -3.8-12 -4.2-16 -2.2-10 -1.8-10 -0.8-6 -0.3-1 -1.9-20 0.1-22 0.3-9 0.4-2 0.2-6 0.3-2 0.1-4 0.5-2 0.5-8 0.5-2 0-2 0.4-2 0-2 0.9-4 1.1-7 0.8-3 0.5-3 1.5-4.4 0.9-3.6 1.8-5 3.3-8 4.9-13 1.1-1.6 0.3-1.4 1.7-4 2-3.4 1-2.6 2.3-4 3.7-5 0.5-1 6.5-6.8 4-3 1-0.3 3-1.8 5-1.7 3-0.7 4-0.6z"/>
<path fill="#0bbdbd" d="M138 391.6l5 0.7 6 1.2 9 2.7 10 4.2 8.5 4.6 5.5 3.6 1.1 0.4 13.9 10.1 8.5 7.9 7.5 7.9 0.5 1.1 2.5 2.7 5.1 7.3 7.1 11 7.8 13.4 7.6 14.6 4 10 2.8 9 1.7 7 1.2 7 0.4 1 0.6 6 0.5 2 0.6 13 0.4 2 -0.1 9 -0.7 9.7 -2.2 10.3 -0.4 1 -0.5 2 -0.5 1 -0.4 2 -0.5 1 -4.4 13 -4.9 12 -5.2 10.6 -6 10.4 -7.6 11 -7.2 9 -8.2 8.9 -12 10.6 -13 9 -13 8.2 -11 5.9 -7 3.1 -4 1.5 -8 2.4 -9 1.9 -1-0.5 -1.9-2 -6.8-9 -8.6-13 -6-10 -12.7-22.9 -5.8-12.1 -3-8 -3.8-12 -3.7-14 -2.8-12 -1.3-8 -0.5-2 -0.7-6 -0.4-1 -0.5-6 -0.7-5 -0.2-6 -0.6-4 0.1-21 0.3-2 0.2-7 0.4-2 0.1-6 0.3-2 0.1-4 0.5-2 0.5-8 0.5-2 0.4-6 0.5-2 1.4-9 0.9-4 3-10 0.6-1 0.5-2 1.3-3 0.5-2 0.9-1.8 4.6-12.2 1.4-2.9 0.2-1.1 0.8-1 0.7-2 1.7-4 2.6-4.7 0.3-1.3 2.3-4 2.4-3 2-3 6-6.3 4-3 1.8-0.7 2.2-1.4 7-2.2 5-0.8z"/>
<path fill="#19bfb6" d="M139 392.1l9 1.5 10 2.9 10 4.2 7 3.9 1 0.4 6 3.9 1 0.3 10.9 7.8 5.1 4 1 1.2 3 2.5 9.9 10.3 0.5 1 2.7 3 4.9 7 7.1 11 7.9 13.6 7.4 14.4 4 10 2.6 8.2 1.9 7.8 1.6 8 0.6 6 0.5 3 0.6 12 0.4 2 -0.1 9 -0.6 9 -0.9 5.2 -1.4 5.8 -1.8 6 -4.4 12 -0.5 2 -4.8 12 -7.1 14.1 -2.5 3.9 -0.4 1 -5.9 9 -6 8 -3.5 4 -0.7 1.1 -8.3 8.9 -11.7 10.2 -11 7.5 -16 9.8 -10 5.1 -7 3 -5 1.6 -8 2.2 -6 1.2 -2 0.2 -4-4.4 -5-6.4 -9-13.2 -6-9.6 -12-21 -6.4-13.2 -2.8-7 -4.2-13 -3.7-14 -2.7-12 -0.8-5 -0.4-1 -1.3-10 -0.6-2 -0.3-5 -0.8-5 -0.4-8 -0.3-2 0-21 0.3-2 0.2-7 0.4-2 0-6 0.4-2 0.1-4 0.5-2 0.5-8 0.4-2 0.4-6 0.5-1.4 1.5-9.6 0.5-1.4 0.4-2.6 3-10 0.7-1 0.1-1 1-3 0.7-1 0.5-2 0.6-1 4.9-13 1.1-2.2 0.5-1.8 0.8-1 2.4-6 2.3-4 0.6-2 2.4-4.1 2-2.4 2-2.9 6-6.4 4-3.1 2-0.8 1-0.8 6-2.2 3-0.7 4-0.6z"/>
<path fill="#24c1ae" d="M139 392.3l10 1.9 9 2.7 10 4.2 3 1.7 1 0.3 3 1.9 1 0.3 5 3.3 2 0.9 15 10.9 7.1 6.6 7.5 8 0.6 1 2.8 3 0.4 1 4.4 6 7.2 11 8 13.8 7.2 14.2 4 10 1.9 6 2.1 8 2.1 10 1.1 9 0.7 12 0.3 2 -0.1 9 -0.6 9 -0.9 5 -1.4 6 -2.4 8 -2 5.6 -7 18.2 -5 10.3 -2 3.8 -2.6 4.1 -0.4 1 -4 6.2 -1.5 1.8 -0.4 1 -6 8 -3.5 4 -0.6 1 -8.5 9 -11.5 9.8 -11 7.4 -15 8.9 -7 3.6 -11 4.8 -9 2.5 -6 1.3 -5 0.8 -1-0.5 -3-3.2 -5.1-6.4 -6.9-9.4 -8.3-12.6 -3.7-6 -9-15.8 -6.1-12.2 -0.6-2 -2.3-5.3 -4.1-12.7 -3.9-15.1 -2-8.9 -3.6-20 -0.3-5 -0.7-4 -0.5-9 -0.4-2 0-21 0.4-2 0.5-15 0.4-2 0.1-4 0.4-2 0.1-4 0.4-1 0.6-8 0.3-1 0-2 0.4-1 1.6-10 0.4-1 0.5-3 3-10 0.6-1 0.1-1 1.1-3 0.7-1 0.5-2 1.4-2.9 0.3-1.1 3.8-10 1.1-2 0.6-2 0.7-1 1.9-5 2.6-4.5 0.9-2.5 2.3-4 1.8-2 2.8-4 5.2-5.4 4-3.1 6-2.9 3-1 3-0.7 4-0.6z"/>
<path fill="#2cc4a7" d="M127 392.6l12 0 10 1.8 9 2.8 10 4.1 2.8 1.7 1.2 0.4 2.5 1.6 1.5 0.6 5 3.4 2 0.8 15 10.8 3 3 1.9 1.4 9.5 10 1.5 2 1.9 2 0.5 1 5.7 8 7 10.9 0.4 1.1 0.8 1 1 2 1.9 3 4.9 9 5 10 2.1 5 1.3 4 0.6 1.1 2 6.3 2 7.6 1.1 5 0.6 4 0.4 1 0.7 7 0.4 2 0.7 12 0.3 2 -0.3 13 -0.4 5 -0.9 5 -1.4 6 -1.8 6 -4.9 14 -4.5 11.4 -5 10.5 -5.2 9.1 -3.8 6 -1.6 2 -0.4 1 -6 8 -7 8.2 -6.8 6.8 -10.2 8.5 -14 9.1 -14 7.9 -11 4.9 -5 1.9 -7 1.9 -8 1.7 -4 0.5 -1-0.1 -1-0.9 -8-9.2 -9-12.2 -9-13.8 -2.9-5.2 -4.4-7 -5.7-10.5 -3-6.2 -0.3-1.3 -2.7-6.3 -4-12.8 -2-6.9 -3.6-16 -3.6-20 -0.8-8 -0.4-1 -0.4-9 -0.5-2 0-21 0.4-2 0.4-15 0.5-2 0.1-4 0.3-2 0.2-4 0.4-1 0.5-8 0.4-1 0-2 0.3-1 1.1-7 1.5-7 2.2-7 0.8-3 0.6-1 0.1-1 1.1-3 0.7-1 0.1-1 1.6-3.4 4.3-11.6 1.1-2 0.2-1 1.4-2.8 1.6-4.2 2.4-4.1 1.2-2.9 2.3-4 1.8-2 2-3 5.7-6 4-3.1 5-2.6 4-1.4zM116.4 407l-0.5 0 -1.9 1.1 -1 1.3 -1 0.6 -3 2.8 -1.7 2.2 -1.3 1 -2 3.1 -0.4 0.9 0.2 1 0.2 0.1 4.5-5.1 7.8-8z"/>
<path fill="#32c69f" d="M127 392.9l12 0 10 1.8 9 2.7 10 4.2 2.2 1.4 2.8 1.2 1 0.8 2 0.9 5 3.3 2 0.9 7.1 4.9 7.9 5.9 3 3 1.6 1.1 9.6 10 4.8 6 10.7 16 1.6 3 0.8 1 1 2 1.9 3 4.9 9 0.3 1 4.5 9 2.1 5 2.2 6 2 6.3 1.7 6.7 2.2 11 0.7 6 0.4 2 0.6 12 0.4 2 -0.3 13 -0.5 5 -0.8 5 -1.4 6 -2.4 8 -4.7 13 -3.7 9 -0.2 1 -5 10.6 -6 10.5 -3 4.6 -8 11.1 -7 8.2 -7 7 -10 8.2 -14 8.9 -14.5 7.9 -12.1 5 -6.4 2 -5 1 -8 1.3 -3 0.2 -2-1.6 -7-7.7 -3.8-5.2 -2.2-2.5 -5.5-7.5 -7.3-11 -7.2-11.7 -5.1-9.3 -3.5-7 -3.2-8 -3.2-10.3 -2.4-8.7 -3.7-16 -3.8-20 -0.8-8 -0.4-1 -0.5-9 -0.5-2 -0.1-21 0.4-1 0.5-16 0.5-2 0-4 0.3-1 0.2-5 0.4-1 0.6-8 0.4-1 0-2 0.3-1 0.2-2 0.4-1 0.5-4 1.9-9 1.8-5 0.8-3 0.6-1 0.1-1 1.1-3 0.7-1 0.1-1 1.4-3 4.5-12 1.1-2 0.2-1 1.2-2.3 1.8-4.7 2.4-4 1.2-3 2.4-4 1.8-2 2-3 6.4-6.6 4-2.8 4-2 4-1.4 3-0.7 2-0.2zM152.1 406l-1.1-0.3 -0.7-0.7 -5.2-2 -8.1-1.7 -8-0.4 -7 1.1 -3.2 1 -1.8 1.2 -2 0.7 -1.5 1.1 -2.5 2.4 -1 0.6 -1 1.3 -1 0.8 -5 6.1 -2.4 4.8 -1.8 3 -0.8 1 -0.2 1 -1.3 3 -1.5 2.6 -0.3 1.4 -0.8 1 -5.9 14 -0.7 1 -0.6 2 -0.7 1 -0.1 1 -0.8 1 -0.6 2 -0.7 1 -1.2 4 -0.6 1 -1 3.1 -0.3 1.9 -0.7 1.8 -0.7 3.2 -0.9 5 -0.4 1 -0.5 4 -0.6 2 -0.1 3 -0.4 1 0 3 -0.6 2 0 4 -0.5 1 0.1 4 -0.6 2 0.1 7 -0.5 1 0.6 4.6 7.4-32.6 1.9-7 2.9-9 3.4-9 4.1-9 4.3-8 4.4-7 4.6-6.2 5-5.5 5-4.6 6-4.4 5-2.7 6-2.5 7-1.9 9.1-1.2z"/>
<path fill="#37c897" d="M127 393.1l12 0.1 9 1.5 8 2.3 12 4.9 7.7 4.1 5.3 3.4 3 1.6 14 10.1 3 3 1.4 0.9 9.6 10.1 4.9 5.9 10.7 16 1.6 3 0.9 1 0.8 2 2 3 4.8 9 0.2 1 0.7 1 5.1 11 4.3 12 2 7 2 9 1.1 7 0.2 3 0.5 2 0.9 14 -0.2 13 -0.5 5 -0.8 5 -1.4 6 -2.4 8 -4.7 13 -3.9 10 -4.8 10.2 -6.1 10.8 -5.9 9 -7 9 -5.1 6 -4.9 5 -10 8.4 -4 2.9 -7 4.4 -8 4.5 -12 6.2 -12 4.5 -6 1.6 -6 1 -6 0.8 -3 0.1 -1-0.2 -8-8.3 -4-5 -2-2.1 -5.9-7.8 -7.1-10.3 -7.4-11.7 -5.6-10 -3.1-6 -0.2-1 -1.5-3 -1.2-3.3 -4-12.7 -5.6-23 -1.9-10 -0.8-3 -0.1-2 -0.7-2 -0.5-5 -0.5-1 -0.3-5 -0.4-1 -0.1-3 -0.4-2 -0.1-4 -0.4-2 -0.2-21 0.4-1 0.4-16 0.4-1 0.2-5 0.3-1 0.2-5 0.4-1 0-3 0.3-1 0.2-4 0.4-1 0-2 0.4-1 0.1-2 0.4-1 0.5-4 1.3-5 0.7-4 1.1-3 1.3-4.6 0.7-1.4 0.2-1 1.7-4 0.2-1 1.4-3 4.5-12 1.2-2 0.1-1 1.1-2 1.9-5 2.4-4 1.2-3 2.5-4 1.8-2 2-3 6.1-6.3 4-2.8 1-0.3 3-1.8 7-2.1 2-0.1zM172 413.9l-1-0.3 -2-1.6 -3-1.5 -1.9-1.5 -1.1-0.3 -1.2-0.7 -5.8-2.4 -1-0.7 -9.1-2.9 -8.9-1.7 -8-0.2 -6.1 0.9 -3.9 1.3 -2 1.1 -2 0.8 -3 2.1 -4.8 4.7 -1.5 2 -2 2 -2.5 4 -0.8 2 -3 5 -1.4 2.8 -0.3 1.2 -1.1 2 -0.3 1 -2.3 4.4 -0.4 1.6 -1.6 3.2 -0.5 1.8 -1.5 3 -0.7 2 -0.6 1 -0.2 1 -0.7 1 -1.5 4 -0.7 1 -0.6 1.5 -0.3 1.5 -1.7 4 -1.9 7 -0.6 4 -0.5 1 -0.6 4 -0.5 1 0 2 -0.5 2 0 2 -0.6 2 0 3 -0.6 2 -0.1 3 -0.4 2 -0.2 5 -0.5 1 -0.1 6 -0.4 2 0 7 -0.2 1 -0.5 1 0 19 0.2 1.1 0.6 0.9 0.4 4.1 1.6-4.1 1.4-5 6.4-37 2.7-12 2.9-10 3.5-10 4.4-10 4.9-9 5.2-7.9 6-7.3 3.8-3.8 3.2-2.9 7-5 7-3.7 4-1.6 5-1.4 5-1 5-0.4 4-0.1 5 0.3 13 2 0.3-0.2 -0.9-1z"/>
<path fill="#3fca8e" d="M127 393.4l12 0 9 1.5 8 2.3 12 5 7.3 3.8 2.9 2 5.8 3.3 9 6.3 5 3.7 3 3 1.1 0.7 0.9 1.1 2 1.8 7 7.4 4.7 5.7 10.7 16 1.7 3 0.9 1.1 0.8 1.9 1.9 3 4.8 9 0.3 1 0.7 1 4.9 11 3.3 9 2.2 7 2.8 12 1.8 12 0.9 14 -0.2 13 -1.3 10 -1.3 6 -2.1 7 -5 14 -3.9 10 -4.6 10 -2.2 4 -4 7 -6 9 -7 9 -5.2 6 -6.6 6.6 -11 8.7 -11 6.7 -17 8.4 -7 2.5 -8 2.5 -5 0.9 -9 1 -4 0 -3-2.6 -5.6-5.7 -9.4-11.1 -9.4-12.9 -7.6-11.7 -8.4-15.3 -3.2-8 -3.8-12 -3.9-15 -1.2-6 -0.5-1.2 -1.3-6.8 -0.8-3 -0.4-3 -0.5-1 0-2 -0.6-2 -0.2-2 -0.4-1 0-2 -0.4-1 -0.1-2 -0.8-4 0-3 -0.5-2 -0.1-4 -0.4-2 -0.2-21 0.3-1 0-8 0.4-1 0-7 0.4-1 0.1-5 0.3-1 0.1-4 0.5-2 0.1-3 0.3-1 0.2-4 0.4-1 0-2 0.3-1 0.2-2 0.4-1 0.3-2 0.1-2 1.4-5 0.6-4 1.2-3 0.7-3 1.3-3 0.1-1 0.6-1 0.4-1.4 0.8-1.6 0.1-1 1.5-3 4.5-12 1.2-2 0.1-1 1.1-2 1.9-5 0.8-1 4-8 1.3-2 1.9-2 2-3 5.8-6 4-2.8 1-0.3 3-1.8 7-2.1 2-0.2zM201 432.5l-1-0.6 -2.8-2.9 -2.2-1.5 -1.2-1.5 -2.8-1.7 -1.5-1.3 -9.1-6 -3.4-1.6 -8-4.8 -2-0.8 -2-1.3 -10.3-4.5 -10.7-3.1 -7-1.2 -8-0.1 -4 0.4 -6.7 2 -5.3 2.8 -3 2.9 -1 0.6 -0.3 0.7 -5.6 6 -2.4 4 -1.3 3 -1.4 1.9 -2.1 4.1 -0.7 2 -1.2 2 -0.2 1 -1.2 2 -4.5 11 -1.9 4 -0.2 1 -0.8 1 -1.4 4 -0.8 1 -0.7 3 -1.4 3 -1.2 5 -1.5 5 -0.6 4 -1 4 -0.1 2 -0.6 2 -0.1 3 -0.4 1 0 3 -0.6 2 -0.1 4 -0.4 1 -0.1 4 -0.5 2 -0.2 7 -0.5 1 -0.1 7 -0.5 2 -0.3 20 0.5 1 0 5 0.5 1 0.1 3 0.4 1 0.3 2 0.6 1 0.1 2 1.4 4 1-0.2 1.1-2.8 9-54 3.1-14 3.8-13.1 1.8-4.9 2.6-6 5.2-10 5.9-9 3.2-4 3.3-3.7 4-3.8 4-3.3 4-2.8 5-2.9 5-2.2 5-1.7 5-1.1 5-0.7 6-0.2 6 0.3 6 1 7 1.7 6 2.1 6 2.7 6 3.1 8 4.8 1 0 0-0.4z"/>
<path fill="#4bcb84" d="M127 393.6l12 0 2 0.5 5 0.6 10 2.8 12 4.9 7 3.7 3 2 4 2.1 11 7.6 5 3.7 1.2 1.5 2.8 2.1 10 10.4 4.5 5.5 4.8 7 6 9 1.6 3 1.1 1.4 0.6 1.6 1.9 3 4.8 9 0.3 1 0.7 1 6.5 15 0.1 1 1.6 4 2.1 7 3.3 15 1.3 9 1 14 -0.2 13 -0.4 2 -0.6 6 -1.7 8 -2 7 -5 14 -3.9 10 -4.6 10 -2.1 4 -4.7 8 -5.4 8 -7 9 -5.2 6 -6.4 6.3 -11 8.8 -11 6.4 -11 5.3 -9 3.8 -12 3.4 -6 0.8 -7 0.6 -4 0 -3-2.3 -6-5.7 -3.7-4.4 -2.3-2.2 -5-6 -8-10.7 -9.2-14.1 -6.5-12 -3.3-8 -2.6-8 -3-11 -0.5-1 -0.4-3 -0.5-1 -1.2-6 -0.7-2 -0.5-3 -0.4-1 0-1 -0.4-1 -0.5-3 -0.4-1 -0.6-4 -0.7-2 0-2 -0.3-2 -0.5-1 -0.1-4 -0.7-0.5 -0.2-0.5 0-3 0.2-1.2 0.4 1.2 0 2 0.8 2 0.5 4 0.7 1 0.6 2 0 1 0.8 2 0.6 1 0.1 1 0.7 2 0.8 1.3 1 0.1 3.6-19.4 4.8-32 2.7-15 3.5-15 2-7 2.4-6.9 4.2-10.1 5.2-10 5.6-8.6 6.1-7.4 3.2-3 3.7-2.9 7-4.3 7-3.1 4-1.3 4-0.9 4-0.6 5-0.4 4 0 5 0.4 4 0.6 5 1 9 2.9 9 4.2 8 4.9 8 6.1 10 9 1 0.7 0.1-0.3 -2-4 -3.1-4.8 -1.7-2.2 -0.4-1 -1.9-2.3 -1.7-1.7 -0.4-1 -2.9-2.7 -1-1.5 -4-3.9 -2-1.5 -2.5-2.4 -1.5-1 -2-2 -14-9.2 -2-0.8 -3-1.6 -2-1.4 -2-0.9 -2-1.2 -1-0.3 -3-1.8 -10-4.3 -4.9-1.5 -6.1-1.6 -7-1.1 -8-0.1 -2 0.4 -2 0 -7 2.1 -4 2 -2.9 2.3 -1.1 1.2 -1.2 0.8 -0.6 1 -1.2 1 -2.4 3 -1.6 1.6 -2.7 4.4 -1.4 3 -1.9 3 -3.3 7 -0.2 1 -1.4 2 -0.2 1 -1.9 4 -0.2 1 -1.8 3.8 -0.3 1.2 -1.7 3.6 -0.4 1.4 -0.8 1 -0.1 1 -1.2 3 -0.8 1 -0.8 3 -1.3 3 -1.2 5 -0.7 2 -0.4 2 -0.4 1 -0.2 2 -0.4 1 0 1 -0.3 1 -0.3 2 -0.5 1 0 2 -0.5 2 -0.2 3 -0.4 1 -0.1 3 -0.5 2 -0.1 4 -0.5 1 0 4 -0.5 2 -0.2 7 -0.5 1 -0.1 7 -0.6 2 -0.6 20 -0.4 0.6 -0.2-0.6 -0.3-21 0.3-1 0-8 0.4-1 0-7 0.4-1 0.1-5 0.3-1 0.1-4 0.5-2 0.4-7 0.5-2 0-2 0.4-1 0.1-2 0.5-1 0-1 0.3-1 0.1-2 0.4-1 0.2-2 0.7-2 0.7-4 1.2-3 0.7-3 1.3-3 0.1-1 0.7-1 0.1-1 1-2 0.1-1 0.7-1 5.2-13.7 1.3-2.3 0.1-1 1.1-2 1.9-5 0.8-1 4-8 1.4-2 1.8-2 2.1-3 5.5-5.6 4-2.9 1.4-0.5 2.6-1.6 7-2.2 2-0.1zM72 548.4l0.2 0.6 0.2 4 -0.4 0.3z"/>
<path fill="#58cc79" d="M127 393.9l12 0 2 0.5 5 0.6 10.9 3 11.1 4.6 7 3.7 6 3.8 1 0.3 11 7.6 1 1 4 2.8 1 1.3 3 2.3 10 10.3 0.8 1.3 3.5 4 4.9 7 4.4 7 1.5 2 1.6 3 1.3 1.7 0.5 1.3 1.8 3 4.9 9 0.2 1 0.7 1 6.5 15 0.1 1 1.5 4 2.1 7 2.4 10 0.6 4 0.4 1 0.2 3 1 6 0.4 7 0.3 2 0.3 6 -0.1 8 -0.7 9 -0.4 3 -1.6 8 -2 7 -3.8 11 -3.9 10 -5.8 13 -6.8 12 -8.3 12 -9.3 11 -5.2 5.2 -9.7 7.8 -4.3 3 -12 6.5 -8 3.7 -8 3.2 -13 3.3 -7 0.6 -5 0.2 -4-0.1 -1-0.3 -2-1.5 -5-4.7 -1-0.7 -4-4.4 -2-1.8 -5-5.7 -8.1-10.3 -9.4-14 -6-11 -2.8-6 -3.2-10 -0.5-1 -1.5-6 -2.1-11 -0.5-1 -0.1-2 -0.8-1 0-1.4 2 2.4 1 0.1 0.5-1.1 4.1-27 4.7-33 2.4-14 1.9-9 2.4-9 2.6-8 2.6-7 4.8-10 5.4-9 6.2-8 6.4-6.5 7-5.6 4-2.5 4-2.1 4-1.7 4.8-1.6 4.2-0.8 3-0.3 4-0.1 5 0.3 4 0.5 5 1 5 1.4 5 1.8 4 1.8 5 2.5 8 5 8 6.2 8 7.5 12 12.8 0.3-0.6 -0.3-1 -0.8-1 -0.2-1 -0.6-1 -0.2-1 -1.8-3 -0.4-1.3 -1.9-3.7 -3.6-5 -0.4-1 -1.7-2 -0.4-1 -1.6-2 -0.4-1 -1.1-1 -2.6-4 -2.3-2.2 -2-2.8 -1.3-1 -1.6-2 -4.1-4 -1-0.5 -3-2.9 -2-1.4 -1.1-1.2 -2.9-1.8 -3-2.3 -5-3 -1-0.9 -3-1.8 -2-0.7 -5-3.2 -1-0.2 -3-1.8 -1-0.2 -3-1.9 -6-2.3 -4-1.9 -8-2.3 -3-0.7 -7-1.1 -8-0.1 -2 0.4 -2 0.1 -7 1.9 -2 1.3 -2 0.7 -3 2.4 -4.4 4.4 -3.6 4.1 -1.4 1.9 -3 6 -2 3 -3.2 7 -0.2 1 -1.2 1.5 -0.4 1.5 -5.7 13 -0.6 2 -0.8 1 -0.1 1 -0.6 1 -0.7 2 -0.7 1 -1.2 4 -1.3 3 -0.8 4 -0.8 2 -0.3 2 -0.4 1 -0.1 2 -0.5 1 -0.6 4 -0.5 1 0 2 -0.4 1 -0.2 4 -0.5 1 0 3 -0.5 1 -0.2 5 -0.5 1 0 4 -0.5 2 -0.2 6 -0.5 2 -0.2 7 -0.7 2 -0.5 14.1 -0.3-15.1 0.3-1 0-8 0.5-1 -0.1-7 0.4-1 0-5 0.4-1 0.1-4 0.4-2 0-3 0.4-1 0.1-3 0.5-2 0-2 0.4-1 0.5-4 0.4-1 0-2 0.5-1 0.2-2 0.7-2 0.6-4 1.3-3 0.6-3 1.4-3 0.1-1 0.7-1 1.2-4 0.7-1 4.1-11 1.7-4 0.7-1 0.1-1 1.1-2 2-5 1.8-3 1.5-3.4 1.5-2.6 5.3-7 5.2-5.3 4-3 2-0.7 1-0.8 6-2.2z"/>
<path fill="#65cd6e" d="M127 394.1l12 0 2 0.5 2 0.1 1 0.4 4 0.6 8.2 2.3 11.8 4.8 2 1.3 2 0.8 2 1.3 1 0.3 6 3.9 1 0.2 9 6.2 7 5.2 1 1.3 3 2.3 10 10.2 0.6 1.2 3.5 4 4.9 7 0.5 1 6.7 10 0.4 1 1.4 2 0.3 1 0.8 1 2.5 5 1.4 2.2 2 3.8 0.2 1 1.2 2 0.2 1 1.5 3 4.3 10 0.1 1 3.6 11 2.4 10 0.5 4 0.4 1 0.8 7 0.5 2 0.3 7 0.4 2 0.2 5 -0.2 3 0 7 -0.6 8 -1.9 11 -1.9 7 -2.1 6 -6.8 18 -4.7 10 -2.1 4 -6.6 11 -7.1 10 -9.6 11.1 -5 4.8 -11 8.5 -9 5.1 -4 1.9 -1 0.7 -9 3.8 -7 2.6 -13 2.9 -9 0.4 -7-0.3 -2.1-1.5 -5.9-5 -9-9 -6.9-8 -2.1-3 -1.8-2 -7.7-11 -5.5-9.5 -2.2-4.5 -0.8-1 -0.4-2 -1.1-2 -1.4-4 -2-8 -0.2-3 0.1-0.8 1.1-1.2 0.5-2 1.1-12 2.7-20 4.2-34 2.3-15 2-10 2.3-9 3-9 3.2-8 2.6-5.4 3-5.4 3-4.7 3-4.1 3.7-4.4 3.3-3.5 3-2.7 4-3.2 4-2.7 4-2.2 4-1.9 4-1.5 4-1.1 5-1 4-0.5 5-0.1 4 0.2 5 0.6 8 1.8 6.7 2.8 8.3 4.8 8 5.8 7 6.2 5.3 5.2 5.5 6 11.2 13.5 0.1-1.5 -0.1-0.9 -0.6-1.1 -0.3-2 -0.7-1 -0.4-1.6 -0.9-1.4 0-1 -0.9-1 -1-3 -0.9-1 -1-2 -0.2-1 -2.4-4 -0.7-1.9 -9.5-14.1 -2.4-3 -1.1-2 -2.1-2 -1.5-2 -2.4-2.3 -1.2-1.7 -4.8-4.6 -1-0.5 -2.9-2.9 -1.1-0.5 -2-2 -3-1.9 -1-0.9 -10.5-6.7 -2.5-1.1 -5-3.1 -1-0.2 -2.6-1.6 -1.4-0.4 -2.5-1.6 -10.5-4.4 -6-1.6 -2-0.8 -4-0.6 -2-0.5 -2-0.1 -1-0.4 -9-0.1 -4 0.4 -7 1.9 -2 1.3 -2 0.7 -3 2.4 -4.9 4.8 -3.5 4 -1.6 2.3 -2.8 5.7 -2 3 -0.3 1 -2.5 5 -0.6 2 -0.9 1 -5.7 14 -0.7 1 -0.6 2 -0.7 1 -0.1 1 -0.7 1 -0.4 1.5 -1.3 2.5 -0.8 3 -1.3 3 -0.8 4 -0.8 2 -0.3 2 -0.4 1 -0.1 2 -0.5 1 0 1 -0.4 1 -0.2 2 -0.4 1 -0.1 2 -0.4 1 -0.2 4 -0.5 1 0 3 -0.5 1 -0.1 4 -0.5 2 -0.1 4 -0.6 2 -0.2 6 -0.3 1 -0.2 4.1 -0.3-4.1 0-8 0.2-1 0.1-5 0.5-1 0-4 0.4-2 0-3 0.5-1 0-3 0.4-2 0-2 0.5-1 0.5-4 0.4-1 0.1-2 0.4-1 0.2-2 0.7-2 0.2-2 0.8-3 0.9-2 0.7-3 1.3-3 0.1-1 0.7-1 0.2-1 0.9-2 0.2-1 0.6-1 4.8-12.6 1.6-3.4 0.1-1 0.8-1 2.4-6 1.9-3 1-2 0.2-1 3-4.8 1.2-1.2 2.8-3.9 5.1-5.1 3.9-3 2-0.7 2-1.3 5-1.7z"/>
<path fill="#73cd63" d="M127 394.4l12 0 2 0.5 2 0.1 1 0.4 4 0.5 9 2.7 10.9 4.4 2.1 1.4 1.8 0.6 2.2 1.5 1 0.2 6 3.9 1 0.2 4 3 5 3.2 3 2.5 3.7 2.5 1.3 1.6 3 2.2 9.9 10.2 0.5 1 3.6 4.2 6 8.7 5.2 8.1 0.8 1 0.4 1 1.3 2 3.3 5.9 0.4 1.1 1.6 2.5 0.5 1.5 1.2 2 0.3 1 1.2 2 0.2 1 3.7 8 1.4 4 0.7 1 0.1 1 3.5 11 2.4 10 0.6 4 0.5 2 0.6 6 0.6 2 0.8 15 -0.3 2 0.1 6 -0.3 5 -0.7 7 -1.5 8 -1.9 7 -3.8 11 -3.8 10 -5.8 13 -6.2 11 -6 9 -3.7 5 -2.7 3 -0.6 1 -7.1 7.9 -4 3.8 -11 8.3 -9 5.1 -4 1.8 -1 0.7 -9 3.7 -8 2.7 -12 2.1 -11 0 -4-0.4 -1-0.3 -8-6.3 -4-4.1 -2-1.5 -5-5.3 -8-9.5 -7.6-10.7 -5.4-9.6 -2.6-5.4 -1.9-5 -0.2-2 -0.5-1 0.2-1.5 2 0.3 0.4-0.8 0.5-13 5.2-51 1.8-16 2-13 2.3-11 2.6-9 3.2-9 3.7-8 2.7-5 2.6-4.1 3-4.1 3.1-3.8 2.9-3.1 4-3.7 4-3.2 4-2.6 4-2.2 4-1.8 4-1.5 4-1.1 4-0.7 5-0.5 4-0.1 5 0.3 4 0.6 5 1.1 4 1.2 5 1.9 4 1.9 5 2.7 4 2.5 4.5 3.3 6.5 5.5 7.1 7.5 5 6 4.6 6 8.3 12.2 1 0 -0.4-1.2 -0.9-5 -4.8-14 -1.4-2 0-1 -1.9-4 -0.7-1 -2.9-5.9 -0.8-1.1 -0.7-2 -4.6-7 -8.9-12.6 -2.4-2.4 -0.6-1.1 -3-2.8 -0.6-1.1 -5.2-5 -1.2-0.7 -2.3-2.3 -1.7-1 -2-2 -3-1.9 -1-1 -2.1-1.1 -6.9-4.6 -4-2 -8-4.6 -3-1.3 -1-0.7 -12-4.9 -5-1.3 -2-0.8 -4-0.5 -2-0.6 -2-0.1 -1-0.4 -10-0.1 -1 0.4 -2 0.1 -3 0.7 -5 1.6 -1.4 1.1 -1.6 0.5 -2 1.3 -2.2 2.2 -1.8 1.5 -1 1.3 -2.2 2.2 -0.8 1.2 -1.8 1.8 -1.4 2 -2.4 5 -2.5 4 -1.7 4 -1.2 2 -0.6 2 -0.8 1 -5.7 14 -0.8 1 -0.1 1 -1.1 2 -0.1 1 -0.8 1 -0.2 1 -1.4 3 -0.1 1 -0.7 2 -1.4 3 0 1 -0.5 1 -0.2 2 -0.9 2 -0.6 4.4 -0.5 1.6 -0.1 1 -0.4 1 -0.1 1 -0.5 2 0 2 -0.6 1 0 3 -0.5 2 -0.1 3 -0.6 1 -0.1 4 -0.4 2 -0.1 4.1 -0.3-5.1 0-5 0.5-3 0-2 0.4-1 0.4-7 0.5-1 0.4-4 0.6-1 0-2 0.4-1 0.1-1.7 0.8-2.3 0.2-2 0.8-3 0.9-2 1-4 0.7-1 0.4-2 0.7-1 0.2-1 0.5-1 0.6-2 0.7-1 4.5-12.1 1.8-3.9 0.1-1 0.9-1 2.2-5.7 2-3.3 1.3-3 2.7-4.4 1.5-1.6 2.5-3.5 5.4-5.5 3.6-2.6 2-0.8 2-1.3 5-1.8 1-0.1 1-0.4 2-0.1zM72 503.5l0.5 0.5 -0.3 1 -0.2 6.1z"/>
<path fill="#82cc58" d="M127 394.7l12 0 1 0.4 6 0.7 11 3 9 3.9 1.3 0.3 2.7 1.7 1.3 0.3 2.7 1.8 1 0.1 1 0.9 5 3.1 1 0.2 9 6.3 4 3.1 1 0.5 4 3.7 1.9 1.3 0.7 1 1.3 1 7.7 8 0.5 1 3.9 4.5 6 8.8 3.5 5.7 0.5 0.4 0.8 1.6 1.2 1.4 0.7 1.6 0.3 0.3 3 5.1 1.2 2.6 1.8 2.9 0.2 1.1 1.3 2 0.2 1 1.3 2 0.2 1 3.8 8.3 1.3 3.7 0.6 1 0.7 3 2.9 9 1.8 7 0.3 2 0.4 1 0.6 4 0.5 2 0.6 6 0.6 2 0.7 15 -0.2 2 0.1 6 -0.3 5 -0.9 8 -0.6 2 -0.7 5 -1.9 7 -3.8 11 -3.8 10 -5.8 13 -1.2 2 -0.9 2 -1.4 2 -3.3 6 -4 6 -5.1 7 -9.5 11 -4.7 4.5 -11 8.2 -9 5 -4 1.8 -1 0.7 -9 3.6 -8 2.4 -12 1.7 -10-0.3 -5-0.7 -2-1.2 -5-4 -1-0.5 -4-4 -2-1.5 -2.8-2.7 -7.1-8 -11-15 -5-9 -0.7-2 -0.6-1 0.2-1.4 1 0.1 1 0.7 1 0 0.4-0.4 0.2-1 -0.4-12 2.9-45 2-25 2.3-17 2.4-12 3.2-11.4 3.3-8.6 4.1-8 2.6-4.3 3-4.2 3-3.7 3-3.3 3-2.8 4-3.3 4-2.7 4-2.2 4-1.9 4-1.4 4-1.1 4-0.8 4-0.4 5-0.1 5 0.3 4 0.7 4 0.9 5 1.6 8 3.5 8 4.8 8 6.1 5 4.6 5 5.1 4.9 5.6 4.6 6 4.7 7 8.8 16.3 0.3-0.3 -0.1-5 -0.2-2 -0.6-1 -0.3-3 -0.4-1 0-1 -1-4 -1.3-4 0-1 -0.9-2 -0.4-2 -1.7-4 -0.2-1 -1.7-4 -0.1-1 -0.5-1 -0.9-1 -0.1-1 -1.8-4 -3.6-7 -0.9-1 -0.1-1 -0.5-1 -1-1.2 -0.8-1.8 -6.8-10 -2.5-3 -1.2-2 -2.3-3 -1.3-1 -0.5-1 -1.5-2 -1.1-0.6 -1-1.4 -5.2-5 -1.5-1 -2.3-2.3 -2-1.3 -1.2-1.4 -13.8-9.1 -6-3 -2-1.5 -6-2.8 -2-1.2 -12-4.9 -1-0.1 -6-2 -4-0.5 -2-0.5 -2-0.1 -1-0.5 -10 0 -1 0.4 -2 0 -3 0.7 -5 1.7 -1 0.8 -2 0.8 -2 1.2 -1.9 1.6 -1.1 1.3 -1 0.5 -0.7 1.2 -1.3 1.1 -1.6 1.9 -0.6 1 -2 2 -2.5 4 -1.2 3 -2.5 4 -1.7 4 -1.3 2 -0.5 2 -0.8 1 -5.5 13 -0.3 1 -0.8 1 -0.1 1 -1 2 -0.2 1 -0.8 1 -0.1 1 -1.5 3 0 1 -2.2 5 0 1 -0.5 1 -0.2 2 -0.8 2 -0.2 2 -0.5 1 -0.4 4 -0.7 1 -0.5 5.2 -0.3-0.2 0.1-5 0.2-0.8 0.4-0.2 0.3-5 0.3-0.8 0.3-0.2 0.4-3 1.3-5 0-1 0.9-2 1-3 0-1 0.8-1 0.3-1.7 0.8-1.3 0.1-1 0.7-1 0.4-2 0.7-1 2.3-6.3 1.6-3.7 0.4-1.5 1.7-3.5 0.6-2 0.7-1 2-5.1 2.3-3.9 1-2 0.2-1 2.5-4.1 1.9-1.9 2.1-3.2 5.8-5.8 3.2-2.2 5.5-2.8 3.5-1.2 2-0.4 3-0.3zM74 483.5l0.4 0.5 -0.1 3 -0.3 1 0 1.7 -0.2-2.7z"/>
<path fill="#91ca4d" d="M80.6 457l0-1 0.9-2 0.1-1 3.2-8 0.2-1 1.8-4 0.1-1 1.8-4 0.2-1 1.1-2 0.7-2 0.6-1 0.7-2.1 0.6-0.9 0.7-2 2.8-5 0.7-2 2.6-4 1.9-2 2-3 5.7-5.7 2-1.6 5-2.7 5-1.8 3-0.6 2-0.1 1-0.5 12 0 1 0.5 2 0 4 0.6 1 0.4 1 0 5 1.5 1 0.5 1 0.1 2 0.6 11 4.5 1 0.8 2 0.8 3 1.8 1 0.3 5 3.2 2 1 10.8 7.4 2.2 1.9 1.9 1.1 2.1 2.2 2.5 1.8 0.7 1 1.2 1 7.6 7.7 0.5 1.3 0.8 1 -0.3 0.6 -1.3-1.6 -1.7-1.3 -1-1.4 -5-4.8 -1-0.5 -3-2.9 -1.7-1.1 -1.3-1.5 -15-9.8 -2-0.7 -3-1.7 -2-1.4 -2-0.7 -2-1.2 -2-0.8 -2-1.3 -10-4.1 -9-2.7 -1-0.1 -1-0.4 -2-0.1 -1-0.4 -3-0.2 -1-0.5 -10 0 -1 0.4 -3 0.2 -2 0.4 -5 1.8 -1.1 0.8 -3.9 1.9 -2 1.6 -1 1.4 -1 0.5 -0.6 0.6 -0.5 1 -1.4 1 -2.2 3 -1.9 2 -2.5 4 -0.9 2.5 -2.8 4.5 -1.4 3 -0.7 2 -0.9 1 -0.2 1.4 -2.4 4.6 -0.3 1 -1.8 4 -0.5 1.6 -1.6 3.4 -0.2 1 -0.9 1 0 1 -0.9 1 -0.3 2 -0.9 1 0 1 -0.9 1 -0.3 1.3zM212.3 439l0.7-0.4 3 3.2 0.2 1.2 -0.2 0.3 -1-1.3 -2.1-2zM217.1 445l0.9-0.2 0.2 1.2 -0.2 0.2zM80 457.4l0.4 0.6 0 1 -0.4 1.5 -0.3-1.5zM234 470.7l0.3 1.3 1.9 3 0.1 1 2.7 4.9 0.2 1.1 1.8 3.7 0.4 1.3 0.6 1 3 8.5 3.1 10.5 2.2 10 1.1 7 0.2 3 0.4 1 0.3 7 0.4 2 0.1 6 -0.3 2 0.2 6 -0.3 2 0 3 -0.4 2 -0.4 5 -0.7 3 -0.8 5 -1.8 7 -4.6 13 -5.5 14 -2.6 5 -0.6 1.7 -6.9 12.3 -6.8 10 -5.6 7 -4.7 5.4 -5.7 5.6 -11.3 8.3 -9 5 -5.5 2.7 -8.5 3.3 -7 2.1 -13 1.4 -9-0.7 -4-0.6 -1.9-0.5 -4.3-3 -1.8-1.6 -1-0.5 -4-4.1 -3-2.6 -4-4.1 -2-2.6 -2-1.9 -2.8-3.6 -1.2-1.1 -4.7-5.9 -4.5-7 -0.1-1 0.3-0.6 1 0.4 3 2.1 1-0.9 -1.2-10 0.4-40 1.1-30 0.7-11 1.1-10 1.9-11.5 2.4-10.5 2.9-9 3.8-9 2.5-5 3.1-5 3.3-4.7 2.7-3.3 3.3-3.3 4.4-3.7 4.6-3.1 4-2.2 4-1.8 5-1.6 5-1.1 5-0.6 4-0.1 5 0.3 5 0.8 5 1.3 5 1.8 4 1.8 5 2.7 4 2.6 5 3.7 4 3.5 4 3.8 4 4.4 4 4.8 3.6 5 6.9 11 6.2 12 6.3 14.5 1-3.5 -0.6-1 0.2-3 -0.4-1 0.1-3 -0.2-3 -0.5-1 0-2 -0.3-1 -0.1-2 -0.4-1 0.1-1 -0.4-1 -0.3-2 -0.1-2 -0.8-2 -0.1-1 -0.9-3 0-1 -1.4-4 0-1 -0.9-2 -0.5-2 -0.9-2 -0.2-1 -0.6-1 -0.2-1 -0.9-2 -0.1-1 -0.7-1 -0.5-2 -0.8-1 -0.6-2 -1.2-2 0-1 -0.7-1zM79 460.5l0.7 0.5 -0.6 1 -0.1 1.1 -0.2-2.1zM232 466.8l0.5 2.2 -0.5 0.3 -0.7-2.3zM233 469.3l0.3 0.7 -0.3 0.9 -0.5-0.9z"/>
<path fill="#9fc942" d="M87.6 440l0.4-2.5 0.7-0.5 -0.1-1 0.4-0.7 0.4-0.3 0.3-2 0.8-1 0.5-1.8 0.3-0.2 2.3-6 2.9-5 0.7-2 2.7-4 1.9-2 0.4-1 3.8-4.2 5-4.6 1-0.4 1-0.9 1-0.1 3-1.9 1-0.1 2-0.9 1-0.1 2.3-0.8 2.7-0.2 1-0.3 12 0 1 0.3 2 0.1 2 0.5 4 0.5 1 0.5 2.7 0.6 2.3 0.8 1 0.1 13 5.2 2 1.3 2 0.8 11.5 6.8 1.5 1.3 1.4 0.7 1.6 1.4 1.4 0.6 1.6 1.6 1.3 0.4 2 2 -0.3 0.3 -1-0.2 -3-2.3 -8-4.8 -1-0.9 -1.1-0.1 -1.9-1.3 -3-1.6 -1-0.8 -1-0.1 -3-1.9 -1.4-0.3 -2.6-1.7 -1-0.2 -4-1.8 -1-0.2 -4-1.9 -3-0.7 -2-0.8 -3-0.7 -1-0.5 -1 0 -1-0.4 -2 0 -1-0.5 -2-0.1 -2-0.4 -10-0.1 -2 0.4 -2 0 -1 0.6 -1 0 -5 1.7 -2.1 1.3 -1.9 0.7 -3.1 2.3 -0.9 1.3 -1.1 0.7 -1.6 2 -1.3 0.9 -2 2.8 -2.1 2.3 -1.6 3 -0.9 1 -0.4 1.7 -2.7 4.3 -2 4 -0.3 1.3 -1.4 1.7 0 1 -1.3 2 -0.2 1 -0.6 1 -0.5 1.8 -0.9 1.2 -0.1 1.2zM194.7 422l0.3-0.3 1.2 0.3 -0.2 0.9zM175 464.1l6 1 6 1.8 6 2.5 5 2.7 5 3.3 5 3.9 5.1 4.7 4.9 5.4 4 5 3.8 5.6 3 5 3.2 6 4.7 11 9.3 25.6 1 1.4 0.8-5 0.6-2 0.3-4 -0.4-1 0.3-8 -0.4-1 0.1-3 -0.5-2 0.2-2 -0.6-2 -0.2-4 -0.5-1 -0.4-4 -0.7-3 -0.1-2 -0.8-2 -0.5-3 -0.5-1 0-1 -0.8-2 -0.5-2 0.1-1 -0.7-1 -1.2-4 0.4-0.8 0.4 0.8 0.1 1 0.5 0.2 3 8.4 0.5 2.4 0.6 1 0.1 1 0.8 2 0.3 2 0.4 1 0.1 1 0.5 1 0.7 4 0.4 1 0.3 2 0.4 1 0.8 6 0.3 1 0.2 3 0.4 1 0.3 7 0.4 2 0.1 6 -0.3 2 0.1 7 -0.3 1 0 3 -0.7 7 -0.8 3 -0.7 5 -1.9 7 -0.5 1 -1.5 5 -5.6 15 -2.2 5 -0.2 1 -0.8 1 -2.2 5.3 -3 5.7 -0.8 1 -3.2 6 -4 6 -5.9 8 -1.9 2 -4.1 5 -7.1 7 -10 7.3 -3 1.9 -10 5.3 -3 1.3 -8 3 -7 2 -5 0.6 -8 0.4 -6-1 -6-1.9 -3-1.5 -4.8-3.4 -1.2-0.5 -3.9-3.5 -3.1-2.1 -4-3.6 -2-2.5 -2.8-2.8 -2.2-2.8 -1.3-1.2 -3.8-5 0.1-0.3 1-0.3 1 0.4 1 1 1.1 0.2 1.9 1.2 1 0.2 1-0.2 0.2-0.2 -0.1-1 -1.7-7 -2-31 -1-23 -0.2-12 0.1-12 0.5-10 0.9-10 1.2-9 1.6-8 2.1-8 2.3-7 2.9-7 3.2-6.1 3.8-5.9 4-5 4.2-4.5 5-4.2 5-3.3 5.8-3 4.2-1.5 6-1.2 6-0.5zM240 484.5l0.2 0.5 -0.2 1 0.5 1 -0.5 0.1 0-1.1 -0.5-1z"/>
<path fill="#adc638" d="M126.9 396l12.3 0 -0.2 0.3zM151 399l1-0.2 1.3 0.2 -0.3 0.5zM156.9 401l1.1-0.2 1.3 0.2 -0.3 0.7zM161.8 403l0.2-0.2 1 0 1.3 0.2 -0.3 0.8zM166.8 405l1.2-0.2 0.4 0.2 -0.4 1zM168.1 406l0.9-0.2 1.4 0.2 -0.4 0.5zM170.7 407l0.3-0.2 1 0 0.3 0.2 -0.3 0.9zM178 469.9l6 1.2 5.7 1.9 5.3 2.5 5 3.1 5 3.7 5.2 4.7 4.8 5.2 4.5 5.8 3.4 5 3.4 6 2.9 6 2.5 6 2.4 7 2.1 7 2.1 8 1.7 8.1 3 11.2 1 0.4 1-1.1 0.3-1.6 0.9-2 0.3-2 0.6-1 0.3-3 0.8-2 0.2-6 0.7-2 0.1-4 -0.4-2 0.3-7 -0.5-1 0-3 -0.4-2 0.1-3 -0.5-1 0.1-1 -0.3-1 -0.1-2 -0.4-2 0.1-1 -0.5-1 -0.1-2 -0.6-2.2 0-1.8 -0.5-2 0.5-0.5 0.3 1.5 0 1 0.7 1.1 0.4 1.9 0.6 1 0.6 4 0.6 1 0.2 2 0.4 1 0.6 3 0.2 3 0.4 1 0.1 3 0.5 1 0.2 7 0.5 2 0.1 6 -0.3 2 0.1 7 -0.3 1 0 3 -0.4 4 -0.3 1 0 2 -0.8 3 -0.8 5 -0.7 2 -1.1 5 -0.6 1 -0.7 3 -7.1 19 -1.7 4 -0.7 1 -1 2.5 -0.8 1.5 -0.3 1 -2.9 5.7 -1 1.3 -3 5.6 -4.2 6.4 -5.8 7.9 -6.1 7.1 -2.9 3 -4.4 4 -11.1 8 -9.5 5.2 -5 2.3 -9 3.2 -6 1.6 -9 0.5 -4-0.1 -5-1.2 -6-2 -3-1.4 -5-3.2 -1.8-0.9 -2.2-2 -2-1.5 -2-1.1 -3-2.6 -5.4-5.8 -1.4-2 0.8-0.9 4 1.1 1 0.6 2 0.6 1 0.7 2 0.3 1-0.1 0.5-0.3 -0.1-1 -1.2-3 -3.3-17 -2.2-13 -2.9-22 -1.6-16 -0.6-10 -0.1-9 0.9-14 1.2-12 1.5-9 1.6-7 2-7 2.3-6 2.9-6 3-5 3.1-4.3 4-4.6 4-3.8 5-3.8 5-2.9 5-2.2 5-1.6 6-1.1 5-0.2z"/>
<path fill="#bac430" d="M178 475.8l6 1.2 6 2.1 6 3 5 3.2 5.8 4.7 4.9 5 4.8 6 3.9 6 3.6 6.6 3 7 2.5 7.4 2 7 1.8 8 1.4 8 1.1 9 1.1 12 1.1 5.4 1 0 0.8-1.4 1.2-1 0.3-1 0.7-1 2-4.9 1.1-4.1 1-2 0.2-2 0.7-2 0.2-2 0.5-1 0.3-3 0.6-2 0.3-6 0.5-2 0.2-4 -0.4-2 0.2-7 -0.4-1 0-3 -0.4-2 0.1-3 -0.4-1 0.1-1 -0.6-2 0.1-2 -0.2-1 0.3-1.5 0.4 2.5 0.6 1.3 0.4 2.7 0.7 2 0.7 7 0.5 1 0.4 8 0.4 1 0.1 6 -0.3 2 0.1 6 -0.4 2 0.1 3 -0.4 4 -0.3 1 -0.1 2 -0.7 3 -0.8 5 -1.8 7 -0.6 1 -0.8 3 -7.1 19 -1.6 4 -0.7 1 -1.8 4 -0.3 1 -1.7 3 -0.3 1 -1.9 3 -2.8 5.2 -4.5 6.8 -5.5 7.5 -6.4 7.5 -2.9 3 -4.5 4 -11.1 8 -9.1 4.9 -5 2.3 -9 3.1 -7 1.7 -4 0.1 -8-0.4 -7-1.8 -5-2 -5-2.6 -2-1.4 -1-0.4 -4.1-3.5 -2.9-1.7 -3.5-3.3 -1.6-2 -0.5-1 0.6-0.4 1 0 3 1.6 4 1.4 1 0.1 2 0.5 4 1.6 1 0 3 0.8 1-0.1 2 0.4 1 0 1.1-0.9 -1.2-2 -6.3-15 -5.2-15 -2.7-9 -2.7-10.7 -4-18.9 -1.2-9.4 -0.4-14 0.7-17 1.4-14 1.1-7 1.4-6 1.8-6 2.2-5.5 2.7-5.5 3.1-5 3.2-4.3 3.3-3.7 4.5-4 4.2-2.9 4-2.2 5-2.1 5-1.4 5-0.8 5-0.2z"/>
<path fill="#c7c12a" d="M176 481.2l7 1.2 6 2.1 6 2.9 6 4.1 5.1 4.5 5.4 6 4.5 6.4 4.2 7.6 2.9 7 2.6 8 2.2 9 1.4 9 0.8 9 0.4 9 -0.1 11 -0.9 13 0.2 3 0.3 1.1 1-0.5 3-4 0.7-1.6 3.3-5.5 2-3.9 1.5-3.6 0.5-0.7 2.1-5.3 1.2-4 0.4-2 0.9-2 0.2-2 0.6-2 0.2-2 0.6-1 0.1-3 0.7-2 0.2-6 0.5-1 0.2-5 -0.4-2 0.2-7 -0.3-2 0.1-2 -0.6-2 0.1-1.9 1.3 2.9 0.2 3 0.6 1 0.3 8 0.4 1 0.2 6 -0.4 2 0.2 6 -0.4 2 0.1 3 -0.3 1 -0.1 3 -0.4 1 0 2 -0.8 3 -0.4 4 -2.1 8 -0.6 1 -0.8 3 -7.1 19 -4.2 9 -0.2 1 -1.5 2.5 -0.5 1.5 -2.5 4 -2 3.8 -6 9 -4 5.4 -1 0.9 -2 2.7 -6.6 7.2 -4.4 3.9 -11 7.9 -9 4.8 -4 1.6 -1 0.6 -7 2.5 -8 1.9 -4 0.2 -9-0.5 -7-1.9 -6-2.4 -5-3.1 -2-0.9 -2-1.9 -3.7-2.7 -1.9-2 0.6-0.7 4.1 0.7 4.9 2.1 2 0.2 1 0.7 2 0.3 3 0.9 5 0.8 7 0.2 6.8-1.2 4.1-1 3.1-1 1.6-1 0.4-0.6 0.9-0.4 -3.9-1.6 -7-5.6 -5.7-5.8 -5.3-6.9 -5-7.9 -4-7.6 -3.9-8.6 -5.2-13 -1.9-6 -1.3-6 -1.3-8 -0.7-8 -0.3-9 0.2-10 0.5-11 0.9-9 0.9-6 1.4-6 1.5-5 1.9-5 2.3-4.6 2.7-4.4 3-4 2.7-3 3.6-3.3 4-2.9 4-2.4 4-1.7 4-1.3 5-1 4-0.4z"/>
<path fill="#d3bf27" d="M168 486.6l5-0.2 5 0.4 5 1 5 1.7 5 2.5 4 2.6 4.3 3.4 4.1 4 3.6 4.3 3.3 4.7 2.8 5 2.8 6 2.2 6 1.7 6 1.5 7 1 7 0.5 8 0 8 -0.5 8 -1.1 9 -1.4 8 -1.7 7 -2.1 6.8 -2.5 6.2 -3 6 -3.5 5.7 -3 3.8 -4 4 -4 3 -5 2.7 -4 1.3 -5 0.9 -4 0.1 -5-0.6 -4-1.2 -4-1.7 -4-2.4 -4-2.9 -4-3.6 -4-4.3 -8.5-10.8 -3.2-5 -2-4 -2.8-7 -1.9-6 -1.6-7 -1-7 -0.5-7 -0.1-9 0.2-13 0.6-9 0.7-6 1.1-6 1.7-6 2-5 2.5-5 3.4-5 3.5-4 3.9-3.5 4-2.7 5-2.6 5-1.6zM250 529.8l1 2.6 0.1 3.6 0.4 1 0.2 6 -0.3 2 0.2 6 -0.4 2 0 3 -0.3 1 -0.1 3 -0.3 1 0 2 -0.8 3 -0.4 4 -2.2 8 -0.5 1 -1.1 4 -6.8 18 -4.2 9 -0.2 1 -1.7 3 -0.3 1 -2.6 4 -1.7 3.5 -6 9 -4 5.4 -1.2 1.1 -1.8 2.5 -6.9 7.5 -1.1 0.7 -3 2.9 -11 7.8 -9 4.9 -4 1.5 -1 0.7 -7 2.3 -7 1.6 -2 0.3 -4 0 -8-0.5 -2-0.7 -1-0.1 -7-2.3 -3-1.4 -3-1.7 -2-1.6 -1.2-0.4 -3.2-3 0.1-1 1.3 0.2 3 1.2 1-0.1 6 1.9 7 1.1 6 0.3 9-1.1 6.3-1.5 6.7-2.1 1-0.7 1-0.2 3-1.3 2-1.2 1.6-0.5 2.4-1.6 2-0.7 10-7 2-2.1 2-1.4 2.9-3.2 1.4-2 1.7-1.6 1.6-2.4 2-2 5.5-8 3.1-4 0.8-1.4 0.4-1.6 2.6-3.1 0.6-1.9 1.6-2 0.8-2 1-1 0.9-2 1.1-1.7 0.4-1.3 1.5-2 0.3-1 1.8-3.3 0.6-1.7 5.4-10.5 1.6-4.5 0.8-1 1.8-5 0.9-2 0.8-4 1.2-3 0.1-2 0.6-2 0.2-2 0.5-1 0.1-3 0.5-1 0.4-7 0.5-1 0.3-5 -0.5-2z"/>
<path fill="#debd29" d="M168 491.8l5-0.2 4 0.3 5 1.1 4 1.4 4 1.9 4.3 2.7 3.8 3 3.9 3.9 3.3 4.1 2.7 4 2.2 4 2.3 5 1.9 5 1.8 6 2.7 11 0.4 3 0.5 6 -0.1 6 -0.6 7 -0.9 6 -1.3 6 -2.2 7 -2.3 6 -2.3 5 -3 5 -2.8 4 -3.3 3.7 -3 2.7 -3 2.2 -4 2.2 -4 1.5 -4 0.8 -3 0.2 -4-0.3 -3-0.5 -7-2 -4-1.7 -4-2.2 -3-2.2 -3-2.7 -3-3.2 -3-3.7 -3-4.6 -2.2-4.2 -2-5 -1.6-5 -1.2-5 -0.8-5 -0.3-4 -0.4-15 0-13 0.3-8 1.4-8 1.1-4 1.4-4 2.4-5 2.9-4.6 3-3.6 4-3.7 4-2.8 4-2 4-1.4zM251 536.5l0.4 6.5 -0.3 2 0.2 6 -0.4 2 0.1 3 -0.4 1 -0.3 6 -0.9 3 -0.3 4 -1.9 7 -0.9 2 -1 4 -6.8 18 -3.8 8 -0.6 2 -1.3 2 -0.7 2 -2.6 4 -1.5 3.1 -6 9.1 -3.5 4.8 -7.5 8.7 -1.5 1.3 -1.5 1.7 -1 0.7 -3 2.9 -11 7.8 -9.2 4.9 -2.8 1.2 -1 0.2 -1 0.7 -9.8 2.9 -6.2 1.1 -4 0 -8-0.6 -6-1.6 -5-2.2 -4.6-2.7 -1.1-1 0.7-0.6 2 0 6 1.3 4 0.5 6 0.3 9-0.9 6-1.4 7-2.1 2-1 3-1 2-1.2 2-0.8 2-1.3 3-1.3 10-6.9 2-2.1 2-1.4 2.9-3.1 1.4-2 2-2 1.5-2 2-2 9.1-13 0.7-2 2.8-4 0.8-2 1.4-2 0.3-1 2.8-5 0.7-2 1.4-2 3.2-6.8 0.3-1.2 4.5-9 1.4-4 0.9-1 0.1-1 2.3-6 0.7-4 1.2-3 0.1-2 0.5-1 0.4-3 0.4-1 0.1-3 0.6-1 0.3-7 0.7-1 0.2-5 -0.1-1z"/>
<path fill="#e8bb2e" d="M169 497l4-0.1 5 0.6 5 1.4 4 1.9 4 2.5 4 3.3 3.1 3.4 2.9 4 1.7 3 1.8 4 1.4 4 1.3 5 0.9 6 1.1 13 1.5 13 0.4 5 -0.1 5 -0.4 4 -0.8 4 -2 5 -3.8 6.5 -2.7 3.5 -2.3 2.5 -3 2.8 -3 2.2 -3 1.8 -4 1.8 -3 0.9 -4 0.7 -3 0.1 -4-0.3 -4-0.8 -3-1.1 -3-1.3 -3-1.8 -3-2.2 -3-2.7 -3-3.4 -2-2.8 -2-3.4 -2-4.2 -1.3-4.8 -1.1-6 -0.6-5 -0.6-13 0.2-20 0.9-11 0.5-3.3 0.9-3.7 2.1-4 2.7-4 2.7-3 3.4-3 3.2-2.1 4-2 4-1.2zM250 546l1 3 0.1 2 -0.6 2 0.1 3 -0.3 1 -0.3 6 -0.8 3 -0.4 4 -0.5 1 -1.3 6.1 -0.9 1.9 -1 4 -6.9 18 -3.7 8 -0.7 2 -0.8 1 -1.2 3 -2.6 4 -1.4 3 -5.9 9 -3.6 5 -2.9 3 -0.5 1 -3.9 4.4 -7 6.6 -11.3 8 -9.7 4.9 -5 2.1 -1 0.1 -2 0.8 -6 1.6 -4 0.6 -1 0.3 -4 0.1 -9-0.7 -3-0.8 -1-0.6 -2-0.4 -2-1.3 -1.8-0.7 -0.2-0.6 -0.8-0.4 3.8-0.2 2 0.4 2-0.1 1 0.3 2-0.2 1 0.3 10-1 5-1.1 9-2.8 1-0.7 2-0.5 4-2.1 1.1-0.3 2.9-1.7 1-0.3 1.8-1 10-7 1.2-1.3 2.1-1.7 3.1-3 1.4-2 2.4-2.5 1.9-2.5 1.2-1 9.1-13 0.8-1.5 0.5-1.5 2.5-3.5 0.4-1.5 1.6-2.3 0.6-1.7 1.4-1.9 0.2-1.1 3.8-7.1 3.9-8.9 3.3-7 1.4-4 0.9-1 0.1-1 2.3-6 0.7-4 1.2-3 0-2 0.6-1 0.3-3 0.5-1 0.2-3 0.4-1z"/>
<path fill="#f1ba37" d="M169 502.2l5 0 5 1 5 2 4 2.6 4 3.7 3 3.9 2.5 4.6 0.8 2 0.3 2 0 6 -0.8 13 -0.1 6 1.4 21 0.6 3 -0.1 2 -0.9 4 -1.6 4 -1.7 3 -2.4 3.1 -3 2.9 -3 2.1 -3.8 1.9 -3.2 1 -4 0.6 -5-0.1 -5-1.3 -5-2.4 -3.7-2.8 -1.4-2 -2.8-5 -2.4-6 -2.2-8 -1.2-9 -0.3-12 0.4-14 1.3-9 1-4 1.3-4.3 2.9-6.7 2.7-4 2.4-1.6 3-1.5 3-1zM250 551.6l0.2 0.4 0 4 -0.2 1 0 2 -0.5 2 0.1 2 -0.8 3 -0.4 4 -1.7 7 -0.8 2 -1.1 4 -6.8 18 -3.8 8 -0.6 2 -0.8 1 -1.2 3 -2.6 4 -1.4 3 -6 9 -3.6 5 -2.8 3 -0.6 1 -2.9 3 -0.7 1.1 -2 1.7 -1 1.3 -1.3 0.9 -2.7 2.7 -12 8.3 -8.1 4 -5.9 2.4 -1 0.1 -8 2.4 -6 1 -3-0.1 -9-1 -1-0.5 -1.3-0.3 -0.7-0.6 -1-0.4 4-0.7 1 0.2 5-0.7 5-0.4 5-1.2 7-2.1 7-2.7 2-1.3 2.9-1.1 1.1-1 2.8-1 1.2-1 5-3.3 4-3 2-2 2-1.5 3-3.2 1.5-2 2.5-2.6 0.9-1.4 2-2 7.7-11 1.8-3 0.8-2 1.8-2.2 1.1-2.8 0.9-1 1.2-3 0.9-1 0.8-2 1.2-2 0.2-1 1.3-2 2.5-6 2-4 0.3-1 3.7-8 0.9-2.7 0.9-1.3 0.1-1 2.3-6 0.1-1 0.4-1 0.1-2 1.3-3 0.1-2 0.5-1 0.2-2.5 0.7-1.5z"/>
<path fill="#f9bb3d" d="M173 515.7l3 0.6 3 1.7 2 2.1 2 3.8 0.9 3.1 1.5 9 0.5 5 0.1 7 -0.2 8 -1 8 -0.1 3 -0.4 3 -0.9 3 -1 2 -1.3 2 -2.1 2.1 -3 1.6 -3 0.4 -2-0.2 -2-0.7 -3-1.7 -3-2.6 -3-4 -2-4 -1.5-4.9 -0.8-5 -0.2-7 0.1-9 0.6-6 1-5 1.8-4.7 3-4.6 3-3 2-1.3 2-1 2-0.5zM248 564l0.4 1 -0.3 5 -0.6 1 -0.5 3.3 -0.6 1.7 -0.1 1 -0.9 2 -0.4 2.2 -6 16.8 -1.8 4 -0.6 1 -0.2 1 -1.1 2 -0.2 1 -1.2 2 -0.6 2 -1.3 2 -0.7 2 -2.6 4 -1.4 3 -5.9 9 -3.7 5 -2.9 3 -0.5 1 -3.6 4 -6.7 6.4 -3 2 -1 0.9 -8 5.2 -3 1.3 -2.1 1.2 -1.9 0.7 -2 1.2 -4 1.2 -1 0.7 -9 2.4 -4 0.4 -1 0.4 -4.2 0 -5.4-1 2-1 5.6-0.7 2-0.6 1-0.1 1-0.4 7-1.9 5-2 1-0.2 4-2.1 3-1.3 1-0.8 3-1.3 10.8-7.6 1.2-1.5 2-1.6 3-2.9 2-2.7 2.3-2.3 1.4-2 1.3-1.2 2-3.1 2.2-2.7 5.3-8 0.8-2 2.8-4 0.6-2 1.5-2 0.7-2 0.7-1 2-4 0.2-1 1.2-1.6 4.9-11.4 2.9-6 1.2-3 0.2-1 1.2-2 0.5-2 0.6-1 0.1-1 0.9-2 0.3-2 0.7-1 0.1-2z"/>
<path fill="#febf3c" d="M246 573.5l0.2 0.5 -0.2 1.5 -0.6-0.5zM245 575.6l0.4 0.4 0.1 1 -1.5 6 -0.5 1 -1.5 4.7 -5 13.2 -0.7 1.1 -0.1 1 -0.8 1 -1.2 3 -0.7 1 -0.4 2 -1.5 2 -0.5 2 -1.6 2 -2.4 5 -1.6 2 -0.4 1 -1.5 2 -0.5 1 -1.6 2 -0.4 1 -3.7 5 -2.9 3 -0.5 1 -6.7 7 -2.6 2 -0.7 1 -12.1 8 -1.9 0.9 -1 0.2 -1.4 0.9 -3.6 1.4 -1 0.7 -1 0.2 -2 0.9 -1 0.1 -1 0.7 -3 0.6 -1 0.5 -6 1.1 -1.9-0.2 0.9-0.4 1-0.2 0.4-0.4 1.6-0.4 1-0.7 6-1.9 1-0.8 1-0.2 3-1.3 1-0.8 2-0.8 3-1.8 3-1.4 5-3.7 2-1.2 1-1 2-1.4 1.4-1.6 2.5-2 3.8-4 0.5-1 2.8-2.9 0.6-1.1 2-2 1.4-2 0.5-1 0.9-1 6.2-9 1-2 0.2-1 2.9-4 0.3-1.3 1.9-2.7 0.1-1.1 2.8-4.9 0.6-2 0.9-1 3.8-9 2.9-6.3 1.5-2.7 0.5-1.8 0.7-1.2 0.1-1 1-1z"/>
<path fill="#fec437" d="M242 585.3l0.1 0.7 -0.1 0.5 -0.5 0.5 -0.5 2.8 -0.6 1.2 -2.4 7.2 -1.7 3.8 -0.6 2 -1.2 2 -0.5 1.7 -0.9 1.3 -0.1 1.1 -1 1.9 -0.9 1 -0.1 1.2 -1 1.8 -0.9 1 -3.1 6.1 -0.8 0.9 -3.2 5.1 -4.9 6.9 -1.3 1 -2.4 3 -2.9 3 -0.5 0.8 -1.6 1.2 -1.4 1.7 -1 0.5 -3 2.8 -1 0.3 -2.1 1.7 -6.9 4.3 -1 0.2 -1 0.8 -1 0 -0.4-0.3 1.4-0.6 4-3.4 2-1.2 0.8-0.8 4.2-2.9 1-1.6 1-0.6 3-3.2 1-0.7 2-2.9 1.4-1.1 2-3 1.6-1.5 2-3.2 1.2-1.3 1.1-2 5-7 1.2-3 2.9-4 0.1-1 2-3 0.1-1 0.8-1 1.3-3 0.9-1 0.4-1.9 0.8-1.1 1.5-3 0.7-2.1 1.6-2.9 0.4-1.5 0.5-0.5 0.5-1.5 0.4-0.5 0.6-1.6z"/>
<path fill="#fdca33" d="M234.2 604l-0.2 1.6 -0.5 0.4 -0.1 1 -1.1 2 -0.1 1 -1.8 3 -0.1 1 -1.8 3 -2.5 4.8 -4 6.2 -5 7.1 -7 7.2 -0.7-0.3 1.3-2 2.7-3 0.7-1.5 1.6-1.5 2.4-3.8 3.8-5.2 1.2-2.1 0.8-0.9 1.8-3 0.4-1.3 1-1.6 1.7-2.1 0.6-2 1.5-2 0.7-2 1-1 0.5-2 1-1.1z"/>
</g>
<g filter="url(#bl2)">
<ellipse cx="127" cy="714" rx="17" ry="12" fill="#475cfa" opacity="0.9"/>
</g>
<g filter="url(#bl1)">
<polygon points="89.6,704.6 102.7,710 108,717.7 110.4,736 108,751 98,751 94.2,728.5" fill="#4743e7"/>
<polygon points="98,716 106,718 109,736 106,751 100,751" fill="#4755f6" opacity="0.85"/>
<polygon points="129,722 117,731 112,751 146,751 138,736" fill="#422ebe"/>
<path d="M129.6 719.5 Q133 727 138 734 T152 749" stroke="#475cfa" stroke-width="3.4" fill="none"/>
<path d="M146 705.5 Q136.5 717 142 728.5 Q147 738 157.5 749" stroke="#2f81fa" stroke-width="3.4" fill="none"/>
<path d="M129.6 719.5 L113 729 L104 748" stroke="#4758f8" stroke-width="3.2" fill="none"/>
<ellipse cx="112.6" cy="719" rx="3.2" ry="6" fill="#249fe6"/>
<path d="M112 703 L129.5 720 L147 739" stroke="#402bb7" stroke-width="1.6" fill="none" opacity="0.8"/>
</g>
<g filter="url(#bl07)">
<path d="M145.5 706.3 Q137 717.5 142 728.5" stroke="#c4e455" stroke-width="2.2" fill="none" stroke-linecap="round"/>
<path d="M142 728.5 Q145 735 151 742" stroke="#15afd9" stroke-width="1.8" fill="none" stroke-linecap="round"/>
<path d="M119.8 707.2 L125.6 715.2" stroke="#c4e455" stroke-width="2.5" fill="none" stroke-linecap="round"/>
<path d="M112.3 728.3 L120.8 722.5" stroke="#c4e455" stroke-width="2.4" fill="none" stroke-linecap="round"/>
<polygon points="106.5,704 110.5,713 107.5,712" fill="#3e26a8"/>
</g>
</g>
<path d="M68.0 751.5v-3.6M68.0 353.5v3.6M119.9 751.5v-3.6M119.9 353.5v3.6M171.8 751.5v-3.6M171.8 353.5v3.6M223.7 751.5v-3.6M223.7 353.5v3.6M49.5 405.3h3.6M264.6 405.3h-3.6M49.5 458.8h3.6M264.6 458.8h-3.6M49.5 512.3h3.6M264.6 512.3h-3.6M49.5 565.8h3.6M264.6 565.8h-3.6M49.5 619.3h3.6M264.6 619.3h-3.6M49.5 672.8h3.6M264.6 672.8h-3.6M49.5 726.3h3.6M264.6 726.3h-3.6" stroke="#1c1c3a" stroke-width="0.9" fill="none" opacity="0.85"/>
<rect x="49.5" y="353.5" width="215.1" height="398.0" stroke="#15152c" stroke-width="1" fill="none" opacity="0.75"/>
<text x="68.0" y="772" font-family="'Liberation Sans',Arial,sans-serif" font-size="17" fill="#262626" text-anchor="middle">2</text>
<text x="119.9" y="772" font-family="'Liberation Sans',Arial,sans-serif" font-size="17" fill="#262626" text-anchor="middle">2.5</text>
<text x="171.8" y="772" font-family="'Liberation Sans',Arial,sans-serif" font-size="17" fill="#262626" text-anchor="middle">3</text>
<text x="223.7" y="772" font-family="'Liberation Sans',Arial,sans-serif" font-size="17" fill="#262626" text-anchor="middle">3.5</text>
<text x="46.3" y="411.7" font-family="'Liberation Sans',Arial,sans-serif" font-size="17" fill="#262626" text-anchor="end">1.5</text>
<text x="46.3" y="465.2" font-family="'Liberation Sans',Arial,sans-serif" font-size="17" fill="#262626" text-anchor="end">1</text>
<text x="46.3" y="518.7" font-family="'Liberation Sans',Arial,sans-serif" font-size="17" fill="#262626" text-anchor="end">0.5</text>
<text x="46.3" y="572.2" font-family="'Liberation Sans',Arial,sans-serif" font-size="17" fill="#262626" text-anchor="end">0</text>
<text x="46.3" y="625.7" font-family="'Liberation Sans',Arial,sans-serif" font-size="17" fill="#262626" text-anchor="end">-0.5</text>
<text x="46.3" y="679.2" font-family="'Liberation Sans',Arial,sans-serif" font-size="17" fill="#262626" text-anchor="end">-1</text>
<text x="46.3" y="732.7" font-family="'Liberation Sans',Arial,sans-serif" font-size="17" fill="#262626" text-anchor="end">-1.5</text>
<text x="130.8" y="794.9" font-family="'Liberation Serif','DejaVu Serif',serif" font-size="22" fill="#111" font-style="italic" textLength="15.4" lengthAdjust="spacingAndGlyphs">R</text>
<text x="155.8" y="794.9" font-family="'Liberation Serif','DejaVu Serif',serif" font-size="22" fill="#111" textLength="28" lengthAdjust="spacingAndGlyphs">[m]</text>
<text x="60.8" y="342.6" font-family="'Liberation Serif','DejaVu Serif',serif" font-size="22.5" fill="#111" textLength="24.5" lengthAdjust="spacingAndGlyphs">(b)</text><text x="100.2" y="342.6" font-family="'Liberation Serif','DejaVu Serif',serif" font-size="22.5" fill="#111" textLength="45.2" lengthAdjust="spacingAndGlyphs">Total</text><text x="155.8" y="342.6" font-family="'Liberation Serif','DejaVu Serif',serif" font-size="22.5" fill="#111" textLength="60.5" lengthAdjust="spacingAndGlyphs">charge</text><text x="225" y="342.6" font-family="'Liberation Serif','DejaVu Serif',serif" font-size="22.5" fill="#111" font-style="italic" textLength="24.3" lengthAdjust="spacingAndGlyphs">nZ</text>
<rect x="193.5" y="679" width="21.1" height="59.6" fill="url(#pg)" stroke="#fff" stroke-width="1.2"/>
<text x="221.1" y="692.1" font-family="'Liberation Sans',Arial,sans-serif" font-size="17" fill="#fff">10</text>
<text x="221.1" y="718.7" font-family="'Liberation Sans',Arial,sans-serif" font-size="17" fill="#fff">5</text>
<text x="221.1" y="745.0" font-family="'Liberation Sans',Arial,sans-serif" font-size="17" fill="#fff">0</text>
<text x="216.3" y="667.7" font-family="'Liberation Sans',Arial,sans-serif" font-size="17" fill="#fff">×</text>
<text x="229.3" y="667.7" font-family="'Liberation Sans',Arial,sans-serif" font-size="17" fill="#fff" textLength="17.3" lengthAdjust="spacingAndGlyphs">10</text>
<text x="249.2" y="659.5" font-family="'Liberation Sans',Arial,sans-serif" font-size="12.5" fill="#fff" textLength="12.1" lengthAdjust="spacingAndGlyphs">17</text>
<text transform="translate(17.5,553.5) rotate(-90)" font-family="'Liberation Serif','DejaVu Serif',serif" font-size="21.5" fill="#111" text-anchor="middle"><tspan font-style="italic">Z</tspan> [m]</text>
</g>
<g id="pc">
<rect x="293.2" y="355.6" width="226.8" height="398.4" fill="#3e26a8"/>
<g clip-path="url(#cc)">
<polygon fill="#12beb9" points="366.0,355.0 400.0,355.0 434.6,369.6 462.3,389.2 492.3,417.0 501.5,440.8 507.7,460.8 513.8,490.0 517.5,500.0 520.0,505.0 520.0,560.0 515.4,572.0 503.8,616.0 487.7,646.0 469.2,671.5 462.3,685.0 440.0,727.0 422.5,754.5 347.0,754.5 324.7,700.0 318.0,677.0 308.4,638.5 299.7,600.0 296.0,571.0 293.0,560.0 293.0,505.0 295.3,501.5 297.6,478.5 302.2,440.0 303.8,431.5 319.2,395.4 331.5,373.0 360.0,357.0"/>
<g filter="url(#bl)">
<path fill="#24c1ae" d="M371 382.2l9 0 1-0.3 2 0.5 2 0 0.6 0.6 1.4 0.2 1-0.2 2 0.5 0.3 0.5 2.7 0.3 0.7 0.7 2.3 0.3 0.7 0.7 2.3 0.3 0.7 0.7 1.3 0.2 1 0.9 1 0.3 1 0.1 0.4 0.5 5.6 2.4 0.7 0.6 1.3 0.4 2.4 1.6 1.6 0.7 1.9 1.3 1.1 0.4 3 1.8 1 0.8 1 0.4 4 2.6 1.1 1 1.9 0.9 4.3 3.1 2.7 1.5 0.3 0.5 3.7 2.6 0.1 0.4 1.2 1 2.7 0.9 1.3 1.1 0.5 1 3.2 1.8 4 3 5 5.2 1.4 1 1.6 2.1 2.7 2.9 1.2 2 2.7 3 0.4 1 2 2.9 1.8 2.1 2.6 4 0.6 1.6 1.7 2.4 0.3 1 1.6 2 0.4 1.1 1.6 1.9 1.2 3 0.9 1 1.3 2.6 1.7 2.4 1.3 2.7 2.7 4.3 0.3 1 0.7 1 0.4 1 -0.3 2 0.1 2 0.6 1 1.2 1 0.3 1.1 0.6 0.9 0.4 2.1 2.5 4.9 0.5 1.9 1.6 3.1 0.4 1.5 0.8 1.5 0 1 1.6 4 -0.1 1 0.9 2 0.1 1 1 3 0 2 1 4 0.5 8 0.4 1 0.2 8 0.5 2 0.1 14 0.3 5 -0.3 1 0.6 7 -0.4 2 0.2 4 -0.3 2 -0.1 3 -0.4 1 -0.1 2 -0.4 3 -0.6 1 -0.1 2 -0.7 2 -0.7 4 -3.2 10 -3.9 9 -4 7 -6.2 9 -3.8 5 -1.9 2 -0.5 1 -1.8 2 -0.6 1 -11.6 12 -10.5 9.2 -9 6.7 -10.8 7.1 -2.2 0.8 -3 1.9 -2.9 1.3 -2.1 1.2 -1 0.8 -1 0.1 -10 4.9 -1 0.1 -1.2 0.9 -1.8 0.6 -3 2 -1 0.2 -3.2 2.2 -5.8 3 -3 0.9 -4-0.3 -6-1.6 -5-2.4 -3-2.1 -4-3.3 -2-2.5 -1.8-1.7 -3.1-4 -2.6-4 -2.4-6 -0.3-3 0.2-1.6 2-3.9 3-4.1 2-2.3 7-6.2 5.7-8.9 3.3-4.7 3.5-4.3 3.5-3.8 4-3.4 4-2.8 5-2.9 6.6-3.1 4.3-3 5.8-6 12.3-10.2 4-3.6 4-4.1 4-5 2.8-4.1 2.2-4 2.2-5 1.8-5 1.3-5 1-5 2-16 0.8-5 1.5-5 0.5-1 0.9-0.9 1-0.5 1-0.1 1 0 2 0.6 4 2.6 4 3.7 3.8 4.6 3.2 5 2.6 5 3.2 8 0.7 1 3.5 2 4 1.7 1 1.2 2.8 5.1 1.2 1 1-1.5 0.6-4.5 0.8-2 0.4-3 0.2-13 -0.6-1 0.1-8 -0.4-2 0-3 -0.6-2 0.1-3 -0.4-1 -0.2-2 -0.4-1 0-2 -1.1-4 -0.8-2 0-1 -0.9-2 -0.8-3 -3.4-7 -0.2-1 -2-4 -1.3-3 -2.6-4 -0.5-1.6 -5.9-11.4 -1.1-1.2 -1.5-2.8 -1.5-2 -1.4-3 -0.9-1 -1.1-2 -1-1 -3.5-5 -2.1-2.5 -1.7-1.5 -3.9-5 -4.1-4 -5.3-4.6 -1-0.5 -3-2.5 -5-2.9 -1-0.8 -3-1.8 -3-1.3 -2-1.5 -9-4.6 -2-1.4 -10-5 -15-6.3 -3-0.8 -1-0.5 -2-0.3 -2-0.8 -7-1.4 -4-0.5 -6 0 -4 0.5 -3 0.7 -4 1.2 -2 1 -3.4 2.1 -3.6 2.7 -2.4 2.3 -4.6 5.9 -2.1 4.1 -1.5 2 -6.9 13 -6.9 15 -0.9 3 -1.7 4 -0.4 2 -1 2 -0.3 2 -0.8 2 -0.1 1 -2.1 7 -0.1 1 -0.9 2 -0.6 3 -0.1 2 -1.5 6 -0.1 2 -0.5 2 -0.1 2 -0.4 1 -0.2 2 -0.5 2 -0.1 4 -0.6 2 -0.1 4 -0.6 2 -0.3 12 -0.6 2.5 0.5 2.5 -0.5 14 0.5 2 -0.1 5 0.4 2 0 4 0.5 1 0 4 0.3 1 0 3 0.5 2 -0.1 2 0.5 2 0 2 0.4 1 0 1 0.5 1 0 3 0.3 1 0 1 0.6 1 0.1 3 -0.4 1.9 -1-0.1 -0.2-1.8 -0.5-1 0-1 -0.5-1 -0.6-3 0.1-2 -0.7-2 -1.1-2 -0.5-5.7 -0.6-1.3 -0.4-8 -0.6-1 -0.1-4 -0.8-3 -0.3-4 -0.6-1 -0.3-4 0.7-0.9 0-1 -0.6-3.1 -0.4-5.3 -0.7-1.7 -0.2-4 0.3-2 -0.5-13 0.3-2 -0.1-4 0.2-2 -0.1-4 0.4-2 0-2 0.4-1.8 0.2-5.2 0.9-4 0.3-4 0.6-2 0.2-2 0.6-2 0.9-5 1.7-6 0.3-2 1.1-3 0.4-2 0.8-1.9 1.5-5.1 1.5-3.2 0.5-1.8 3.5-7.8 1 0.3 0-1 -0.7-0.5 1.8-4 0.5-2 0.8-1 -0.1-1 0.7-1 0.1-1 0.9-1.5 0.3-1.5 1.7-1.9 0-1.1 0.8-2 1.3-1 -0.1-0.7 -0.2-0.3 0.6-1 0.6-0.3 0.4-0.7 0-1 0.6-0.3 2-2.7 0.2-1 1.9-2 0.3-1 3.6-3.9 6.1-6.1 2.9-2.5 1.4-0.5 2.6-1.9 3-1.6 1.8-0.5 1.2-0.8 1.4-0.2 1.6-0.7 1.8-0.3 0.2-0.4 1-0.2 1 0.1zM319 585.2l0.4 1.8 -0.4 0.9 -0.6-0.9zM319 588.3l1 0 0 1.5 -1-0.5 -0.2-0.3zM320 590.1l0.5 1.9 -0.5 0.8 -0.5-0.8zM441.3 674l-3.3 3.3 -1 0.5 -2 0 -1 0.3 -11 5.2 -11 4.7 -2 0.3 -0.5-0.3 0.5-0.2 2-1.6 2-0.6 1-0.9 2-0.3 1.7-1.4 1.3-0.3 2.5-1.7 1.5-0.4 2-1.2 1 0.2 4-2.7 3-0.5 2.6-1.4 1.4 0 1-0.3 2-1.3z"/>
<path fill="#2fc5a3" d="M371 382.4l11-0.1 1 0.7 5 0.3 0.9 0.7 1.1 0.1 2.4 0.9 2.6 0.5 0.9 0.5 5.1 1.5 2 1.4 2 0.6 2.9 1.5 1.1 0.3 4.8 2.7 1.2 0.4 2.2 1.6 4.8 2.4 12 8 7 5 2 1.9 2 1.2 8 6.4 1 0.4 2.6 2.7 4.5 4 3.5 4 1.4 2.2 2.5 2.8 2.1 3 0.4 1 1.8 2 2.7 4 3.5 6 2.8 4 1.3 3 1.5 2 0.4 1.2 2.5 3.8 1.5 3.6 1 1.4 2 6 0.5 1 0.1 1 0.4 1 1.2 1 1.4 3 0.4 1.6 2.2 4.4 0.2 1 3.2 7 0 1 1.5 4 0 1 0.9 2 0.1 1 1 3 0 2 0.4 1 0.2 2 0.4 1 0.1 3 0.3 1 0.2 4 0.4 2 0.1 7 0.5 2 0.1 13 0.3 6 -0.3 1 0.5 7 -0.3 2 0.2 4 -0.3 2 -0.1 3 -0.4 1 0 2 -0.5 3 -0.5 1 -0.2 2 -1.3 5 0 1 -3.3 10 -3.9 9 -4.1 7 -6.9 10 -1.8 2 -1.3 2 -1.6 1.7 -0.7 1.3 -1.9 2 -0.4 0.7 -11.8 12.3 -10.2 9.1 -9 6.6 -11 7.3 -2 0.7 -3 1.9 -3 1.3 -3 1.9 -2 0.6 -1 0.6 -2 0.8 -2 1.2 -2 0.7 -2 1.1 -1 0.1 -1.6 1.1 -2.4 1.1 -1.3 0.9 -2.7 1.2 -2.6 1.8 -5.4 2.7 -3 0.8 -4-0.4 -7-2 -4-2.2 -6-4.9 -5-5.7 -2.3-3.3 -1.8-3 -1.2-3 -0.1-3 0.4-1.3 1.2-1.7 2.8-2.7 3-2.5 2-1.4 4-1.9 8.1-2.5 2.1-1 1.2-1 2.5-4 2.9-4 4.2-4.8 12-4.8 10-4.8 9-5.4 8.4-6.2 7.6-7 10.1-11 4.9-6 9.3-13 2.7-3.2 3-2.8 3-1.4 4-0.7 5 0 7 0.9 6-1.2 1-1.5 0.5-3.1 0.7-1 0.9-7 0.7-2 0.2-1.8 0.2-14.2 -0.5-1 0-8 -0.5-2 -0.1-4 -0.4-1 0.1-3 -0.4-1 -0.2-2 -0.4-1 0-2 -1.1-4 -0.8-2 0-1 -0.9-2 -0.8-3 -7.2-15.6 -2.3-3.4 -0.7-2 -5.8-11 -1.2-1.5 -1.3-2.5 -1.5-2 -1.2-2.8 -1.1-1.2 -0.9-1.8 -1.2-1.2 -1.2-2 -1-1 -1.2-2 -1.4-1.7 -2.4-2.3 -0.6-1 -1.1-1 -2.2-3 -4.1-4 -8.6-7.2 -10-6.2 -3-1.3 -2-1.5 -3-1.4 -1-0.8 -4-1.9 -2-1.4 -7-3.6 -18-7.9 -3-0.8 -2-0.8 -1.4-0.2 -4.6-1.4 -5-0.9 -2-0.1 -2-0.4 -7 0.2 -6 1 -2 0.8 -2 0.5 -2 0.9 -6 4 -4 3.8 -4.3 5.6 -2 4 -1.5 2 -3 6 -0.9 1 -9.5 20 -1.3 4 -1.7 4 -0.4 2 -1 2 -0.3 2 -0.8 2 -0.1 1 -2.1 7 -0.1 1 -0.9 2 -0.6 3 -0.1 2 -0.4 1 -0.7 4 -0.4 1 -0.7 6 -0.4 1 -0.1 2 -0.6 2 -0.1 4 -0.5 2 -0.1 4 -0.6 2 -0.4 13 -0.5 1 0 1 0.4 2 -0.3 15 0.4 1 -0.1 6 0.4 1 0 4 0.4 1 0 4 0.4 1 0 3 0.4 2 0 2 0.5 2 0.3 4 0.5 1 0 3 0.3 2 0.6 1 0.1 3 -0.2 1.2 -0.4-0.2 -1.1-2 0-1 -1.1-4 0-2 -1.1-3 -0.5-3 -0.5-1 -0.1-3 -0.5-1 0-3 -0.4-1 -0.1-4 -0.5-1 -0.2-4 -0.4-2 -0.2-5 -0.7-1 -0.2-12.2 -0.4-2.8 -0.6-1 -0.3-4 0.5-2 -0.7-13 0.5-2 -0.2-4 0.4-2 -0.1-4 0.3-4 0.3-1 0-2 0.4-2 0-2 0.9-4 0.5-5 1-4 1.1-6 0.7-2 0.3-2 0.4-0.8 1-1 0-0.3 -0.6-0.9 0.6-1.6 1-0.6 0.3-0.8 -0.5-1 0.2-1 1-0.9 0.4-1.1 -0.3-1 0.9-0.6 0.3-1.4 -0.3-1 1-1.1 0.3-0.9 0-1 0.7-0.4 1.6-4.6 0.4-0.2 0.3-0.8 -0.2-1 0.9-0.9 0.4-2.1 0.6-0.5 0.4-1.5 -0.1-1 0.7-0.7 0-1.3 0.4-1 0.6-0.7 0-1.3 0.4-1 0.6-0.6 0.1-1.4 0.6-1 -0.1-1 1.4-2 0-1 1-1.3 1-2.3 0.2-1.4 1.1-1 -0.1-1 1.6-2 0.3-1 2.1-3 0.2-1 5.6-6.7 6.4-6.3 1.5-1 1.1-1.1 1.9-0.9 2.1-1.6 6-2.9 2.1-0.5 0.9-0.5 4-0.5zM364 388l1 0.3 6-1 10.8-0.3 -0.4-1 -9.4-0.2 -1 0.4 -4.4 0.8 -0.6 0.6zM382.3 387l2.7 0.2 1.5-0.2 -2.5-0.3zM432.1 678l-9.4 5 -4.7 2 -1 0.1 -1.3 0.9 -1.7 0.2 -0.2-0.2 1.2-0.6 0.3-0.4 1.7-0.1 1-1.2 3-1.1 0.5-0.6 1.5-1 2-0.4 1-1 1 0.3 1-0.2 0.4-0.7 1.6-0.7 1-0.8z"/>
<path fill="#37c897" d="M371 382.6l10-0.1 1 0.2 1 0.5 2 0 1 0.3 2 0.2 0.4 0.3 2.6 0.6 1 0.5 3 0.6 6 2 1.7 1.3 1.3 0.3 5 2.2 13 7.2 12 7.9 7 5.2 2 1.9 4 2.8 5.4 4.5 1.6 1.1 5 5 2 1.6 0.9 1.3 2.9 3 1.2 1.9 2.7 3.1 1.9 3 1.8 2 2 3 2.3 4 0.8 1 0.5 1.2 1.5 1.8 1 2 0.9 1 1.6 3.5 1.1 1.5 0.9 2 1.6 2 2.1 5 1.1 2 2.5 6 0.1 1 0.4 1 1.1 1 2.1 5 1.9 4 0.3 1 3.2 7 0.6 3 0.9 2 0 1 0.9 2 0.1 1 1 3 0 2 0.5 1 0.2 2 0.3 1 0.1 3 0.4 1 0.1 4 0.5 2 0 7 0.6 2 0 13 0.3 6 -0.3 1 0.5 7 -0.3 2 0.2 4 -0.8 8 -2.5 12 -3.2 10 -4 9 -4.1 7 -7 10 -4.4 5.3 -1 1.7 -14 15 -10.1 9 -8.9 6.6 -10 6.7 -2 1 -1 0.2 -3 2 -3 1.2 -3 1.9 -2 0.6 -1.3 0.8 -1.7 0.6 -2.4 1.4 -1.6 0.5 -2 1.1 -1 0.1 -1.9 1.3 -1.1 0.3 -2.7 1.7 -2.3 1 -3 2 -5 2.4 -2 0.6 -2 0 -3-0.4 -6-1.7 -4-2.2 -3.5-2.7 -4.2-4 -3.3-4.2 -2.5-3.8 -1.4-3 -0.2-2 0.3-2 1.8-1.8 9-4.4 5-1.8 11-2.6 7-0.1 7-1 5-1.3 4.9-2 1.3-1 6-6 18.8-17.9 6-6.3 7-8.1 20-15.2 5-3 5-1.9 1-0.8 3-4 5.1-7.8 3.9-3.6 1-1.6 1.4-3.8 0.7-5 0.6-1 0.3-2.2 0.3-4.8 0.8-2 0.2-16 -0.5-2 0.1-7 -0.5-2 0-3 -0.4-2 0-3 -0.5-1 -0.1-2 -0.4-1 0-2 -0.4-1 -0.6-3 -0.9-2 0-1 -0.9-2 -0.8-3 -7.4-16 -1.6-2 -1.2-3 -5.8-11 -1.4-1.8 -1.1-2.2 -1.5-2 -1.3-3 -1-1 -1-2 -1.1-1 -1-1.9 -1.2-1.1 -1.1-2 -2.6-3 -1.3-1 -3.8-5 -3.2-3 -0.8-1 -9-7.6 -10-6.1 -2.9-1.3 -2.1-1.5 -3-1.4 -1-0.9 -4-1.8 -2-1.4 -9-4.6 -16-7 -3-0.8 -2-0.8 -1 0 -5-1.5 -5-0.9 -2-0.1 -2-0.3 -7 0.1 -6 1.1 -2 0.8 -2 0.4 -2 1 -6 3.9 -4 3.8 -4.5 5.9 -2.1 4 -1.5 2 -2.9 5.8 -1 1.2 -9.5 20 -1.3 4 -1.3 3 -0.4 2 -1.3 3 -0.3 2 -0.8 2 -0.1 1 -2.2 7 0 1 -0.9 2 -0.6 3 -0.1 2 -0.4 1 -0.7 4 -0.4 1 -0.7 6 -0.4 1 -0.1 2 -0.6 2 -0.1 4 -0.5 2 -0.1 4 -0.6 2 -0.4 13 -0.4 1 0.1 2 0.3 1 -0.3 15 0.4 1 -0.1 6 0.4 1 0 4 0.4 1 0 4 0.4 1 0 3 0.4 2 0 2 0.4 2 0.3 4 0.6 1 -0.1 3 1 6.3 -1-0.8 -0.3-0.5 -0.2-2 -0.9-3 0-2 -1.1-3 -0.4-3 -0.6-1 -0.1-3 -0.4-1 0-3 -0.5-1 -0.2-4 -0.5-2 0-3 -0.5-1 -0.2-6 -0.7-1 -0.3-15 -0.8-1 -0.2-4 0.5-2 -0.6-12 0.4-3 -0.2-4 0.3-2 -0.1-4 0.4-2 0.1-2 0.4-1 -0.1-2 0.4-4 1.1-4 -0.3-1 0.4-1 0-2 0.5-3 0.9-2 0.1-2 1-4 0.6-1 0.4-3 0.8-1 0.2-1 -0.3-1 0.5-1 0.5-0.4 0.7-1.6 -0.2-1 2-5 0.8-3 1.7-3.7 2.5-7.3 0.5-0.8 1.2-4.2 0-1 0.8-1.1 0.2-1.9 0.8-1.2 0.3-1.8 0.8-1 -0.1-1 1-1.7 0.3-1.3 0.7-0.9 1-2 0.5-2.1 0.9-1 0.1-1 1.5-2 0.2-1 2.2-3 0.2-1 2.5-3 2-2 0.9-1.4 6.6-6.6 1.4-0.9 1-1 2-1 2-1.4 6-3 5-1.4 2-0.2zM360.2 390l1.8 0.1 1-0.7 8-1.6 11-0.3 8 1 0.8-0.5 -2.8-1 -3-0.4 -1-0.7 -2 0.1 -2-0.4 -8-0.1 -1 0.3 -2 0.2 -1 0.6 -2.2 0.4 -0.8 0.6 -1.8 0.4 -1.2 0.7 -1.1 0.3z"/>
<path fill="#45cb89" d="M371 382.8l10-0.1 2 0.6 2 0 1 0.5 4 0.6 2 0.9 1 0 8 2.7 1.4 1 1.6 0.4 2 0.9 1.1 0.7 4.9 2.3 14 8.1 3 2.3 3 1.7 3.3 2.6 0.7 0.3 4 2.9 3 2.8 1.7 1 7.3 6.2 2 1.4 2 2.2 1 0.6 3.8 3.6 3.6 4 0.6 1.1 3.4 3.9 1.8 3 2.5 3 2.8 4 0.5 1.4 1.2 1.6 0.8 1.8 1.1 1.2 1 2 1 1 1.9 4 0.8 1 1.2 2.5 1.3 1.5 2 5 1.2 2 2.5 6 0.1 1 0.5 1 1 1 1 2 1.2 3 2 4 0.1 1 3.3 7 0.6 3 0.9 2 0 1 0.9 2 0.2 1 1 3 0 2 0.4 1 0.2 2 0.4 1 0 3 0.4 1 0.2 4 0.4 2 0.2 8 0.4 1 0.1 13 0.2 5 -0.3 2 0.5 7 -0.3 2 0.2 4 -0.3 2 0 2 -0.4 2 -0.1 2 -2.5 12 -3.2 10 -4 9 -1.3 1.9 -1 2.2 -3.2 4.9 -5.7 8 -1.9 2 -3.2 4.4 -14.3 15.6 -7.7 7.1 -5 4 -6 4.4 -10 6.6 -2 1.1 -1 0.2 -3 1.9 -3 1.3 -3 1.8 -2 0.6 -1.6 1 -1.4 0.4 -2.7 1.6 -1.3 0.3 -2 1.2 -1 0 -2 1.3 -2 0.8 -2 1.3 -2 0.8 -3.5 2.3 -1.5 0.5 -3 1.5 -2 0.5 -4-0.3 -3-0.7 -4.6-1.5 -2.4-1.6 -1-0.5 -4.2-3.9 -2.8-3 -4-5.8 -1.4-3.2 -0.1-1 0-2 0.5-1 2-1.4 2-0.7 1-0.6 7-2 11-2.5 7-0.1 5-0.5 9.9-2.2 8.5-3 6.8-3 5.5-3 4.8-3 4.3-3 5.1-4 4.4-4 3.7-4 4-7 0.9-1 6.1-2.8 2-1.5 3-2.9 6-6.8 6-8 12-17.6 3-5.6 0.3-1.8 0.7-1.6 0.4-2.4 0.6-1 0.4-5 0.7-1 0.4-7 0.7-2 0.3-16 -0.5-2 0-8 -0.4-1 -0.1-4 -0.4-1 0.1-3 -0.5-1 -0.1-2 -0.4-1 0-2 -1-3 -0.1-1 -0.9-2 0-1 -1.5-4 -0.1-1 -6.4-14 -1.2-2.3 -1.4-1.7 -1.2-3 -5.8-11 -1.5-2 -1.1-2.1 -1.4-1.9 -0.3-1 -1-2 -0.9-1 -1.1-2 -1-1 -1.1-2 -1.1-1 -1.1-2 -1.1-1 -0.6-1 -2.2-2 -4.1-5.4 -3-2.7 -1-1.3 -1-0.6 -4-3.7 -1.9-1.3 -2.1-1.9 -2-1.1 -7-4.5 -3.2-1.5 -1.8-1.3 -3.4-1.7 -1.6-1.2 -4-1.7 -2-1.5 -10-5.1 -2-0.7 -13-5.8 -3-0.8 -2-0.8 -2-0.3 -1-0.4 -8-1.6 -2 0 -2-0.4 -7 0.1 -1 0.4 -5 0.7 -2 0.8 -2 0.4 -2 1 -6 3.9 -4.3 4 -4.5 6 -2 4 -1.6 2 -2.6 5.3 -1.3 1.7 -9.4 20 -1.3 3.9 -1.3 3.1 -0.4 2 -1.3 3 -0.3 2 -0.8 2 0 1 -2.3 7 -0.1 1 -0.9 2 -0.5 3 -0.1 2 -0.4 1 -0.7 4 -0.4 1 -0.1 2 -0.5 2 -0.1 2 -0.4 1 -0.1 2 -0.5 2 -0.1 4 -0.6 2 0 4 -0.6 2 -0.4 13 -0.4 1 0.1 2 0.3 1 -0.3 15 0.4 1 -0.1 6 0.4 1 0 4 0.4 1 -0.1 4 0.5 1 0 3 0.3 2 0 2 0.5 2 0 2 0.5 3 0 3 0.5 1 -0.1 2 0.3 2 -0.3 0.2 0-2.2 -1-2 -0.2-1 -0.1-3 -1-2 -0.4-3 -0.6-1 0-3 -0.5-1 0-3 -0.6-1 -0.1-4 -0.5-2 0-3 -0.5-1 -0.3-6 -0.6-1 -0.1-1 -0.3-14 -0.7-1 -0.2-4 0.6-2 -0.6-13 0.4-1 0.1-1 -0.4-4 0.5-2 -0.2-4 0.5-2 0.1-2 0.5-1 -0.4-2 0.5-2 0.1-2 0.4-1 0-1 0.6-1.3 0.1-0.7 -0.3-1 0.4-1 0.1-2 0.4-3 1.1-2 -0.1-2 1.6-5 0.2-2 0.9-2 0.1-2 1.6-3 0.2-2 1.6-4 0.7-3 1.4-2.9 1.4-4.1 0.6-1 1.4-5 0.5-1 0.5-3 0.6-0.8 0.4-1.2 0-1 0.6-0.8 0.6-2.2 0.6-1 0-1 0.8-1.3 0.5-1.7 1.5-2.6 0.8-2.4 0.8-1 0.2-1 1.4-2 0.1-1 2.3-3 0.2-1 1.2-1.2 1.2-1.8 2-2 0.8-1.2 6.9-6.8 2.1-1.7 2-1 1-0.9 5-2.6 5-1.8 2-0.6 2-0.1zM356.5 392l0.5 0.3 3-1.6 2-0.3 2-0.8 8-1.4 11-0.1 11 1.6 5 1.6 1 0.6 0.3-0.9 -0.3-0.3 -1 0.1 -0.9-0.8 -1.1-0.3 -1 0 -0.9-0.7 -2.1-0.4 -0.7-0.6 -2.3-0.5 -1-0.6 -4-0.6 -1-0.5 -2 0 -1-0.4 -9-0.1 -1 0.4 -2 0.1 -1 0.6 -1 0 -6.5 2.6 -0.5 0.6 -1.2 0.4 -0.8 0.6 -1 0.4z"/>
<path fill="#58cc79" d="M371 383l10 0 2 0.4 2 0 1 0.6 4 0.6 11 3.6 1 0.8 4 1.4 1 0.8 1 0.2 4 2 1 0.8 3 1.4 1 0.8 9 5.2 3 2.3 3 1.6 3 2.5 1 0.5 3.1 2.5 0.9 0.4 3 2.8 3 2.1 3 2.7 1.5 1 9.9 9 3.6 4 1 1.5 3 3.5 2 3.2 2.5 2.8 1.8 3 0.9 1 0.8 2 0.9 1 1 2 0.9 1 1 2 1.2 1.4 1.6 3.6 0.9 1 1.5 3 0.9 1 2.1 5.1 1.2 1.9 2.1 5 0.6 2 0.5 1 0.9 1 1.1 2 3.2 7 0.2 1 3.3 7 0.5 3 1 2 0 1 0.9 2 0.1 1 1 3 0 2 0.5 1 0.1 2 0.4 1 0.1 3 0.4 1 0.1 4 0.5 2 0.1 8 0.5 1 0 13 0.3 5 -0.3 2 0.4 7 -0.3 2 0.2 4 -0.3 2 0 2 -0.4 2 0 2 -2.6 12 -3.1 10 -4.1 9 -0.8 1 -1.5 3 -1.9 3 -0.9 1 -0.4 1 -5.6 7.8 -2 2.1 -3.1 4.1 -1.9 1.9 -1.6 2.1 -10.9 12 -7.6 7 -5 4 -5.9 4.3 -10 6.7 -2 1 -1 0.3 -3 1.9 -3 1.2 -3 1.8 -2 0.6 -1.9 1.2 -2.1 0.7 -1 0.7 -3 1.2 -1 0.7 -1 0.1 -6 3.2 -2 0.9 -4 2.5 -2 0.6 -1 0.6 -3 0.8 -6-0.9 -4-1.3 -1.7-0.8 -3.9-3 -4.4-5 -3-4.4 -2-4.6 0.5-2 0.6-1 1.9-1.5 3-0.6 1-0.6 2-0.5 2-0.2 9-1.7 8-0.4 5-0.7 7.9-1.8 4.1-1.2 5-1.8 7.4-3 9.6-5.2 5.8-3.8 5.2-3.9 8.2-7.1 14.8-14.7 4-4.4 5-6.1 13-17.7 2-3 2.7-6.1 1.7-5 0.3-2 0.5-1 0.3-2 0.7-2 0.5-5 0.5-1 0.5-7 0.7-2 0.2-16 -0.4-2 0-8 -0.5-1 0-4 -0.4-1 0-3 -0.4-1 -0.1-2 -0.4-1 0-2 -1-3 -0.1-1 -0.9-2 0-1 -1.6-4 0-1 -6.4-14 -1.4-2.6 -1.2-1.4 -0.7-2 -6.3-12 -1.5-2 -1.6-3 -0.9-1 -0.2-1 -1-2 -0.9-1 -1.1-2 -1-1 -1.2-2 -1-1 -1.1-2 -1.1-1 -0.6-1 -2.1-2 -4.5-5.7 -3-2.8 -1-1.3 -1-0.6 -4-3.7 -1.4-0.9 -2.6-2.4 -5-2.8 -4-2.7 -2.4-1.1 -2.6-1.7 -2.6-1.3 -2.4-1.6 -3.3-1.4 -2.7-1.8 -4.4-2.2 -2.6-1.5 -18-7.9 -3-0.8 -2-0.7 -1-0.1 -2-0.7 -8-1.5 -2 0 -2-0.4 -7 0.2 -1 0.3 -5 0.8 -2 0.8 -2 0.4 -2 0.9 -6 3.9 -2 1.6 -2.6 2.7 -3.8 5 -2.6 4.9 -1.6 2.1 -2.4 4.8 -1.5 2.2 -3 6 -0.3 1 -6.2 13 -0.8 2 -0.2 1.2 -1.6 3.8 -0.3 2 -1.3 3 -0.2 2 -0.8 2 -0.1 1 -2.3 7 -0.1 1 -0.9 2 -0.5 3 -0.1 2 -0.5 1 -0.6 4 -0.4 1 -0.1 2 -0.5 2 -0.1 2 -0.4 1 -0.1 2 -0.5 2 -0.1 4 -0.5 2 -0.1 4 -0.5 2 -0.3 12 -0.5 2 0 2 0.3 1 -0.2 15 0.4 1 -0.1 6 0.4 1 0 4 0.3 1 0 4 0.5 1 0.3 7 0.4 2 0.1 2 0.2 1 -0.2 1.9 -1.2-1.9 -0.2-1 -0.1-2 -0.6-1 0-3 -0.6-1 0.1-3 -0.6-1 -0.1-1 0-3 -0.5-2 -0.1-3 -0.5-1 -0.2-6 -0.7-2 -0.4-14 -0.5-1 -0.3-4 0.6-2 -0.6-13 0.5-1 0-3 -0.3-1 0.4-3 -0.1-4 0.4-1 0.2-3 0.5-1 0-1 -0.4-1 0.5-2 0.1-2 0.5-1 0.4-2 0-2 0.4-1 0.1-3 0.3-2 1.1-2 0-2 0.9-2.6 0.2-1.4 0.8-2 0-1 0.7-2 0.3-2 1.3-3 0.2-2 1.7-4 0.7-3 3.1-7.7 1.5-5.3 0.6-1 0.5-3 0.9-2 0.1-1 0.4-0.6 1.3-3.4 0-1 0.7-1 0.7-2 1.3-2.4 0.5-1.6 1.3-2 0.7-2 0.8-1 0.2-1 2.3-3 0.2-1 5-6 7-6.9 2-1.6 7-4.1 5-2 3-0.8 2-0.2zM350.7 396l0.3 0.7 5-3.5 4-2 2-0.4 2-0.8 3-0.7 2-0.1 2-0.6 11-0.2 5 0.6 8 1.5 1 0.5 2 0.5 2 0.9 1 0.1 2 0.7 8 4.2 1 0.1 3 1.8 1 0.3 0.1-0.6 -1.1-1 -1-0.3 -2-1.2 -0.4-0.5 -1.6-0.4 -4.5-2.6 -1.5-0.3 -0.8-0.7 -1.2-0.1 -1-0.4 -1-1.1 -1-0.1 -2-1 -1 0 -2-0.9 -3-0.8 -2-0.9 -1 0 -1-0.5 -1 0 -2-0.5 -2 0 -1-0.6 -9 0 -1 0.4 -2 0.2 -1 0.4 -1 0 -1 0.6 -2 0.5 -5.7 2.8 -1.5 1 -0.8 0.9 -2 1z"/>
<path fill="#6ccd69" d="M371 383.1l10 0.1 2 0.4 2 0 1 0.6 4 0.5 2 0.8 1 0.1 1 0.5 2 0.5 1 0.5 2 0.5 1 0.5 1 0.3 1 0.7 4 1.5 1 0.8 1 0.2 4 2 1 0.8 3 1.4 2 1.3 1 0.4 1 0.8 6 3.4 2.9 2.3 3.1 1.7 3 2.5 1 0.4 3 2.5 1 0.5 3 2.8 3 2.1 6 5.3 1.7 1.2 1.8 2 4.6 4 1.6 2 2 2 1.3 2 2.8 3 2.2 3.5 2.2 2.5 1.8 3 0.9 1 0.9 2 0.8 1 1 2 0.9 1 1.1 2 1.4 1.8 1 2.2 0.2 1 1.1 1 1.3 3 1 1 2.4 6 1 1.3 2.1 4.7 0.6 2 2 3 1.3 2.7 0.4 1.3 2 4 0.2 1 3.2 7 0.7 3 0.9 2 0 1 0.9 2 1.1 4 0.1 2 0.5 1.7 0 1.3 0.5 1 0 3 0.5 1.5 0.1 3.5 0.4 2 0.1 8 0.5 1 0.1 13 0.2 6 -0.3 1 0.4 7 -0.3 2 0.2 5 -0.3 1 0.1 2 -0.4 2 -0.1 2 -2.5 12 -1.5 5 -1.2 3 -0.5 2 -4 8.8 -1 1.2 -1.5 3 -1.8 3 -0.9 1 -0.4 1 -0.9 1 -3.4 5 -3.1 3.5 -3.3 4.5 -14.4 16 -7.6 7 -3.6 3 -7.1 5.2 -10.3 6.8 -2.7 1.2 -3 1.9 -3 1.1 -1 0.8 -2 1.1 -2 0.5 -1 0.7 -3 1.2 -1 0.7 -3 1.2 -1 0.7 -1 0.1 -9 4.5 -2 1.4 -4 1.6 -2 0.5 -4-0.3 -3-0.7 -3.3-1.2 -1.9-1 -2.8-2.6 -3-4.4 -3-3.8 -2-3.1 -0.2-2.1 0.6-2 3.6-2 2-0.5 4-0.5 3-0.7 13-1.2 7-1.3 10-2.7 10.8-4.1 4.3-2 6.9-3.8 9-6.2 5-4 6-5.5 15.4-15.5 7.8-9 9.8-12.5 3-4.9 0.7-1.6 1.2-2 2.3-7 0.2-1 1.4-4 0.3-2 0.5-1 0.2-2 0.7-2 0.3-4 0.6-2 0.5-7 0.6-2 0.3-16 -0.4-2 0-8 -0.5-1 0-4 -0.4-1 0-3 -0.5-1.5 -0.1-1.5 -0.4-1 0-2 -1-3 0-1 -0.9-2 0-1 -1.6-4 0-1 -3-6.1 -0.6-1.9 -2.4-4.7 -0.4-1.3 -1.6-2.9 -1.1-1.1 -0.6-2 -3-6 -1.3-1.9 -1.5-3.1 -2.5-3.9 -0.5-1.1 -1.6-2 -0.1-1 -1-2 -0.9-1 -1.1-2 -5.8-8 -2.1-2 -4.8-6 -3.1-2.9 -0.8-1.1 -1.2-0.8 -4-3.8 -2-1.3 -2-1.9 -2-1 -1-0.9 -2-1 -4-2.8 -3-1.3 -2-1.4 -9-4.7 -1-1 -6-3 -1-0.7 -15-6.8 -4-1.6 -5-1.4 -11-2.1 -4-0.3 -7 0.1 -6 1.1 -2 0.8 -2 0.4 -2.8 1.4 -7.2 4.9 -2.9 3.1 -3.8 5 -2.3 4.4 -1.9 2.6 -2.1 4.3 -1.8 2.7 -3 6 -0.3 1 -6.2 13 -0.8 2 -0.1 1 -1.6 4 -0.3 2 -1.2 3 -0.3 2 -0.8 2 -0.1 1 -2.1 6 -0.3 2 -0.9 2 -0.6 3 -0.1 2 -0.4 1 -0.6 4 -0.4 1 0 2 -0.6 2 -0.1 2 -0.4 1 0 2 -0.6 2 -0.1 4 -0.5 2 -0.1 4 -0.5 2 -0.3 12 -0.4 2 0 2 0.3 1 -0.2 15 0.3 1 -0.1 6 0.5 1 0.3 9 0.5 1 0.4 11 0.6 1 -0.1 1.2 -0.6-1.2 -0.4-0.1 -0.2-0.9 0-2 -0.7-1 0.1-3 -0.7-1 0-3 -0.5-1 -0.2-1 0-3 -0.5-2 0-3 -0.6-1 -0.2-6 -0.6-2 -0.5-14 -0.5-2 -0.2-3 0.5-2 -0.4-13 0.4-1 0-3 -0.3-1 0.5-3 -0.1-4 0.4-1 0-2 0.6-2 -0.3-2 0.3-1 0.3-3 0.5-1 0.4-4 0.5-1 0-3 0.3-2 1-2 0.2-2 0.6-2 0.3-2 0.8-2 0-1 0.8-2 0.3-2 1.2-3 0.3-2 1.6-4 0.8-3 2.8-7.3 0.4-1.7 1.7-5 0.7-3 0.9-2 0.1-1 0.9-2 0.7-2 0.1-1 2.5-5.1 0.6-1.9 1.4-2 0.2-1 0.4-1 0.8-1 0.2-1 2.4-3 0.2-1 5-6 6.8-6.7 2-1.7 2-1 1-0.9 1-0.4 1-0.8 1-0.2 1-0.8 4-1.4 1-0.6zM348.6 398l0.4 0.6 7-5 4-2.1 2-0.4 2-0.8 7-1.3 11-0.3 10 1.5 6 1.7 2 0.9 3 0.9 13 6.7 3 1.1 2 1.1 0.4-0.6 -1.2-1 -4.2-2.3 -1-0.9 -2-1 -1-0.8 -2-0.8 -2-1.2 -1-0.3 -1-0.8 -1-0.2 -2-1 -1-0.1 -2-1.6 -2-0.4 -1-0.6 -2-0.4 -1-0.6 -3-0.6 -2-0.8 -1 0 -1-0.7 -1 0 -2-0.4 -2 0 -1-0.6 -9 0 -1 0.4 -4 0.6 -1 0.6 -2 0.5 -4 1.9 -1 0.8 -1 0.2 -2 1.8 -2 1 -1 1 -1.9 1.3zM423.5 404l1.5 1.1 1 0.1 0.1-0.2 -1.1-1.1 -1-0.1z"/>
<path fill="#82cc58" d="M371 383.3l10 0 2 0.4 2 0 1 0.6 4 0.6 2 0.8 1 0 1 0.6 2 0.4 1 0.6 2 0.4 1 0.6 1 0.3 1 0.7 2 0.6 1 0.6 1 0.2 1 0.8 1 0.2 2 1.2 2 0.8 1 0.9 3 1.3 9 5.6 1 0.4 2.6 2.1 3.4 1.9 3 2.5 1 0.4 3 2.5 1 0.4 3 2.8 3 2.2 6 5.4 1.3 0.9 1.9 2 4.8 4.3 1.2 1.7 0.8 0.5 1.4 1.5 1.3 2 2.8 3 2.5 3.8 2 2.2 1.8 3 0.8 1 2.8 5 3.5 5 0.8 2 0.1 1 1.2 1 1.2 3 1.2 1 2.3 6 1.3 1.9 2.3 5.1 0.1 1 2 3 1.6 3.1 0.7 1.9 1.5 3 0.2 1 2.6 5.4 1.3 4.6 1 2 0.2 2 0.6 1 0.7 3 0.5 1 0 2 0.5 2 0 1 0.5 1 0 3 0.5 2 0.1 3 0.5 2 0.1 8 0.5 1 0 13 0.2 6 -0.3 1 0.5 7 -0.4 2 0.2 5 -0.3 1 0.1 2 -0.4 2 0 2 -2.6 12 -1.5 5 -1.2 3 -0.5 2 -3.8 8.4 -1 1.3 -1.2 2.3 -3.6 6 -1 1 -3.3 5 -2.9 3.1 -3.6 4.9 -10.7 12 -5.8 6 -5.4 5 -3.6 3 -6.9 5.1 -8.9 5.9 -5.1 2.6 -2.2 1.4 -2.8 1 -3.5 2 -1.5 0.4 -1 0.7 -3 1.1 -1 0.8 -2 0.6 -2 1.3 -2 0.4 -1 0.8 -1 0.2 -2 1 -1 0.7 -3 1.2 -2.9 1.8 -4.1 1.1 -2.2-0.1 -4.7-1 -5.1-3.1 -1-1.2 -1.4-2.7 -2.6-2.5 -1-1.4 -1.4-1.1 -0.6-1.3 -1-0.8 -0.7-1.9 0.2-1 1.5-2 2-0.9 1 0 1-0.5 2-0.1 3-0.9 13-1.3 7-1.4 8-2 14-5.2 4-1.9 6.9-3.8 10.3-7 5.8-4.8 3.4-3.2 17.6-17.6 9-10.4 5-6.4 2.2-3.6 0.7-2 2.1-3.7 0.3-1.3 1.1-2 1.1-4 0.5-1 0.8-3 1.3-4 0.2-2 0.6-1 0.2-2 0.6-2 0.5-5 0.4-1 0.5-7 0.5-1 0.3-4 0.1-13 -0.5-2 0.1-8 -0.5-1 0-4 -0.5-1 0.1-3 -0.5-2 0-1 -0.5-1 0-2 -0.5-2 -0.5-1 0-1 -1-2 -0.2-2 -0.6-1 -0.7-2 0-1 -3.2-6.5 -0.4-1.5 -4.3-9 -1.3-1.3 -0.5-1.7 -2.9-6 -0.9-1 -2.4-5 -1.5-2 -1.5-3 -1-1 -0.7-2 -2.5-4 -5.8-8 -2.3-2.3 -4.5-5.7 -3.1-3 -0.7-1 -1.4-1 -4.2-4 -1.5-1 -2.2-2 -1.8-1 -1.6-1.3 -1.6-0.7 -1.4-1.2 -1.7-0.8 -1.3-1 -2.3-1 -1.7-1.3 -4-2.2 -1-0.8 -3.6-1.7 -2.4-1.8 -4.4-2.2 -2.6-1.6 -4-1.9 -1.6-0.5 -3.4-1.7 -10-3.9 -5-1.3 -1 0 -2-0.7 -8-1.2 -4-0.3 -7 0.2 -6 1.1 -2 0.8 -2 0.4 -3 1.4 -7 4.9 -3.2 3.3 -3.8 5 -2 3.8 -2.2 3.2 -0.8 1.9 -5.6 10.1 -7 15 -2.4 6.9 -0.3 2.1 -1.2 3 -0.2 2 -0.8 2 -0.1 1 -1 2 -1.3 4 -0.3 2 -0.9 2 -0.6 5 -0.4 1 -0.6 4 -0.4 1 -0.1 2 -0.5 2 -0.1 2 -0.4 1 -0.1 2 -0.4 2 -0.1 4 -0.6 2 -0.1 4 -0.4 2 -0.3 12 -0.5 2 0.1 2 0.3 1 -0.2 15 0.3 1 -0.1 6 0.5 1 0.2 9 0.5 1 0 4 0.3 1 0.1 3 -0.3 1 0 2.2 0-2.2 -0.5-1 0.1-3 -0.9-1 0-3 -0.7-2 0-3 -0.6-2 0-3 -0.5-1 -0.2-1 -0.1-5 -0.5-2 -0.5-14 -0.4-1 -0.3-4 0.5-2 -0.4-13 0.4-1 -0.3-5 0.5-1 -0.1-5 0.5-1 0-2 0.4-2 -0.2-2 0.4-1 0.1-2 0.6-2 0.5-4 0.4-1 0.1-3 0.3-2 0.9-2 0.1-1 1-5 0.8-2 0-1 0.8-2 0.3-2 1.3-3 0.3-2 1.5-4 0.8-3 1.6-3.9 1.5-5.1 0.5-1 1.4-5 1.4-4 0.2-1 0.9-2 0.7-3 2.5-5 0.6-2 1.4-2 0.6-2 0.8-1 0.2-1 2.4-3 0.3-1 5-6 6.6-6.6 2-1.6 2-1 1-1 1-0.3 1-0.9 1-0.1 1-0.9 4-1.3 1-0.6zM346.6 400l0.4 0.6 5-3.9 4-2.7 4-2.1 2-0.5 2-0.8 7-1.3 11-0.2 4 0.4 8 1.5 2 0.9 2 0.4 2 0.9 1 0.2 2 0.7 7 3.7 2 0.8 4 2.3 2 0.7 4.5 2.4 1.5 1.2 3 1.3 0.4-0.5 -0.6-1 -0.8-0.3 -1-1 -2-0.9 -2.2-1.8 -4.8-2.5 -1-0.9 -2-1 -1-0.9 -2-0.8 -2-1.2 -1-0.1 -1-0.9 -1-0.2 -2-0.9 -1-0.2 -2-1.6 -2-0.3 -1-0.7 -2-0.3 -1-0.7 -3-0.6 -2-0.8 -1 0 -1-0.6 -3-0.4 -2 0 -1-0.7 -9 0 -1 0.5 -2 0.2 -1 0.4 -1 0 -1 0.6 -2 0.4 -1 0.6 -3 1.3 -1 0.8 -1 0.2 -2 1.8 -2 1 -1 1 -1 0.5 -3.9 4zM429.8 408l0.6 1 0.6 0.4 0.9-0.4 -0.9-1.2z"/>
<path fill="#98ca47" d="M371 383.5l10 0 1 0.2 3 0.1 1 0.7 3.7 0.5 2.3 0.8 1 0 1 0.7 2 0.3 1 0.7 2 0.3 3 1.7 1.8 0.5 1.2 0.7 1 0.1 1 0.9 1 0.1 2 1.3 2 0.8 1 0.9 6 3 1 0.9 1 0.4 4 2.6 1 0.4 2.4 1.9 3.6 2.1 3 2.4 1 0.4 3 2.5 1 0.5 3 2.8 3 2.2 4 3.4 8 7.7 2 1.6 0.8 1.4 1.2 0.8 1.1 1.2 1.3 2 2.8 3 2.6 4 1.9 2 1.4 2 4.1 7 3.4 5 0.9 2 -0.1 1 1.2 1 1.2 3 1.3 1 2.2 6 0.9 1 2.2 5 0.6 0.8 0.6 2.2 1.4 1.6 1 1.9 1.3 3.5 1.7 3 0.6 2 1.4 2.6 1 2.5 1.4 4.9 0.7 1 0.1 2 0.8 1.2 0.5 2.8 0.6 1 0.4 5 0.7 1 0 3 0.4 2 0 3 0.6 2 0.1 8 0.4 1 0.1 13 0.3 6 -0.4 1 0.5 7 -0.4 2 0.2 5 -0.3 1 0.1 2 -0.4 2 0 2 -0.4 1 -0.6 4 -0.4 1 -1 5.3 -1.6 5.7 -1.3 3 -0.4 2 -3.7 8 -1 1.4 -3.7 6.6 -5.2 7 -0.5 1 -2.6 2.9 -3.9 5.1 -14.1 15.8 -10 9.2 -8.1 6 -10.9 7 -2 0.8 -3.7 2.2 -2.3 0.8 -1.9 1.2 -2.1 1 -1 0.1 -1.3 0.9 -1.7 0.5 -2.7 1.5 -1.3 0.2 -2 1 -2 0.6 -2 1 -2 0.7 -1 0.6 -4 1.2 -1 0.1 -2.3-1.4 -2.4-1 -12.3-3.4 -2-2 -1-0.4 -2-1.5 -2-2.6 0.4-2.1 0.8-1 1.8-1 2-0.3 3-1 13-1.4 2-0.6 3-0.3 10-2.5 7-2.4 8-3.2 10-5.2 11-7.5 5.7-4.6 3.3-3 18-17.8 9-10.3 4-5.6 3-5.2 0.4-2.1 1.6-2.7 0.8-2.3 1.1-2 3.5-12 0.2-2 0.5-1 0.2-2 0.6-2 0.5-5 0.4-1 0.5-7 0.5-1 0.3-5 0.1-12 -0.5-2 0-8 -0.4-1 0.1-4 -0.6-1 0-3 -0.3-3 -0.7-1 0-3 -0.3-1 -0.6-1 0-1 -0.4-1 -0.6-1 -0.1-2 -0.8-1.3 -0.5-1.7 0-1 -0.7-1 -1.1-3 -1.7-2.9 -0.6-2.1 -1.6-3 -1.2-3 -0.6-0.8 -0.4-1.2 -1.6-1.8 -0.6-2.2 -2-4 -1.5-2 -1.2-3 -0.7-0.9 -0.3-1.1 -1.7-2 -0.3-1 -0.7-1 -0.2-1 -1-1 -1.4-3 -6.4-9.3 -3-3.8 -1-0.8 -4-5.1 -4-4.3 -1-0.7 -4.2-4 -3.8-3.2 -9-6.3 -3-1.8 -2-1.6 -9.5-6.1 -7.7-4 -9.8-3.9 -10-3.4 -8-1.8 -5-0.7 -6-0.7 -8 0.2 -6 1.2 -5 1.6 -2 1 -3 1.9 -4 3 -5.2 5.6 -0.8 1.4 -1.3 1.6 -2.7 5 -1 1.1 -7.5 13.9 -6.4 14 -2.1 6.2 -0.5 2.8 -1.1 3 -0.3 2 -0.8 2 -0.1 1 -1.8 4 -0.9 4 -0.8 2 -0.7 5 -0.4 1 -0.6 4 -0.4 1 0 2 -0.5 2 -0.1 2 -0.4 1 -0.1 2 -0.4 2 -0.1 4 -0.5 2 -0.1 4 -0.5 2 -0.3 12 -0.4 3 0.3 2 -0.2 14 0.4 2 -0.1 6 0.5 1 0 4 0.2 1 0.2 9 -0.5 0.3 -0.2-0.3 0-3 -0.5-2 0-3 -0.6-1 -0.2-4 -0.7-2 -0.1-5 -0.5-2 -0.5-14 -0.4-1 -0.2-4 0.4-2 -0.3-13 0.3-1 -0.2-5 0.6-1 -0.2-5 0.5-1 0-2 0.4-2 -0.1-2 0.4-1 0.6-5 0.9-4 0-2 0.5-3 0.9-2 1-6 0.8-2 0.4-2 0.4-1 0.3-2 1.3-3 0.3-2 1.6-4 0.7-3 1.4-3.4 4.4-14.6 0.6-1 0.1-1 0.9-2 0.8-3 2.4-5 0.7-2 1.3-2 0.7-2 0.7-1 0.3-1 2.3-3 0.3-1 5-6 6.5-6.4 2-1.6 2-1 1-1 1-0.4 1-0.8 1-0.1 1-0.9 4-1.4 1-0.6zM341.2 406l0.8 1.3 3-4.1 3.2-3.2 7.8-5.7 4-2.1 3-0.8 1-0.5 7-1.3 11-0.2 2 0.4 2 0.1 8 1.5 2 0.9 2 0.3 5 1.9 7 3.8 1.8 0.7 4.2 2.4 1 0.2 4.5 2.4 2.5 1.8 5 2.4 1 1.3 1 0.6 2 0.6 0.4-0.7 -0.4-0.7 -1-0.6 -0.5-0.7 -1.5-1 -2-0.9 -1-1.3 -1-0.4 -1-0.9 -2-1 -2-1.6 -1-0.4 -1-0.9 -1-0.3 -1-0.8 -1-0.3 -2-1.5 -1-0.3 -1-1 -2-0.7 -2-1.2 -1-0.1 -1-1 -1 0 -1-0.7 -2-0.5 -2-1.6 -2-0.3 -1-0.7 -2-0.3 -1-0.7 -3-0.6 -2-0.7 -1 0 -1-0.7 -3-0.4 -2 0 -1-0.6 -9 0 -2 0.6 -3 0.4 -1 0.7 -2 0.3 -1 0.7 -3 1.2 -1 0.9 -1 0.1 -2 1.8 -2 0.9 -1 1.1 -2 1.3 -4.1 4.4 -1 2 -2.1 2 -0.4 1zM340.6 409l-0.6-0.3 -1.2 1.3 0.2 1 1.3-1zM338.7 412l-0.8 0 -0.4 1 0 1 -1.5 1.3 -0.2 0.7 0.2 1 1-0.5 1.2-2.5z"/>
<path fill="#adc638" d="M463 433.2l1.1 1.8 2.9 3.1 2 2.9 0.4 1 2 2 1.6 2.3 4.5 7.7 0.5 0.4 1.4 2.6 1 1 0.8 2 -0.2 1 1.1 1 0.9 1.9 0.2 1.1 1.2 1 0.6 1 0.3 2 -0.3 0.6 -0.6-1.6 -1.6-2 -0.3-1 -0.8-1 -0.7-1.6 -1-1.2 -0.6-1.2 -3.4-5.4 -6.5-8.6 -5-6 -4.5-4.8 -9-8.1 -12-9.2 -6-4 -3.8-2.9 0.8-0.2 1.2 0.2 0.8 0.5 1 0 1-0.3 2 2.2 1 0.1 0.3-0.5 -0.4-1 -0.9-0.3 -1-0.7 -1-0.3 -0.2-0.7 -0.6-1 -3.2-2.3 -1-0.3 -1-0.7 -1-1.3 -1-0.2 -5-3.6 -1-0.3 -1-1 -1-0.3 -1-0.8 -1-0.2 -2-1.5 -1-0.3 -1-1.1 -2-0.6 -2-1.3 -1 0 -1-1 -1 0 -1-0.7 -2-0.6 -2-1.4 -2-0.3 -1-0.7 -2-0.3 -1-0.7 -1-0.3 -1.5-0.2 -2.5-0.9 -1 0 -1-0.7 -1 0 -1-0.3 -3 0 -1-0.7 -9 0 -2 0.7 -3 0.3 -1 0.7 -2 0.4 -1 0.7 -3 1 -1 1 -1 0.1 -2 1.7 -2 1 -1 1.1 -1.5 0.9 -4.8 5 -0.7 1 -0.4 1 -4.7 5 0.2 1 -2.5 3 0.2 1 -1.8 2 -0.1 1 -1 1 -0.3 1 0.4 2.1 1.6-2.1 2.1-5 1-1 1-2 3.3-4.4 3.6-3.6 7.4-5.4 4-2.1 4.9-1.5 2.1-0.5 2-0.1 2-0.5 12-0.1 1 0.4 2 0 8 1.5 2 1 2 0.3 1 0.6 4 1.4 7 3.9 2.6 1.1 2.4 1.5 2 0.7 5.1 2.8 0.9 1 1 0.6 5 2.4 0.4 1 -0.4 0.9 -1-0.2 -6-3.3 -7-2.8 -7-2.4 -7-2 -9-1.9 -8-1 -4-0.2 -7 0.3 -6 1.1 -2 0.8 -2 0.5 -3 1.4 -6 4.1 -3.9 3.7 -2.6 3 -2.2 3 -2.3 4.3 -1.3 1.7 -2.7 5.3 -1.2 1.7 -3.1 6 -6.9 15 -1.9 6 -1.2 5 -0.5 1 -0.2 2 -0.8 2 -0.1 1 -0.7 1 -1.4 3 -0.8 4 -0.8 2 -0.7 5 -1.3 6 -0.7 6 -0.3 1 -0.1 2 -0.4 2 -0.2 4 -0.4 2 -0.1 4 -0.5 2 -0.2 12 -0.4 2 0 2 0.3 1 -0.2 14 0.3 2 0 6 0.4 1 0 4 0.3 1 -0.2 4.9 -0.4-0.9 0-3 -0.6-0.7 -0.3-1.3 0-3 -0.7-2 -0.1-5 -0.6-2 -0.5-14 -0.4-1 -0.2-4 0.4-2 -0.3-13 0.4-1 -0.1-5 0.5-1 -0.1-5 0.4-1 0-2 0.4-2 -0.1-2 0.5-1 0-2 1.4-7 0-2 0.6-3 0.8-2 1-6 0.8-2 0.2-1.5 0.7-1.5 0.2-2 1.3-3 0.4-2 1.4-3.7 0.8-3.3 1.2-3 4.5-15 0.6-1 0.1-1 0.9-2 0.8-3 0.7-1 0.1-1 1.6-3 0.7-2 1.4-2 0.6-2 0.7-1 0.3-1 1-1 1.4-2 0.3-1 5-6 6.3-6.2 2.2-1.8 1.8-0.8 1-1 1-0.4 1-0.9 1-0.1 1-0.9 4-1.3 1-0.7 1 0 2.7-0.9 1.3-0.1 1-0.3 10 0 1 0.3 3 0.1 1 0.6 3 0.4 3 1 1 0 1 0.6 2 0.4 1 0.6 2 0.4 6 2.9 1 0.1 1 0.9 1 0.1 2 1.4 2 0.6 1 0.9 6 3.1 1 0.9 7 4.1 1.2 1 1.8 0.9 5 3.8 1 0.4 3 2.5 1 0.4 3 2.9 3 2.2 4 3.4 8 7.9 2 1.5 0.6 1.1zM335 418.7l-0.7 1.3 -0.3 0.2 -0.4 1.8 -0.6 0.6 0 1 1-0.8 1-2 0.3-1.8zM486 469.9l0.2 1.1 -0.2 0.7 -0.3-0.7 0-1zM487 472.1l0.6 0.9 -0.6 0.9 -0.4-0.9zM488 474.1l0.5 0.9 -0.5 1 -0.2-1zM488.6 476l0.4 0 2 3.8 0.3 1.2 1.7 2 0.3 1 0.7 1 0.6 2 2.4 5 0.3 1 -0.3 1 -1-2 -0.3-1 -1.7-3 -1-3 -1-2 -1-1 -1-1.9 -0.3-1.1 -0.7-1zM498 494l0.3 1 -0.3 0.9 -0.5-0.9zM499 496.1l0.4 1.9 -0.4 0.8 -0.5-1.8zM500 499.2l0.4 1.8 -0.4 0.7 -0.2-1.7zM504 514.1l0.3 1.9 0.7 1 0.3 8 0.8 2 0 8 0.3 1 0.1 13 0.5 5 -0.5 2 0.5 7 -0.4 2 0.2 5 -0.3 1 0.1 2 -0.3 2 -0.1 2 -0.4 1 -0.5 4 -0.4 1 -1.3 6 -1.4 5 -1.3 3 -0.4 2 -1.6 3 -0.2 1 -1.9 4 -0.8 1 -1.5 3 -2.4 4 -5.8 8 -2.3 2.6 -4.1 5.4 -8.8 10 -5.1 5.6 -5.7 5.4 -4.3 3.8 -7 5.3 -6 4 -6.5 3.9 -1.5 0.5 -4.3 2.5 -1.7 0.4 -2.6 1.6 -2.4 0.8 -2 1.1 -6 2.1 -4 0.7 -4 0.2 -3-0.2 -2 0.1 -14-2.5 -3-1 -1.1-1.3 -1.9-1.1 -0.8-0.9 -0.4-1 0-1 0.5-1 4.7-2.1 1 0.1 1-0.4 11-1.5 2-0.6 3-0.3 10-2.5 2.4-0.7 2.6-1.2 2-0.5 8-3.2 4-1.9 2-1.4 4-2 9-5.8 8-6.2 7.5-6.8 9.5-9.2 4.6-4.8 6.4-7.4 4-5.6 1-1 4-7.1 0.9-2.9 1.2-2 1.1-3 1-2 0.1-1 1.9-6 0.1-1 0.5-1 0.8-3 0.2-2 0.5-1 0.2-2 0.6-2 0.4-5 0.5-1 0.5-7 0.5-1 0.4-5 0.1-12 -0.6-2 0-8 -0.3-1 0.1-4 -0.7-1 0-4 -0.3-1z"/>
<path fill="#c1c32d" d="M370.2 384l0.8-0.2 10 0 0.7 0.2 -0.7 0.2 -9 0.1 -1 0.1zM366.2 385l1.8-0.4 0.8 0.4 -0.8 0.3 -1 0zM389.2 386l0.8-0.4 1.7 0.4 -0.7 0.4zM411.2 400l1.4 1 0.4 0.5 1 0.5 -1 0.3 -11-2.8 -6-1.3 -6-0.9 -9-0.7 -8 0.5 -4 0.6 -3 0.8 -1 0.5 -2 0.4 -4 2 -3 2 -4 3.1 -4.8 5.5 -2.2 3 -2 3.6 -1.7 2.4 -3.2 6 -0.8 1 -3 6 -6.3 13.5 -2.2 7.5 -1.2 5 -0.5 1 -0.3 2 -1 3 -1.3 2 -0.9 2 -1.9 8 -0.7 5 -0.8 4 -0.1 2 -0.9 5 -0.1 2 -0.3 1 -0.3 5 -0.4 2 -0.1 4 -0.4 2 -0.3 12 -0.3 4 0.2 1 -0.1 15 0.3 1 0.1 11 0.5 1 0 4.3 -0.1-3.3 -0.5-1 -0.4-0.1 -0.2-0.9 0-3 -0.6-2 -0.2-5 -0.5-2 -0.5-14 -0.4-1 -0.2-4 0.4-2 -0.3-13 0.4-1 -0.1-5 0.5-1 -0.1-5 0.3-1 0-2 0.5-2 0-2 0.4-1 0-2 0.5-3 0.4-1 0.5-3 0-2 0.4-1 0.2-2 0.8-2 0-1 0.4-1 0.7-4 0.8-2 0-1 0.8-2 0.3-2 1.3-3 0.3-2 1.5-4 0.4-2 2.3-6.7 3.6-12.3 0.6-1 0.1-1 0.9-2 0.8-2.8 0.7-1.2 0.1-1 1.6-3 0.6-1.6 1.5-2.4 0.5-1.6 1.2-2.4 1-1 1.3-2 0.3-1 1.2-1.3 1-1.5 2.2-2.2 0.6-1 6.2-6.1 1-0.5 1.4-1.4 1.6-0.6 1-1 2-1.1 2-0.7 0.1-0.6 1.9-0.5 1 0.5 -3 1 -1 1.1 -1 0 -2.2 1.9 -1.8 0.7 -1.2 1.3 -1.8 1.2 -4.5 4.8 -1.1 2 -4.7 5 0.1 1 -2.3 3 0 1 -1.7 2 -0.1 1 -1 1 -0.2 1 0.1 1 -1 2 -0.8 1 -0.2 1 -0.9 2 0.3 1.3 1-0.8 1.3-2.5 1.1-3 1-1 0.6-1 1.6-4 5.4-8 3-3.1 5-3.9 1-0.5 2-1.6 5-2.5 2-0.3 1-0.5 2-0.4 1-0.4 2-0.1 2-0.5 11-0.1 2 0.5 2 0 4 1 4 0.6 2 1 2 0.3 1 0.6 3 0.9 3 1.7 1 0.3 4 2.8zM402.7 390l-0.7 0.6 -0.9-0.6 0.9-0.2zM403 391l1-0.4 0.7 0.4 -0.7 0.3zM409.5 394l0.5-0.4 1.5 0.4 -0.5 0.4 -1-0.1zM416.6 397l-0.6 0.6 -1-0.6 1-0.3zM418.6 398l-0.6 0.6 -0.9-0.6 0.9-0.2zM419.9 400l0.1-0.5 1 0.1 0.7 0.4 -0.7 0.4zM422 400.6l1 0.2 1.8 1.2 -0.8 0.5 -2-1.4zM425 402.5l1 0.1 0.7 0.4 0.3 0.7 0.5 0.3 -0.5 0.1 -1-0.3 -1.2-0.8zM428 404.3l1.8 0.7 1.1 1 -0.9 0.3 -1-0.2 -1.3-1.1zM431 406.1l6 3.9 2 1.8 1 0.4 2 2 2 1.4 6 5.1 3.4 3.3 1.6 1.9 1.4 1.1 1.6 1.8 1.7 1.2 0.6 1 2.7 2.6 1 1.7 3 3.2 2.1 3.5 2 2 3.3 5 0.8 2 1 1 0.2 1 -0.4 0.7 -8-10.3 -6-6.7 -7-6.9 -8-6.8 -5.1-4 -0.9-1 -1-2.3 -1 0.6 -0.6-0.3 0.6-2 -1-0.5 -1-1.9 -1-0.1 -1.8-1.5 -0.7-1 -2.9-2zM477 454.1l1.1 0.9 0.2 1 -0.3 0.7 -1.2-1.7zM479 457.2l1.1 0.8 0.2 1 -0.3 0.8 -1.2-1.8zM506 535.4l0.2 0.6 0.1 14 0.4 4 -0.4 2 0.5 7 -0.4 2 0.2 5 -0.3 1 0.1 2 -0.3 2 0 2 -0.4 1 -0.6 4 -0.4 1 -1.2 6 -1.4 5 -1.4 3 -0.4 2 -1.6 3 -0.2 1 -1.9 4 -0.9 1 -1.4 3 -0.8 1 -1.5 2.7 -6 8.3 -6.3 8 -3.4 4 -10.9 12 -7.4 6.9 -5 4 -7 5.1 -10 6 -2 0.8 -2 1.2 -3 1.1 -3.8 1.9 -1.2 0.2 -2 0.9 -4 1 -10 1.1 -3-0.3 -2 0.4 -8-1.3 -6-1.3 -2-0.7 -1-0.6 -1.1-2.4 0.1-1 0.8-1 1.2-0.7 1 0 1-0.6 16-2.8 12-3 3-1.3 2-0.5 8-3.3 4-1.9 2-1.4 5-2.5 9-6 7.7-6 11.3-10.3 10-10.1 7-8.4 0.7-1.2 1.3-1.4 1.5-2.6 1.5-1.7 3.8-7.3 0.4-2 1.2-2 1-3 1-2 2.1-8 0.6-1 0.9-5 0.6-1 0.1-2 0.7-2 0.3-5 0.5-1 0.5-7 0.6-1 0.4-4 0.1-13 -0.2-1z"/>
<path fill="#d3bf27" d="M370.7 384l10.5 0 -10.2 0.2zM353.7 391l1.3-0.4 0.5 0.4 -0.5 0.3 -1 0.1zM402.6 396l2.4 1.7 1 0.3 0 1 -1 0 -1-0.4 -11-1.8 -6-0.5 -6-0.2 -8 0.5 -2 0.5 -2 0.2 -7 2.2 -3 1.5 -7 4.9 -2.9 3.1 -4.6 6 -7.7 13 -6 12 -2.8 6.5 -0.4 1.5 -0.5 1 -0.3 2 -2.3 9 -0.6 1 -0.3 2 -1.2 3 -0.4 0.6 -0.7 0.4 -1.1 3 -1.8 8 -1.9 12 -0.7 6 -0.3 1 -0.2 5 -0.3 1 -0.3 5 -0.3 2 -0.2 12 -0.4 2 0 2 0.3 1 0.1 22 -0.2 5.2 -0.1-4.2 -0.4-1 -0.1-5 -0.4-0.4 -0.4-1.6 -0.4-14 -0.5-1 -0.2-4 0.4-2 -0.3-13 0.4-1 0-5 0.4-1 0-5 0.3-1 0-2 0.5-2 0-2 0.4-1 0-2 1.3-7 0.1-2 0.4-1 0.2-2 0.8-2 0-1 0.9-3 0.2-2 0.8-2 0.1-1 0.8-2 0.2-2 1-2 0.3-2 1.9-5 0.6-3 1.2-4 0.6-1.2 0.4-1.8 3.3-11 0.6-1 0.1-1 0.9-2 0.7-2.4 0.9-1.6 0.1-1 2.4-5 1.2-2 1.8-4 0.9-1 1.7-3 2-2.6 2.4-2.4 0.6-1 2-1.9 0.2 0.9 -1.2 1.3 -0.9 1.7 -4.1 4.3 -0.4 0.7 -0.1 1 -2.2 3 0 1 -1.7 2 -0.2 1 -0.8 1 -0.3 2 -0.9 2 -0.9 1 0 1 -1 2 0.5 2 1.1-1 2.7-6 1-1 0.5-1 1.6-4 5.5-8 3-3 4.6-3.6 2-1.2 1-0.9 4.4-2.3 2.6-0.6 2-0.8 6-1 11-0.1 2 0.5 2 0 4 1 1 0 3 0.6 2 1.1 2 0.3 1 0.7 1.4 0.3zM434 408.7l2 0.8 0.7 0.5 0.3 0.7 0.5 0.3 -1.5 0.2 -1.5-1.2 -0.7-1zM438 411.3l2 1.1 2 2 2 1.4 5 4.5 1 0.6 3.2 3.1 1.8 2.5 1 0.5 1.6 2 1.7 1 3.7 4 0.4 1 0.6 0.9 3 3 0.3 1.1 0.9 1 0 1 -0.2 0.3 -5.9-6.3 -5.1-5.1 -12.2-10.9 -1.8-1.2 -2-3.1 -2.8-2.7 -0.6-1zM469.3 444l0.7-0.4 1 0.9 1.5 2.5 -0.5 0.6zM473 447.9l1.1 1.1 -0.1 1.1 -1-1.1 -0.2-1zM506 545.4l0.3 8.6 -0.1 2 0.4 7 -0.4 1 0.3 5 -0.4 2 0.1 2 -0.3 2 0 2 -0.4 1 -0.6 4 -0.8 3 -0.8 4 -0.7 2 -0.7 3 -1.4 3 -0.4 2 -1.6 3 -0.2 1 -1.9 4 -0.9 1 -1.4 3 -8.3 12 -6.2 8 -11.6 13 -2.8 3 -7.2 6.7 -10.8 8.3 -10.2 6.1 -3 1.3 -3 1.6 -2 0.5 -3 1.4 -2 0.4 -3 1.1 -3 0.4 -10 1.2 -3-0.1 -2 0.2 -8-1.4 -5-1.6 -1-0.1 -1-0.5 -0.5-0.5 -0.2-1 0.4-1 1.3-0.9 1-0.1 5-1.4 5-0.9 2-0.6 6-1.1 9-2.4 13-5.2 11-5.8 9-5.9 8-6.3 11.5-10.4 9.8-10 6.7-8 1.2-2 1-1 1.1-2 1.7-2 4-7.7 0.5-2.3 1.2-2 1-3 1-2 2.1-8 0.5-1 1-5 0.5-1 0.1-2 0.7-2 0.3-5 0.6-1 0.4-7 0.7-1z"/>
<path fill="#e3bc2c" d="M398 395l0.2 1 -1.2 0.2 -2-0.4 -10-0.5 -5 0.1 -7 0.7 -4 0.7 -6 1.7 -4 2 -7 4.9 -5.1 5.6 -2.3 3 -4.3 7 -4 7 -6 12 -2.3 5.5 -0.6 2.5 -0.5 1 -0.2 2 -0.7 2 -0.8 4 -0.9 3 -0.5 1 -0.3 2 -1.5 3.1 -1 0 -0.4 0.9 -2.5 11 -1.5 9 -1.3 10 -0.2 5 -0.4 1 -0.4 6 -0.3 13 -0.4 2 0 2 0.3 1 -0.2 15 0.4 1 -0.1 6.5 -0.2-0.5 0-5 -0.8-0.8 -0.3-1.2 -0.3-14 -0.6-1 -0.2-4 0.5-2 -0.3-13 0.5-1 -0.1-5 0.4-1 -0.1-5 0.4-1 0-2 0.5-2 0-2 0.4-1 -0.1-2 0.6-3 0.4-1 0-1 0.5-2 0-2 0.4-1 0.2-2 0.6-1 0.7-4 0.5-1 0.2-2 0.8-2 0-1 1-2 0.1-2 1.1-2 0.2-2 0.9-2 0.9-3 0.3-2 1.4-5 0.6-1 0.3-2 1.7-5 1.7-6 0.6-1 0.1-1 0.9-2 0.6-2.1 1-1.9 1-2.9 1-2 0.3-0.1 0.3-1 0.4-0.7 0.4 0.7 -0.3 2 -0.7 1 -0.3 1 -0.9 1 0.1 1 -0.7 1 -0.3 1 0.3 1 -0.1 1 0.5 0.6 1-0.8 1.6-2.8 1.4-3.6 1.2-1.4 2.1-5 5.6-8 2.9-3 3.2-2.3 1-0.9 2-1.1 1-1 5-2.6 2-0.3 2-0.9 4-0.4 2-0.6 11 0 1 0.1 1 0.6 2-0.1 3 0.7 1 0.5 1 0 3 0.6 2 1.4 1-0.1zM345 399.3l0.4 0.7 -0.4 0.8 -2.3 2.2 -0.6 1 -0.6 0 0.5-1.4zM340 405.3l0.4 0.7 -0.1 1 -2.2 3 -0.1 1 -1 1.2 -0.7-0.2 0.2-1 0.5-0.8 0.4-0.2 0.2-1 1.7-2zM435 409.6l1.4 0.4 -0.4 0.8 -1.2-0.8zM336 412.2l0.4 0.8 -0.4 1.1 -0.4-0.1zM439 412.3l1 0.3 2.4 2.4 1.6 1 8.8 8 1.3 2 0.2 1 -0.3 0 -2-1.2 -6-5.5 -0.9-1.3 -1.1-0.4 -1-0.8 -2-2.6 -2.5-2.2zM455 427.4l1 0.5 0 0.6 -1.2-0.5zM457.5 430l0.5-0.1 1 0.5 0.4 0.6 -0.4 0.7 -1.1-0.7zM460.4 433l0.6-0.3 1.3 1.3 0.5 1 -0.8 0.1 -1.1-1.1zM506 556.7l0.3 6.3 -0.3 1 0.2 5 -0.3 2 0.1 2 -0.3 1 -0.1 3 -0.3 1 0 1 -1 5 -0.5 1 -0.7 4 -0.8 2 -0.7 3 -1.3 3 -0.3 1.8 -1.7 3.2 -0.2 1 -1.6 3 -0.3 1 -1 1 -1.4 3 -8.2 12 -6.2 8 -13.4 15 -10 9.2 -9 6.7 -6.8 4.1 -3.9 2 -4.3 1.9 -3 0.9 -3 1.2 -2 0.3 -3 1 -3 0.5 -10 1.2 -3-0.1 -2 0.2 -2-0.3 -6-1.4 -2.9-1.4 -0.6-1 0.6-1 1.9-1 7-1.6 1-0.5 6-1.2 9-2.5 11-4.3 7-3.3 2-1.4 4-2 11-7.5 3-2.5 3-2.2 12.1-11 1.8-2 3.2-3 1.6-2 3.2-3 6.4-8 2.2-3 1.2-2 1.6-2 3.7-7 0.4-2 1.6-3 1-3 0.9-2 2.1-8 0.5-1 1-5 0.5-1 0.1-2 0.5-1 0.4-5.2 0.7-1.8 0.3-5.9z"/>
<path fill="#f1ba37" d="M386 392.4l0.8 0.6 -0.2 1 -7.6 0.5 -7 0.9 -6 1.6 -3 1 -5 2.5 -3 2 -3.2 2.5 -3.9 4 -4.6 6 -6.1 10 -5.3 10 -1.9 4.1 -2 5.4 -1.2 4.5 -0.2 2 -0.6 1.4 -1 4.6 -0.8 3 -0.6 1 -0.3 2 -1.3 2.1 -1-0.4 -0.7 1.3 -1.7 7 -2.3 14 -1.8 16 -1.1 21 -0.1 18 -0.3 0.7 -0.3-14.7 -0.7-0.9 -0.2-1.1 0-3 0.5-1 0.1-1 -0.4-13 0.5-1 -0.1-5 0.4-1 -0.1-5 0.5-1 -0.1-2 0.5-2 0-2 0.4-1 -0.1-2 1-4 0.1-1.5 0.5-1.5 0-2 0.4-1 0.1-1.8 0.7-1.2 0.2-2 0.6-1 0.5-3.9 0.8-1.1 0.1-2 1-2 0.1-2 0.7-1 0.7-2 -0.1-1 1.7-5 0.2-2 1.4-5 0.6-1 0.3-2 1.7-5 1.7-6 0.6-1 0.5-2 1-2.3 0.5-0.7 0.1-1 0.4-0.7 0.4 0.7 -0.3 1 0.3 1 -0.4 1 0.7 1 -0.7 0.5 -0.3 0.5 -0.2 1 0.5 1 0.7-1 0.6-2 1.3-1 1.9-4 0.5-1.9 1.7-2.1 2-5 1-1 1-2 0.9-1 0.5-1 1.9-2.6 3-3.1 4.3-3.3 1.7-0.8 1.2-1.2 4.8-2.5 2-0.2 2-0.9 1 0 1-0.4 3-0.2 1-0.4 11 0.2 1.5 0.4 0.5 0.4zM337 410.5l0.6 0.5 -0.6 1 -0.3-1zM439 412.8l1 0 1.2 1.2 -0.2 0.6 -2.2-1.6zM441.5 415l0.5-0.1 1.7 1.1 1.3 1.4 2 1.4 2 2.2 -1 0.3 -1.6-1.3 -0.7-1 -2.7-1.8 -1-1.1zM334 416.4l0.8 0.6 -0.7 1 -0.3 1 -0.8 0.9 -0.2-0.9 0.2-0.6 0.8-0.4zM449.2 422l0.8-0.2 2.3 2.2 0.8 1 -0.1 0.3 -1-0.1 -2.3-2.2zM506 561.1l0.1 1.9 -0.6 1 0.5 3.9 0 2.1 -0.4 1 0.1 2 -0.3 1 0 3 -0.2 2 -0.6 2 -0.5 3 -0.5 1 -0.7 4 -0.8 2 -0.1 1 -1.6 4 -0.4 2.2 -1.9 3.8 -0.2 1 -1.7 3 -0.3 1 -1 1 -1.5 3 -1.8 3 -6.2 9 -1.8 2 -4.4 6 -7.2 8.3 -6 6.4 -6 5.7 -4.1 3.6 -8.9 6.5 -5 2.7 -2.7 1.8 -7.3 3.2 -4 1.1 -2 0.9 -2 0.2 -4 1.2 -10 1.2 -1 0 -1 0.3 -4-0.2 -1 0.2 -2-0.4 -2.4-0.7 -2-1 -0.7-1 0.7-1 2-1 3.4-1.2 6-1.3 10-2.8 10-4.1 7-3.4 2-1.5 5-2.7 11-7.5 2-1.9 3.6-2.6 12-11 1.4-1.7 8-8 5.1-6.3 6.5-9 1.7-3 0.3-1 1.7-3 0.4-2 1.6-3 0.7-2.3 1.2-2.7 0.6-3 2.7-9 0.3-2 0.5-1 0.2-2 0.4-1 1.1-8.3z"/>
<path fill="#fcbc3d" d="M376.4 393l-2.8 1 -5.6 1.4 -6 2.1 -4 2.1 -3 2 -4 3.1 -2.3 2.3 -4.3 5 -4.4 5.9 -0.2-0.9 0.1-1 0.5-1 0.6-2.4 1.4-1.6 0.6-1.6 1.3-1.4 0.4-1 0.9-1 0.4-1 3-3 8-5.9 4-2.1 2-0.1 2-1 3-0.4 2 0.2 1-0.6zM339 418.3l0.4 0.7 -0.4 1.1 -1 1.3 -0.4-0.4 -0.1-1 0.5-1.2zM332 423.1l0.3 0.9 -0.5 1 0.2 1 -1 2 0.4 1 -0.4 0.6 -0.2 1.4 0.2 0.8 1-0.6 0.1 0.8 -1 2 -2.1 6.1 -0.6 2.9 -1.1 3 -0.6 3 -0.2 2 -0.6 1 -1.8 8 -0.6 1 -0.5 2.2 -0.9-0.2 -0.8-1 -0.7-2 1.3-4 -0.1-1 1.3-5 0.2-2 0.7-2 0.7-3 0.6-1 0.3-2 0.5-1 0.7-3 0.6-1 1.6-6 0.6-1 0.4-1.8 1-2.1zM335 425.9l0.1 1.1 -1.1 1.1 -0.2-1.1 0.2-0.6zM319 465.8l0.3 1.2 -0.3 0.9 -0.4-0.9zM318 468.8l0.6 0.2 -0.5 1 0.2 1 -0.3 1.6 -0.4-1.6 0.4-1zM317 473.3l0.9 0.7 -0.9 5.4 -0.3 0.6 0 1 -2 16 -1 12 -0.7 24.6 -0.1-5.6 -0.4-1 -0.5-0.6 -0.1-3.4 0.8-1 -0.5-13 0.1-1 0.5-1 -0.2-4 0.4-2 -0.1-5 0.6-1 -0.1-2 0.4-1 0-3 0.6-1 -0.1-2 0.4-1 0.1-2 0.7-1 -0.1-1 0.4-1 0-3 0.6-1 -0.1-1zM505 563.8l0.5 5.2 -0.3 2 0.2 2 -0.3 1 0.1 3 -0.3 1 0 1 -0.5 1 -0.4 3.3 -0.7 1.7 -0.3 2.3 -0.8 2.7 -0.5 1 -0.4 2 -1.6 4 -0.1 1 -4.2 9 -0.9 1 -1.4 3 -1.5 2 -0.3 1 -0.9 1 -0.4 1 -3.7 5 -1.1 2 -2.7 3 -0.3 1 -1.9 2 -1.2 2 -10.1 11.3 -9 8.9 -7 5.8 -1 0.5 -5 3.7 -5 2.5 -2 1.4 -6 2.6 -3 1.1 -3 0.7 -2 0.8 -8 1.7 -4 0.2 -7 0.9 -3-0.5 -1 0.3 -2.6-0.9 -0.8-1 0.6-1 1.9-1 1.9-0.7 2-0.2 12-3.6 3-1.4 2-0.6 2-1.2 3-1.1 7-3.5 2.4-1.7 4.6-2.4 7-4.9 1-0.5 9-7 12.2-11.2 0.6-1 4.2-4 1-1.4 5.4-5.6 0.6-1 2.5-3 2.5-3.5 1.3-1.5 0.7-1.5 1.3-1.5 2.3-4 0.2-1 1.8-3 0.3-2 1.7-3 0.4-1.5 1.6-3.5 0.5-3 1.4-4 0.6-3 0.5-1 0.4-2.9 0.7-1.1 0.1-2 0.6-1z"/>
<path fill="#fec437" d="M362.3 395l-0.1 1 -1.2 0.4 -3 1.7 -1 0.3 -0.3-0.4 0.6-1 1.7-0.6 2.3-1.4zM355.4 399l-0.4 1 -1 0.4 -0.3-0.4 0.3-0.5 0.9-0.5zM353.2 401l-6.2 5.7 -0.2-0.7 0.2-0.5 3-3.2 1-0.3 1-1.1zM331 424.4l0.6 0.6 0 1 -0.8 2 0.1 1 -0.6 2 0.4 1 -0.7 2.3 -0.5 3.7 -0.5 1.1 -1.4 5.9 -0.5 1 -0.7 5 -0.6 1 -0.3 2 -0.4 1 -1.1 4.9 -0.6 1.1 -0.4 1.8 -0.8-0.8 -0.6-1 -0.1-1 0.5-1 0.2-5 0.5-1 0.6-3 0.1-2 0.8-2 0.6-3 0.6-1 0.3-2 0.6-1 1.7-6.5 1.7-4.5 0.3-1.5 0.6-0.5zM315 485.3l0.4 0.7 -0.4 2 0 2.6 -0.6-0.6 0.1-1 0.5-1 -0.2-2zM314 492.2l0.6 0.8 -0.3 2 -0.3 6 -0.7-4 0.6-2 -0.1-2zM313 501.6l0.7 0.4 0.1 1 -0.8 3.2 -0.2-3.2zM313 507.2l0.3 0.8 -0.3 10.6 -0.4-9.6zM313 522.5l0 3.7 -0.4-3.2zM505 572.6l0 0.5 -0.8 0.9 0.5 2 -0.1 1 -0.5 1 -0.1 4 -0.8 1 -0.2 3.2 -0.8 0.8 -0.2 2.8 -0.9 1.2 -0.1 2 -0.9 1 -0.1 1.2 -0.8 0.8 -0.1 2 -0.9 1 -0.2 1.3 -0.7 0.7 -0.3 1.5 -0.5 0.5 -0.5 1.9 -0.9 1.1 -1.1 2.2 -0.8 0.8 -0.1 1 -0.9 1 -0.1 1 -1 1 -0.1 1 -1.9 2 -0.1 1.1 -1.9 1.9 -0.1 1 -1.9 2 -0.1 1 -2.9 3 -0.1 1 -4.8 5 -0.2 1 -5.8 6 -0.2 0.9 -9 9.1 -1 0.7 -1 1.3 -1 0.2 -3.9 3.8 -1.1 0.2 -1.8 1.8 -1.2 0.4 -1.7 1.6 -1.3 0.4 -1.8 1.6 -1.2 0.4 -0.6 0.6 -1.4 0.2 -0.9 0.8 -1.1 0.3 -2.2 1.7 -1.8 0.3 -0.7 0.7 -1.3 0.2 -1 0.8 -2 0.3 -1 0.8 -3 0.2 -1 0.8 -4 0.5 -1 0.6 -3 0.2 -2 0.6 -1-0.2 -1 0.4 -4-0.1 -1 0.3 -2-0.2 -1 0.2 -1.8-0.4 -0.1-1 5.4-2 2.5-0.6 0.5-0.4 2.5-0.5 0.5-0.5 1.5-0.3 0.9-0.7 1.1-0.2 1-0.8 2-0.3 0.7-0.7 1.3-0.6 0.4-0.4 1.6-0.5 0.5-0.5 1.5-0.2 0.8-0.8 1.2-0.2 0.8-0.8 1.2-0.3 0.7-0.7 1.3-0.2 2-1.9 1-0.2 0.7-0.7 1.3-0.5 0.5-0.5 1.5-0.3 1.8-1.7 1.2-0.4 1.7-1.6 2.3-1.4 2-1.6 2-1.1 2.9-2.9 1.4-1 0.7-0.2 6.9-6.8 1.1-0.2 10.8-10.8 0.2-0.9 1-1.1 2.5-2 0.5-1.1 3.7-3.9 0.3-1 2.9-3 0-1 2-2 0.1-0.9 2.8-3.1 0.2-1.1 0.9-0.9 0.1-1.3 0.7-0.7 0.3-1.2 0.8-0.8 0.2-1.4 0.6-0.6 0.4-2.2 0.8-0.8 0.2-1.4 0.6-0.6 0.4-2.1 0.9-0.9 0-2 0.9-1 0.2-3 0.9-1 0.1-2.2 0.8-0.8 0.2-2.3 0.5-0.7 0.5-2.6z"/>
<path fill="#fdce31" d="M330 426.8l0.4 0.2 0.1 3 -0.6 1 0.5 1 -0.5 1 -0.2 3 -0.5 1 -0.1 1 -0.9 3 -0.8 4 -0.6 1 -0.6 5 -0.6 1 -0.2 2 -0.5 1 -0.9 4.4 -0.5 0.6 -0.5 2.1 -0.8-1.1 0.3-5 -0.1-2 0.5-1 0.6-3 0.1-2 0.5-1 0.8-4 0.7-1 0.2-2 0.6-1 0.3-2 0.9-2 0.4-2.1 1.6-3.9z"/>
<path fill="#f9d72c" d="M330 427.3l0.3 0.7 -0.2 1 0.3 1 -0.7 1 0.4 1 -0.5 1 -0.3 2 0.2 1 -0.7 1 -0.3 3 -0.6 1 -0.6 4 -0.7 1 -0.5 5 -0.7 1 -0.1 2 -0.7 1 -0.6 3.8 -1 1.2 -0.5-1 -0.1-1 0.3-2 -0.1-2 0.6-1 0.5-5 0.7-1 0.6-4 0.7-1 0.2-2 0.7-1 0.4-2.6 0.4-0.4 1.6-5.6 0.9-1.4z"/>
<path fill="#f6e128" d="M329 430.6l0.4 0.4 0.3 1 -0.7 3 0.2 1 -0.7 1 -0.2 3 -0.8 1 -0.4 4 -0.7 1 -0.4 4.8 -0.7 1.2 -0.1 2 -0.8 1 -0.4 3 -1 1.4 -0.4-1.4 0.4-2 -0.3-2 0.8-1 0.3-5 0.8-1 0.4-2.9 0.8-2.1 0.2-2 0.8-1 0.1-2 0.7-1z"/>
<path fill="#f5ea23" d="M329 430.9l0.2 1.1 -0.2 2.3 -0.3-0.3zM328 434.7l1 1.3 -0.8 1 -0.1 3 -0.9 1 -0.2 3.7 -0.9 1.3 -0.1 3.3 -0.5 0.7 -0.4 2 0 2 -1 1 -0.1 2.4 -1 1.4 -0.1-1.8 0.7-1 -0.6-1 -0.1-1 0.9-1 0.1-5 1-1 0.1-2.3 0.7-0.7 0.3-3.4 0.6-0.6 0.3-1 0.1-2 0.9-1z"/>
<path fill="#02bac3" d="M363.5 383l0.5-0.5 1 0.1 1.4 0.4 -2.4 0.5zM363.1 384l-1.1 0.2 -1.2 0.8 -1.8 0.5 -0.6 0.5 -1.4 0.5 -3 2.4 -1 0.2 -2 1.9 -1 0.4 -6.6 6.6 -0.4 0.8 -4 4.6 -0.4-0.4 -0.1-1 2-2 0-1 4-4 0-1 3.5-3.5 1 0 2-2 1 0 2-2 1 0 1-1 1 0 1-1 2 0.2 1-1.2 1 0.1zM374 399.8l6-0.1 4 0.6 7 1.4 2 0.8 2 0.4 1 0.4 3 0.8 15 6.4 10 5 2 1.4 9 4.5 2 1.5 3 1.3 3 1.8 1 0.8 2 1 1 0.8 2 1 2.8 2.4 1.2 0.7 5 4.4 4.1 3.9 4 5 3.9 4.2 7 9.8 1 2.4 1.3 1.6 1.6 3 1.1 1.3 6 11.5 0.9 2.2 2.1 3.1 1.6 3.9 1.6 3 0.2 1 2.6 4.9 1 2.9 0.5 2.2 1 2 -0.1 1 0.9 2 1.1 4 0 2 0.9 4 0 3 0.5 2 -0.1 3 0.5 2 0 8 0.3 1 -0.2 12 -0.3 4 -1 1.1 -1-1 -1.2-3.1 -0.6-8 -0.7-5 -1.5-8 -1-4 -2-6.2 -2-4.9 -2-3.7 -1-1.2 -12.3-8 -5-3 -6.7-3 -5-1.9 -5-1.6 -5-1.1 -6-0.7 -6 0.2 -5.3 1.1 -4.7 1.9 -1.6 1.1 -3.4 3.3 -3.4 2.7 -10.6 7.2 -4 3 -4 3.4 -4 4.1 -4 5.1 -3.2 5.2 -2.8 6 -2.4 7 -1.2 5 -1 5 -2.7 21 -0.9 4 -2.4 8 -1.8 9 -2 18 -1.6 9 -1.6 4 -4.7 9 -2.2 9 -1.4 4 -2.7 6 -0.5 2 0 3 0.5 3 1.9 5 2.1 4 6.6 8.9 4.9 5.1 5.6 4 4.5 2.2 7 1.8 3 0.2 2-0.1 2-0.8 6-3.1 2-1.6 3-1.4 2-1.4 2-0.8 1-0.8 1.3-0.2 9.7-4.8 1 0 3.4-2.2 1.6-0.6 3-1.7 1-0.8 1-0.2 1.4-0.7 10.6-7 9-6.7 10.7-9.3 11.7-12 2.4-3 0.5-1 1.7-1.8 4-5.2 6.1-9 3.9-6.9 3.9-9.1 3.3-10 0.7-4 0.6-2 0.2-2 0.5-1 0-1 0.5-2 0.1-2 0.4-1 0-3 0.4-2 -0.1-4 0.4-1 -0.6-8 0.2-1 -0.4-6 -0.1-13 -0.4-2 -0.2-8 -0.4-1 -0.5-8 -1-4 0-2 -1-3 0-1 -0.9-2 0-1 -0.9-2 -0.1-1 -0.7-1 0.1-1 -0.3-1 -0.7-1 -0.4-2 -1.6-2.7 -0.2-1.3 -1.8-3.3 -0.4-1.7 0.4-0.7 3 5.3 0.8-0.6 -0.7-2 -0.1-2.5 1-0.8 1.2 0.3 0.8 1.7 1.7 2.3 0.1 1 1 1 0.1 1 0.8 1 0.4 2 0.6 1 1.3 4.2 0.8 1.8 1.2 5.5 0.7 1.5 0.4 4 0.6 2 0.6 3 0 2 0.5 2 0 4 0.5 2 0 5 0.5 2 0 30 -0.5 2 0 4 -0.4 1 -0.1 3 -0.5 2 0 2 -0.4 1 -0.6 4 -1.3 5.1 -0.3 1.9 -0.7 1.5 -0.2 1.5 -0.8 1.7 -1 3.3 -3.1 8 -0.9 1.1 -0.5 1.9 -1.8 3 -1.2 3 -10 15 -4.5 5 -0.4 1 -2.6 2.7 -1 1.3 -8 8 -1.3 1 -2.7 2.6 -1 0.4 -3 2.9 -2 1.6 -1 0.5 -4 3.5 -9 6 -1 0.4 -1 0.1 -8 5.3 -3 1.1 -1 0.2 -1 0.4 -1 0.8 -2 0.8 -1 0.2 -2.3 1.2 -1.7 1.3 -1-0.2 -2 1.2 -2 0.7 -2 1.4 -1.8 0.6 -1.2 1 -1 0.4 -1 0 -1 0.9 -1 0.5 -1.5 0.2 -1.5 1.4 -1 0.4 -1.4 0.2 -0.6 0.5 -1.2 1.5 0.2 0.2 2-0.4 10-3.8 11-4.9 3-1.1 3 0 -0.4 1 -0.6 0.6 -1 0 -9 9.3 -1 0 -9 9.1 -1 0 -5 5 -1 0 -4 4 -1 0 -3 3 -1 0 -1 1 -1 0 -2 2 -1 0 -1 1 -1 0 -2 2 -2 0 -1 1 -1 0 -1 1 -1 0 -1 1 -1 0 -1 1 -7 0 -1-1 -1 0 -1-1 -1 0 -1-1 -1 0 -1-1 -1 0 -7-7 0-1 -2-2 0-1 -1-1 0-1 -1-1 0-2 -1-1 0-1 -1-1 0-1 -1-1 -2.3-4 -1.7-2 -0.4-1 -5.2-8 -0.3-1 -0.7-1 -2.4-4.9 -1.8-3.1 -1.6-4 -1.7-3 -0.9-2.7 -0.8-1.3 -1.2-3.6 -1.6-3.4 -2.4-7.6 -0.8-1.4 -2-6 -3-10 -0.2-1.8 -0.8-2.2 -1.2-5.9 -1.5-5.1 -0.5-3.9 -1.5-6.1 -0.5-3.5 -0.5-1.5 0-1 -1.9-10 -0.5-5 -0.6-2 -0.4-3 0-2 -0.6-2 0.7-2 0.8-0.8 2-0.7 1-1.6 0.2 1.1 -0.4 1 1.2 1.2 1.1 2.8 -0.1 2 0.6 3 0.5 1 0 1 0.7 3 0.4 1 -0.1 1 0.6 1 -0.2 1 0.8 1 -0.2 2 1.4 2 -0.3 1 0.8 1 0.2-1 -0.3-3 -0.7-2 -0.1-2 -0.5-1 -0.4-2 0.3-2 -0.1-3 -0.5-1 0-1 -0.4-1 0-3 -0.5-1 0.1-1 -0.4-1 -0.2-3 -0.3-1 0-2 -0.5-2 0.1-3 -0.4-1 0-4 -0.5-1 0-4 -0.4-2 0.1-5 -0.4-2 0.4-14 -0.4-2 0-1 0.5-1 0.4-13 0.6-2 0.1-4 0.6-2 0.1-4 0.5-2 0.2-2 0.4-1 0.1-2 0.5-2 0.2-2 1.4-6 0-2 0.8-3 0.8-2 0.1-1 1.3-5 0.8-2 0-1 0.9-2 0.3-2 1.1-2 0.3-2 1.8-4 0.8-3 7-15 3.1-6 0.8-1 3-6 0.9-1 2.6-5 3.8-5 3-3.1 4-2.9 3.3-2 2.1-1 2.6-0.6 1-0.5zM321 596.1l-0.3 1.9 0.3 0.4 0.5-0.4zM338 403.5l0.4 0.5 -0.4 1 -0.5-1zM312 550.8l0 4.5 -0.4-0.3 0.1-4zM313 560.6l0.1 3.4 0.4 2 -0.5 0.5 -0.5-0.5 0.1-5z"/>
<path fill="#04b6cd" d="M374.3 400l5.7 0 11 2 2 0.8 6 1.6 15 6.4 10 5 2 1.4 9 4.6 2 1.4 3 1.4 4 2.5 2 1 1 0.8 2 1 2.3 2.1 1.7 1 9 8.3 4 5 4 4.2 6.8 9.5 1.2 2.8 1.1 1.2 1.5 3 1.4 1.7 5 9.6 1.6 3.7 1.6 2 0.8 1.6 1.4 3.4 3.6 7.4 1.4 3.6 0.9 3 0.7 1.2 0.4 2.8 0.6 1 0.4 2 0.8 2 -0.1 2 0.5 3 0.5 1 0 3 0.3 2 -0.1 3 0.7 2 -0.7 8 0.7 0.8 0.1 1.2 -0.1 3.1 -1-0.1 -0.7-5 -1.3-7 -3-11.1 -2-5.7 -2-4.8 -5-9.7 -5-7.7 -6-7.4 -7-7 -2-1.6 -3-1.9 -20-1.6 -8-0.2 -9 0.5 -9 1.6 -8 2.6 -7.6 3 -4.4 2.2 -4 2.5 -4 2.9 -3.8 3.4 -3 3 -3.4 4 -2.9 4 -3.2 5 -3.4 6 -2.9 6 -3.9 9 -5.5 14.5 -2.9 9.5 -2.3 12 -1.4 12 -0.8 16 -1.7 7 -2.9 8.1 -0.3 1.9 0.3 3 1.9 7 7.6 23 0.1 2 -1.6 6.7 -0.1 2.3 0.2 3 1.9 6.3 5 9.8 5.2 6.9 4.8 5.3 6 4.5 6 2.9 7 1.7 3 0.2 2-0.2 1-0.4 7-3.5 2-1.7 2-0.8 3-2 2-0.8 1-0.9 1.6-0.3 9.4-4.6 1-0.1 1-0.8 5-2.5 3-1.9 1-0.3 2-1 10-6.7 11-8.2 2-2 6-5 6-5.9 0.6-1 6-6 2.4-2.9 0.6-1.1 1.4-1.4 2-2.5 8.2-12.1 3.8-6.6 2.9-6.4 3.2-9 1.2-4 0.7-4 0.7-2 0.1-2 0.5-1 0-1 0.6-2 0-2 0.4-1 0.1-3 0.4-2 -0.1-4 0.4-1 -0.7-14 -0.1-14 -0.5-2 -0.2-8 -0.4-1 -0.6-8 -0.9-4 0-2 -0.9-3 -0.1-1 -0.9-2 -0.1-2 -0.7-0.9 -0.5-2.1 0.6-1 -0.1-0.7 -0.6-0.3 0.6-0.2 0.1-0.8 -0.5-1 0.3-1 -0.7-1 -0.1-2 -0.6-1 -0.1-3 0.6-0.3 1 0.4 0.6 0.9 0.1 1 1 1 0.9 2 0.7 1 0.1 1 1 2 0.6 2.5 0.7 1.5 1 3 0.2 2 0.5 1 0.6 3.2 0.6 1.8 0.4 4 0.7 2 0.1 3 0.4 2 0 3 0.6 2 0 5 0.4 2 0 30 -0.4 2 -0.1 4 -0.4 1 -0.1 3 -0.4 2 -0.1 2 -0.4 1 -0.7 5 -0.8 2 -0.2 2 -1.3 4 -0.1 1 -1.2 2.7 -0.4 2.3 -0.7 1 -0.2 1 -0.7 1.3 -0.4 1.7 -0.7 1 -0.2 1 -1.1 2 -1.8 4 -0.8 1 -0.3 1 -0.9 2 -10 15 -8.5 10 -1.3 1 -0.7 1 -3.3 3.3 -1 0.7 -1 1.3 -2 1.5 -2 2 -1.7 1.2 -2.3 2.3 -3 2 -2 2 -2 1.5 -9 5.8 -1 0.3 -4 2.8 -5 3.1 -2 0.9 -2 0.4 -2 1.5 -3 1 -2.8 1.4 -1.2 1 -1.2 0 -1.8 1.1 -2 0.7 -2 1.3 -2 0.8 -1 0.8 -1 0.4 -1 0 -2 1.5 -2 0.4 -1 1 -1 0.5 -1 0.1 -1.1 0.4 -1.9 2 0 0.5 -0.9 0.5 1.9-0.1 7-2.4 16-6.7 3-0.4 0.2 0.6 -0.7 1 -7.5 7.8 -1 0 -9 9.1 -1 0 -5 5 -1 0 -4 4 -1 0 -3 3 -1 0 -1 1 -1 0 -2 2 -1 0 -1 1 -1 0 -2 2 -2 0 -1 1 -1 0 -1 1 -1 0 -1 1 -1 0 -1 1 -7 0 -1-1 -1 0 -1-1 -1 0 -1-1 -1 0 -1-1 -1 0 -6.9-6.9 0-1 -2-2 0-1 -1-1 0-1 -1-1 0-2 -1-1 0-1 -1-1 0-1 -1-1 -0.1-1.7 -2-3.1 -1.2-1.2 -2.8-5.1 -1.5-1.9 -0.3-1 -0.9-1 -0.3-1 -0.7-1 -3.3-6.7 -0.9-1.3 -0.3-1 -3.4-7 -0.6-2 -0.7-1 -1-3 -0.6-1 -2-5 -1.5-5 -0.9-2 -2.7-8 -0.4-2 -0.5-1 -0.7-3 -0.7-2 -0.3-2 -1.3-4 -0.7-4 -1.3-4 -0.7-5 -0.4-1 -0.9-4 -0.5-3.5 -0.5-1.5 -0.7-5 -0.4-1 -0.6-5 -0.4-1 -0.5-5 -0.6-2 -0.4-3 0-2 -0.6-2 0.2-1 1.5-1.5 1-0.2 1 0.3 1.2 1.4 0.7 2 -0.1 2 0.6 3 0.5 1 0 1 1.3 6 0 1 0.5 1 0 2 1.1 2 -0.2 1 0.4 1 0.1 2 0.9 1.4 1 0.3 0.1-0.7 -0.1-2.4 -0.6-1.6 -0.3-3 -0.7-2 -0.2-2 -0.8-3 0.4-3 -0.2-2 -0.5-1 0-1 -0.4-1 0-3 -0.4-1 0-1 -0.5-1 -0.5-7 -0.4-1 -0.4-8 -0.5-1.2 0-3.8 -0.4-2 0.1-5 -0.4-2 0.4-14 -0.4-2 0.6-3 0.4-12 0.5-2 0.1-4 0.6-2 0.2-4 1.1-5 0-2 0.6-2 0.5-4 1.1-4 0.1-2 0.4-1 0.3-2 0.8-2 0.1-1 1.3-5 0.5-1 0.3-2 0.9-2 0.4-2 1-2 0.4-2 1.7-4 0.8-3 6.3-13 0.8-2 2.9-5.6 1.5-2.4 2.5-5 0.9-1 2.6-5 3.8-5 3-3 3.7-2.7 3.8-2.3 2.2-0.9 2-0.5 1-0.4zM321.2 601l0.8 0.7 0.6-0.7 -0.6-0.9zM336 653.4l0 1.6 0.6 1 0.4 1.6 0.4 0.4 0.2 1 0.4 0.6 0.3-0.6 -0.3-1.5 -0.5-0.5 -0.5-2 -1-1zM338.4 660l0.4 2 0.7 1 0.5 1.6 0.5 0.4 0.5 2 0.7 1 0.6 2 1.3 2 2.4 5 1.7 2 1.3 0.7 1-0.7 -0.3-1 -4.6-7 -3.1-5.5 -0.5-0.5 -0.5-1.5 -1.6-2.5 -0.4-1.3z"/>
<path fill="#12b1d6" d="M374 400.3l6 0 4 0.6 7 1.4 2 0.9 6 1.6 13 5.7 2 0.6 10 5 2 1.5 8.9 4.4 2.1 1.5 3 1.4 7 4.4 1.5 0.7 2.5 2.1 2 1.3 5 4.4 4 3.9 4 5 4 4.1 1 1.7 1 1.1 5 7.2 0.8 2.2 1.2 1.3 1.3 2.7 1.7 2.2 5 9.6 1.3 3.2 0.5 1 1.2 1.2 1 2 0.5 1.8 1.5 2.8 1.3 3.2 1.7 3 0.5 2 0.6 1 0.4 2 0.8 2 0.7 1 0.1 2 0.9 2.5 0.2 1.5 0.5 1 -0.2 2 0.5 1.3 0.3 2.7 -0.3 3 -3.7-10 -2.6-6 -3.5-7 -3.6-6 -5.7-8 -3.9-4.7 -5-5.5 -5-5 -5-4.4 -4.2-3.4 -5.7-4 -5-3 -4.1-2.1 -4.4-1.9 -6-2 -5.3-1 -2.3 0.2 -14 6.1 -7 3.4 -8 2.7 -7 3.2 -7 4.1 -6 4.6 -6.1 5.7 -5.9 6.7 -5 7 -4.4 7.3 -3.5 7 -6.8 15 -12.3 32.1 -0.5 4.9 0.1 5 0.4 7.4 0.8 6.6 2.1 11 1.1 4 1.6 4 0.9 3 2.5 11.4 5.5 20.6 1.5 6.6 3.1 10.4 0.7 4 0.8 3 2.6 7 4.9 9 6.9 9.1 1 0.9 2.6 3 4.4 3.3 3 1.8 4 1.8 4 1.1 4 0.8 3 0.1 3-0.6 4-1.7 0.4-0.6 2.6-1.3 2-1.7 2-0.8 2-1.5 2-0.8 2-1.4 1.9-0.5 9.1-4.5 1-0.1 4-2.4 2-0.8 3-1.9 1-0.3 2-1.1 10-6.7 11-8.2 2-1.9 6.1-5.1 5.9-5.8 0.9-1.2 5.9-6 3.1-4 2.1-2.2 10.7-15.8 0.8-2 1.5-2.4 0.6-1.6 1.2-2 0.6-2 0.6-1 0.2-1 0.6-1 1.1-3 2.5-8 0.8-4 0.7-2 0.1-2 0.4-1 0-1 0.6-1.8 0.1-2.2 0.4-1 0-3 0.5-2 -0.1-4 0.4-1 -0.7-14 -0.1-14 -0.5-2 -0.3-8 -0.2-1 -0.3-4 -0.3-1 -0.1-3 -0.5-2 0-1 -0.4-1 -0.1-3 -0.8-2 0.1-2 -1-1 0.9-1 -0.6-1 -0.4-2.7 -0.3-0.3 0.3-1 -0.4-1 -0.3-3 -0.8-2 0.1-2 0.4-0.6 0.4 0.6 0.6 0.3 0.5 0.7 0.3 1 1 1 0.1 1 0.6 1 2.1 6 0.9 3 0.5 3 0.6 1 0.6 3 0.1 2 0.5 1 0 1 0.6 2 0.1 3 0.4 1 0 4 0.6 2 0 5 0.4 2 0 30 -0.4 2 -0.1 4 -0.5 1 0 3 -0.4 2 -0.1 2 -0.5 1 -0.4 4 -1 3 0 1 -1.1 4 -0.5 1 0 1 -1 2 -0.7 3 -0.7 1 -0.1 1 -0.6 1 -0.6 2 -0.7 1 -0.1 1 -1.2 2 -0.8 2 -1.7 3 -1.3 3 -10 15 -8.4 9.8 -7.2 7.2 -1.8 1.4 -2 2 -2 1.4 -2 2 -3.2 2.2 -1.8 1.8 -2 1.6 -6 4 -3 1.6 -5 3.5 -1.2 0.5 -4.8 2.9 -2 0.9 -1 0 -2 1.5 -6 2.6 -1 0.9 -1 0 -10 5.1 -1 0 -2 1.5 -1 0 -1 0.4 -2 1.5 -1 0 -1 0.3 -1 1 -3 1.9 -1.3 0.5 -0.3 1 0.6 0.4 1.9-0.4 8.1-2.7 15-6.2 3-0.4 1 0 0.1 0.3 -2.6 3 -4.5 4.7 -1 0 -9 9.1 -1 0 -5 5 -1 0 -4 4 -1 0 -3 3 -1 0 -1 1 -1 0 -2 2 -1 0 -1 1 -1 0 -2 2 -2 0 -1 1 -1 0 -1 1 -1 0 -1 1 -1 0 -1 1 -7 0 -1-1 -1 0 -1-1 -1 0 -1-1 -1 0 -1-1 -1 0 -6.8-6.8 0-1 -2-2 0-1 -1-1 0-1 -1-1 0-2 -1-1 0-1 -1-1 0-1 -1-1 -0.1-2 -1-1 -0.1-1.1 -1.6-1.9 -1.4-2.8 -3-4.2 -0.3-1 -0.8-1 -3.9-7.8 -1.5-2.2 -0.5-1.8 -3.1-6.2 -0.6-2 -0.8-1 -0.5-1.8 -2.6-6.2 -4.9-14 -0.8-3 -1.3-4 -0.1-1 -0.8-2 -0.2-2 -0.8-2 -1.2-6 -0.8-2 -0.7-3 -0.1-1 -0.3-1 -0.1-2 -0.9-3 -0.6-4 -1-4 -0.5-4 -0.4-1 -0.1-2 -0.4-1 -0.1-2 -0.4-1 -0.1-2 -1.5-8 0-2 -0.5-2 0.2-1 1-1 1-0.2 1 0.3 1.1 0.9 0.5 2 0 2 0.6 2 0 1 0.4 1 1.3 8 0.6 2 -0.1 1 0.6 2 0 1 0.5 1 -0.1 2 1.2 3 0.1 2 0.4 1 0.2 2 0.7 2.2 0.5 0.8 -0.5 0.4 -0.2 0.6 0.8 2 -0.2 1 0.4 2 1.4 4 0.7 4 0.8 2 0.2 2 2.4 7 0.6 3 1.8 5 0.3 1.4 1.2 2.6 2.8 8.5 1.2 2.5 0.6 2 0.8 1 0.4 1.6 3.5 7.4 0.3 1 0.7 1 3 6 1.5 2.1 2 1.8 1 0.5 1-0.2 0.1-0.2 -0.1-1 -1-2.5 -2.8-4.5 -1.6-2 -1.5-3 -0.8-1 -0.2-1 -1.4-2 -1.5-3 -0.3-1 -0.8-1 -1.1-3 -2.4-5 -3.4-9 -2.9-9 -1.2-5 -0.5-1 -0.6-2.5 -0.4-0.5 -0.3-2 -1.2-4 -1.1-6 -0.5-1 0-1 -0.7-3 0.5-2 -0.3-1.1 -0.9-0.9 0.9-1.3 0-1.2 -0.6-1.5 -0.3-3 -0.5-1 -0.2-2 -0.8-3 -0.3-2 -0.7-3 -0.1-1 0.5-2 -0.7-4 -0.5-1 0-3 -0.3-1 -0.1-1 -0.5-1 -0.4-7 -0.5-1 -0.3-8 -0.6-2 0.1-3 -0.4-2 0.1-5 -0.4-2 0.4-14 -0.4-2 0.5-3 0.5-12 0.5-2 0.1-4 0.6-2 0.1-4 0.6-2 0.6-5 0.5-1 0.7-5 1-4 0.1-2 0.7-3 0.8-2 0.1-1 1.1-4.1 0.7-1.9 0.3-2 0.9-2 0.5-2 1-2 0.3-2 1.8-4 0.8-3 9.6-20 1.4-2 2.7-5.5 1.2-1.5 2.6-5 3.9-5 3.1-3 6.2-4.3 3-1.3 6-1.6z"/>
<path fill="#1babde" d="M374 400.6l6 0 6 1 5 1.1 2 0.8 6 1.6 18 7.8 2 1.2 5 2.4 2 1.4 8.1 4.1 1.9 1.4 3.5 1.6 9.5 5.7 2 1.8 2 1.3 8 7.3 4.9 5.9 2.2 2 1.9 2.3 1 1.7 1 0.9 0.5 1.1 1.5 1.7 1.4 2.3 0.6 0.6 1 2 0.4 1.4 1 1 1.6 3 1 1.1 2.4 4.9 1.6 2.5 2 4.2 1.2 3.3 1.8 2.3 1 2.3 0.3 1.4 1.7 2.9 0.4 2.1 0.6 0.8 0.3 1.2 0.7 0.8 0.3 1.2 -0.3 1 -3.6-6 -5.4-8 -8.5-10 -5.5-5.9 -5-4.8 -5-4.4 -5-3.9 -5-3.5 -5-3.1 -5-2.6 -5-2.2 -5-1.9 -5.8-1.7 -5.2-1.1 -5-0.7 -5-0.3 -6 0 -8 0.8 -5 0.8 -5 1.3 -4 1.3 -4.6 1.9 -5.4 2.9 -4.8 3.1 -3.9 3 -4.3 3.9 -4 4.2 -4 4.9 -3 4.2 -3 4.8 -3 5.5 -4 8.9 -3 8.4 -3 10.5 -2 9.6 -1.4 10.1 -0.9 11 -0.3 10 0.5 11 1.5 14 2.5 13 0.6 2 2.5 4.2 1.3 2.8 2.7 13.6 5.4 22.4 2.6 8.3 3 7.7 1.4 5 3.3 8 1.3 1.9 3.8 7.1 4.5 6 0.4 1 2.3 2.6 3 3 4.8 3.4 3.2 1.8 4 1.7 5 1.2 5 0.6 3-0.4 4-1.5 0.7 0.6 -0.8 1 0.1 0.3 1 0.7 1 0 7-2.2 17-6.7 2-0.3 2 0 0 0.2 -6 6.6 -1 0 -9 9.1 -1 0 -5 5 -1 0 -4 4 -1 0 -3 3 -1 0 -1 1 -1 0 -2 2 -1 0 -1 1 -1 0 -2 2 -2 0 -1 1 -1 0 -1 1 -1 0 -1 1 -1 0 -1 1 -7 0 -1-1 -1 0 -1-1 -1 0 -1-1 -1 0 -1-1 -1 0 -6.7-6.7 0-1 -2-2 0-1 -1-1 0-1 -1-1 0-2 -1-1 0-1 -1-1 -0.1-1 -1-1 -0.1-2 -0.9-1 -0.2-1.9 -1.8-2.1 -0.3-1 -1.5-2 -1.1-2 -0.9-1 -0.3-1 -1.4-2 -3.7-7.5 -1.1-1.5 -1.9-4.8 -1.8-3.2 -0.6-2 -0.7-1 -1-3 -2.2-5 -5.5-16 -0.1-1 -1.4-4 -0.1-1 -1-3 0-1 -1.5-5 0-1 -2-7 0-1 -0.4-1 -0.1-2 -0.9-3 -0.7-4.8 -0.9-3.2 -0.5-4 -0.4-1 -0.1-2 -0.4-1 -0.1-2 -0.4-1 -0.1-2 -0.5-2 -0.5-4 -0.5-2 0-2 -0.5-2 0.3-1 0.6-0.6 1-0.3 1 0.3 0.7 0.6 0.5 1 0.2 1 0 2 0.5 2 0.1 1 0.4 1 0.1 2 1.1 5 -0.1 1 0.6 2 0.5 4 0.4 1 0.2 1 -0.3 1 0.6 1 0.1 1 0.5 1 -0.2 2 0.6 1 0.5 3.5 0.6 1.5 -0.1 1 0.4 2 0 1 1.6 5 0.4 2 0 1 0.5 1 0.1 1 1 3 0 1 1.4 5 3.6 11 0.9 2 1.5 5 3.5 9 0.7 1 0.9 2.7 1.8 3.3 1.6 4 3.7 7 1.9 2.7 1.5 1.3 0.5 0.8 2 0.9 1-0.3 0.1-1.4 -1.4-3 -7-11 -1.9-4 -1.3-2 -0.2-1 -0.8-1 -0.5-1.6 -2.2-4.4 -2.4-6 -0.4-1.8 -1.8-4.2 -0.1-1 -0.5-1 -0.5-2 -0.5-1 -5-18 -0.5-3 0-1 -0.6-1 -0.3-2 0-1 -0.6-2 0.2-3 -0.9-2 0.2-1 0-2 -0.9-3 0-1 -0.4-1 -0.2-2 -0.8-3 -1.1-6 0.6-2 -0.4-1 -0.3-3 -0.6-1 0-3 -0.9-4 -0.4-6 -0.5-1 0.1-3 -0.5-2 0-3 -0.4-2 0-3 -0.4-0.8 -0.1-1.2 0.1-5 -0.3-2 0.3-14 -0.3-2 0.6-3 0.4-12 0.5-2 0.2-4 0.5-2 0.1-4 0.5-1 1.5-9.9 1.5-6.1 0.1-2 0.4-2 0.8-2 0.4-2 2.1-7 0-1 0.9-2 0.4-2 1.1-2 0.3-2 1.8-4 0.8-3 9.6-20 1.4-2 2.1-4 0.3-1 1.5-2 2.6-5 3.9-4.9 3-2.9 3-2.3 5.1-2.9 6.9-1.9zM357.4 678l0.3 1 1 0 -0.3-1 -0.4-0.3zM504 492.3l0.2 0.7 1.1 1 0.1 1 0.6 1 3.2 9 0.1 1 0.4 1 0.1 1 0.5 1 0.6 3 0.1 2 0.5 1 0.6 3 0.1 3 0.5 1 0 4 0.5 2 0 5 0.5 2 0 30 -0.5 2 0 3 -0.5 2 0 3 -0.5 2 -0.1 2 -0.4 1 -0.5 4 -1 3 0 1 -0.7 3 -0.8 2 0 1 -0.7 1.2 -1.1 3.8 -0.7 1 -0.1 1 -1.2 3 -0.7 1 -0.1 1 -1.1 1.8 -0.3 1.2 -2.2 4 -0.8 2 -9.2 14 -3 4 -5.5 6 -1 1.5 -3 3 -0.8 0.5 -0.7 1 -3 3 -1.5 1 -6 5.5 -3.5 2.5 -1.5 1.5 -7 5 -4 2.3 -5 3.4 -1.7 0.8 -4.3 2.8 -2 0.8 -1 0 -2 1.4 -6 2.7 -1 0.9 -1 0 -1 0.4 -1 0.7 -2 0.8 -6 3.3 -1-0.1 -2 1.5 -1 0 -1 0.4 -1 0.9 -1 0.5 -1 0 -1 0.4 -1 0.9 -1-0.1 -0.4 0.8 -0.6 0.5 -2 0.6 -0.1-0.1 0.4-1 2.7-1.3 0.2-0.7 1.3-1 1.5-0.6 2-1.5 2-0.8 2-1.5 2-0.5 2-1.1 2-0.8 1-0.7 3-1.2 1-0.7 1 0 1-0.8 3-1.6 2-0.8 3-2 3-1.4 13-8.9 6-4.4 6-5.2 1-0.5 3.3-3 5.7-5.6 1-1.3 7-7.1 2.1-3 2-2 10.1-15 1.5-3 1.8-3 0.3-1 1.2-2 0.5-2 0.6-1 0.2-1 0.7-1 0.6-2 0.5-1 0.1-1 1.2-3 1.2-4 0-1 0.5-1 0-1 0.9-3 0.1-2 0.9-3.1 0.2-2.9 0.4-1 0-3 0.5-2 0-4 0.3-1 -0.5-15 -0.1-13 -0.6-2 0-5 -1.2-12 -0.4-2 -0.1-2 -0.3-1 0-2 -0.7-3 0.2-1 -0.4-1 -0.2-3 -0.6-1 -0.8-6 -0.8-2 0.1-0.3z"/>
<path fill="#20a4e3" d="M374 400.9l6 0 6 1 5 1.1 2 0.9 6 1.7 13 5.6 2.2 0.8 9.8 4.9 2 1.5 3.6 1.6 4.4 2.4 2 1.4 6 3.1 2 1.4 4.7 2.7 2.3 2 1.6 1 8.4 7.6 4.4 5.4 2.2 2 1.7 2 1.2 2 1.5 1.6 0.8 1.4 1 1 1.1 2 1.1 1.2 1.1 2.8 0.9 1.2 1.4 2.8 1.6 2 2.2 5 0.8 1.1 0.5 1.9 -0.5 0.7 -13.5-13.7 -9.5-8.3 -8-5.9 -9-5.3 -5-2.5 -5-2 -5-1.7 -5-1.4 -5-1 -5-0.7 -5-0.3 -5 0 -7 0.5 -4.9 0.6 -4.8 1 -4.3 1.2 -4.7 1.8 -4.3 2 -5 2.9 -4 2.8 -4 3.2 -4 3.8 -4 4.3 -3 3.8 -3 4.2 -3.1 5 -2.9 5.3 -3 6.4 -3.2 8.3 -3.3 11 -2.2 10 -1.7 10 -1.1 11 -0.6 12 0.1 10 0.8 11 1.5 12 1.6 9 1.4 3 2.7 2.8 2.1 3.2 4.3 22 3.8 15 1.3 4 2.8 7 3.5 10 3.2 7.2 1.2 1.8 3.6 7 2.8 4 0.4 1 0.9 1 1 2 1.9 3 4.2 3.3 4 2.4 4 1.9 4 1.5 7 1.3 3 0.2 5-0.7 1-0.4 0.4 0.5 0.2 1 0.4 0.4 2 0.1 6-1.9 16-6.2 2-0.5 3 0.1 -5 5.5 -1 0 -9 9.1 -1 0 -5 5 -1 0 -4 4 -1 0 -3 3 -1 0 -1 1 -1 0 -2 2 -1 0 -1 1 -1 0 -2 2 -2 0 -1 1 -1 0 -1 1 -1 0 -1 1 -1 0 -1 1 -7 0 -1-1 -1 0 -1-1 -1 0 -1-1 -1 0 -1-1 -1 0 -6.6-6.6 0-1 -2-2 0-1 -1-1 0-1 -1-1 -0.1-2 -0.9-1 -0.1-1 -1-1 0-1 -1-1 -0.1-2 -1-1 -0.1-2 -1-1 -0.8-2 -1.5-2 -1-2 -1-1 -0.4-1 -1.3-2 -0.3-1 -4.5-8 -1.8-4 -0.2-1 -0.8-1 -0.2-1 -0.8-1 -0.6-2 -3.8-9 -2.3-7 -1.3-3 -2-6 -0.1-1 -2.5-8 0-1 -1.5-5 0-1 -2-7 -0.5-4 -0.8-3 -0.7-3 -0.1-2 -0.9-3 -0.1-2 -0.8-3 -0.6-5 -0.4-1 -0.2-3 -0.4-1 -0.6-5 -0.4-1 -0.1-3 -0.4-1 0.6-1.2 1-0.4 1 0.4 1 1.2 0.6 6 0.5 1 0.6 5 0.6 2 -0.2 1 0.6 2 0.4 4 0.5 1 0 2 0.5 2 0.6 1 -0.1 2 0.4 1 0.8 4 0.4 1 -0.1 1 0.5 2 0 1 2 7 0 1 1.5 5 0 1 2.5 8 0.2 1 2 6 1.2 3 2.3 7 2.2 5 2.2 6 0.8 1 0.2 1 0.8 1 0.2 1 1.4 3 3.9 7.6 1.2 1.4 0.3 1 1.5 1 0.6 1 2.4 1.7 1 0.3 1-0.2 0.4-0.8 -1.3-3 -0.7-1 -0.8-2 -1-1 -5.6-9 -1.9-4 -2.2-4 -1.6-4 -1.1-2 -2.5-6 -0.5-2 -0.5-1 -0.6-2 -0.6-1 -0.1-1 -1.8-5 -3.1-11 -2.1-9 0.1-1 -0.5-1 -0.5-2 0.1-2 -0.6-1 0.2-2 -0.2-1.9 -0.7-2.1 -0.1-2 -1.2-5 -0.1-2 -0.7-2 -1.4-7 0.7-2 -0.2-1 0-1 -0.8-3 -0.1-3 -0.4-0.7 -0.4-2.3 -0.2-3 -0.5-1 -0.1-3 -0.3-1 0-3 -0.5-1.2 -0.4-8.8 -0.6-2 0.2-5 -0.4-2 0.5-14 -0.5-2 0.7-3 0.4-12 0.6-2 0.1-4 0.6-2 0.1-4 0.4-1 0.3-2.6 0.5-1.4 0.6-5 1.6-7 0.1-2 1.6-5 0.6-3 0.4-1 0.4-2 0.5-1 0.4-2 0.8-2 0.4-2 1-2 0.4-2 1.8-4 0.8-3 1.6-3 0.5-1.4 4.2-8.6 0.8-2 2.6-5 1.9-3 1.9-4 1.5-2 2.7-5 3.4-4.5 3-2.9 3.5-2.6 3.3-2 2.1-1 6.1-1.5zM355 674.4l-0.2 0.6 0.2 1.5 1.4 1.5 0.6 1.3 1 0.8 2 2.4 3 2.7 2 0.6 1-0.6 0.4-1.2 -0.1-1 -0.5-1 -0.8-0.6 -1 0.2 -2-2.5 -1-0.4 -1-0.9 -0.5-0.8 -0.5-0.4 -1-0.2 -1.3-1.4 -0.7-0.4zM505 495.3l0.2 0.7 1.2 2 0.2 1 1 2 1.3 4 0.1 1 0.5 1 0.1 1 0.4 1 0.7 3 0.1 2 0.5 1 0.6 3 0 3 0.6 1 0 4 0.5 2 0 5 0.5 2 0 30 -0.5 2 -0.1 4 -0.4 1 0 3 -0.5 2 -0.1 2 -0.9 3.7 0 1.3 -0.5 2 -0.5 1 -0.5 3 -1 3 0 1 -1 2 -0.8 3 -0.7 1 -0.1 1 -0.6 1 -0.6 2 -0.7 1 -0.1 1 -0.9 1.4 -1.5 3.6 -1.3 2 -0.7 2 -10.7 16 -1.5 2 -2 2 -0.6 1 -2.9 3 -0.8 1.3 -3 3 -1.1 0.7 -0.6 1 -3 3 -1.3 0.8 -3 2.9 -1 0.6 -2 2 -3.8 2.7 -1.2 1.2 -7 5 -15 9.4 -2 0.8 -1 0 -2.4 1.6 -5.6 2.5 -1 0.9 -2 0.3 -1 0.8 -3 1.3 -1 0.8 -2 0.8 -2 1.2 -1 0 -1 0.8 -1 0.5 -1 0.1 -1 0.4 -1 0.8 -2 0.4 -2 0.9 -0.2-0.5 1.4-1 0.8-0.3 2.1-1.7 1.9-0.7 2-1.5 2-0.5 1-0.7 3-1.2 1-0.7 3-1.2 1-0.8 1 0 1-0.8 5-2.3 3-2 3-1.4 9-6.1 10-7.2 6-5.2 1.2-0.7 2-2 1.3-1 5.5-5.4 1-1.3 7-7.1 2.3-3.2 2-2 10.1-15 1.4-3 1.8-3 0.8-2 0.7-1 0.6-2 0.6-1 0.1-1 0.7-1 1.1-3 0.1-1 1.3-3 1.1-4 0.1-1 0.4-1 0-1 0.9-3 0.1-2 0.9-3 0.3-3 0.4-1 0-3 0.5-2 -0.1-4 0.4-1 -0.5-14 -0.1-14 -0.6-2 0-5 -0.3-1 -0.1-4 -0.4-2 0-3 -0.4-1 0.1-1 -0.5-2 0.3-2 -0.5-1 0.1-2 -0.5-1 0-1 -0.3-1 0.2-1 -0.4-1 -0.3-3 -0.4-1 -0.6-4z"/>
<path fill="#249de6" d="M374 401.3l6 0 4 0.7 7 1.5 2 0.9 6 1.6 13 5.7 1 0.3 10.2 5 1.8 1.4 9 4.5 2 1.5 3 1.3 8 5 0.9 0.3 3.1 2.6 1 0.5 8.6 7.9 3.4 4 0.6 1 2.4 2.3 2 2.4 0.7 1.3 3.3 4.1 2 3.2 0.7 1.7 -0.2 1 -0.5 0.3 -14-11.4 -6-4.3 -5-3.2 -9-4.8 -5-2.2 -5-1.8 -5-1.5 -5-1.2 -5-0.8 -5-0.6 -8 0 -8 0.4 -5 0.7 -5 1.1 -4 1.1 -5 2 -4 1.9 -4 2.3 -4 2.7 -7 6 -4 4.1 -3 3.5 -6 8.5 -5.2 9.2 -2.7 6 -2.1 5.3 -3 9.3 -2.9 11.4 -1.9 10 -1.6 12 -0.8 10 -0.4 11 0.3 12 1 14 0.7 6 1.1 6 0.6 2 0.9 1.2 5 3.1 1.5 1.7 1 2 3.9 21 2.9 12 2.5 8 4.8 12 1.4 4 2.2 5 0.6 1 0.7 2 1.3 2 4.5 9 -0.1 1 -1.2 0.2 -3-2.1 -3-2.8 -1-0.2 -0.1 0.9 1 3 1.1 1 1 2.4 0.7 0.6 1.3 1.9 1.3 1.1 1.7 2.2 3 2.8 4 2.3 2 0.1 1 0.3 1-0.3 1 0.3 1-0.1 9 2.8 8 1.4 3 0.1 4-0.5 1.4 0.6 0.6 1 2 0.2 2-0.4 4-1.4 14-5.5 3-0.8 4-0.1 -4 4.4 -1 0 -9 9.1 -1 0 -5 5 -1 0 -4 4 -1 0 -3 3 -1 0 -1 1 -1 0 -2 2 -1 0 -1 1 -1 0 -2 2 -2 0 -1 1 -1 0 -1 1 -1 0 -1 1 -1 0 -1 1 -7 0 -1-1 -1 0 -1-1 -1 0 -1-1 -1 0 -1-0.9 -1 0 -6.6-6.6 0-1 -2-2 0-1 -1-1 0-1 -1-1 0-2 -1-1 0-1 -1-1 0-1 -1-1 -0.1-2 -1-1 -0.2-2 -1-1 -0.4-2 -0.9-1 -1.6-3 -1-1 -1-2 -0.8-1 -0.2-1 -1.2-1.6 -5.2-10.4 -0.1-1 -0.9-1 -0.1-1 -0.9-1 -0.1-1 -1.9-4 -0.1-1 -2.3-5 -2.2-7 -1.4-3 -0.1-1 -1.9-5 -0.6-3 -1.9-6 0-1 -1.6-5 0-1 -2-7 -0.4-4 -0.5-1 -0.6-4 -0.5-1 0-2 -1-3 0-2 -0.4-1 0-1 -0.5-1 -0.5-5 -0.5-1 -0.1-3 -0.4-1 -0.1-2 -0.5-1 0-2 -0.4-1 -0.1-3 -0.5-1 0.3-0.7 1-0.6 1 0.5 0.7 0.8 0.3 1 0.3 5 0.5 1 0.2 2 0.4 1 0.1 3 0.5 1 -0.3 1 0.1 1 0.6 1 0.3 4 0.5 1 0.1 2 0.5 2 0.5 1 0 2 0.3 1 0.3 2 0.9 3 0.1 2 0.4 1 0 1 2 7 0 1 1.5 5 0 1 1 3 0.1 1 7 21 2.3 5 0.2 1 1.8 4 0.2 1 0.8 1 0.2 1 0.8 1 0.2 1 1.6 3.5 3.8 7.5 1 1 0 1 1.2 0.5 0.6 0.5 0.5 1 2.9 2.4 1 0.5 1 0.2 1-0.5 0-1.9 -2.2-3.7 -0.8-2 -1-1 -5.6-9 -4.2-8 -2.1-5 -0.7-1 -2-5 -0.9-3 -1.7-4 -3.1-10 -3.1-12 -1-4 0.3-1 -0.6-1 -0.5-2 0.3-2 -0.4-1 -0.7-5 -0.5-1 -0.5-3.6 -0.5-1.4 -0.5-4 -0.7-2 -1.4-7 0.9-2 0-2 -0.8-2.5 -0.2-3.5 -0.8-2.5 -0.2-3.5 -0.5-1 0-2 -0.5-2 0-3 -0.5-2 0-3 -0.3-0.6 -0.2-1.4 0-3 -0.4-2 0.2-5 -0.6-2 0.6-14 -0.6-2 0.7-2 0.5-13 0.6-2 0.1-4 0.6-2 0.2-4 1.1-5 0.1-2 0.4-1 0.7-5 0.4-1 0.6-3 0.1-2 0.5-1 0.3-2 0.6-1 1.5-6.7 0.7-1.3 0.3-2 0.5-1 0.5-2.2 1.3-2.8 0.4-2 1.8-4 0.9-3 4.6-9.9 5-10.1 1.4-2 2.4-5 1.5-2 2.7-5 4-5 2-2 7.6-5 1.4-0.6 4-1.1zM506 497.8l0.2 1.2 1.9 4 0.1 1 0.5 1 0.1 1 0.5 1 0.1 1 0.4 1 0.4 2 0.4 1 0 2 0.5 1 0.6 3 0.1 3 0.5 1 0.1 4 0.4 2 0 5 0.6 2 0 30 -0.6 2 0 4 -0.4 1 0 3 -0.6 2 0 2 -0.8 3 -0.2 2 -1 3 0 1 -1.4 5 -0.1 1 -1.3 3 -0.5 2 -0.7 1 0 1 -0.8 1 -0.5 2 -0.7 1 0 1 -0.8 1 -1.7 4 -1.3 2 -0.7 2 -10.7 16 -3.6 4 -0.5 1 -2.9 3 -0.6 1 -4.2 4 -3.8 4 -1 0.6 -3 2.9 -1 0.5 -2 2 -4 3 -3 2.6 -14 9.2 -2 0.9 -4 2.7 -2 0.8 -1-0.1 -1 0.9 -5 2.2 -2 1.1 -1 0.9 -2 0.2 -1 0.9 -3 1.2 -1 0.9 -3 1.2 -1 0.8 -1 0 -1 0.9 -2 0.4 -2 1.2 -2 0.3 -0.3-0.2 1.3-0.2 0.4-0.8 0.6-0.5 2-1 2-1.6 2-0.4 1-0.8 3-1.1 1-0.8 3-1.1 1-0.8 1-0.1 1-0.7 1-0.3 2-1.3 2-0.7 3-2 3-1.5 9-6 10-7.3 6-5.2 1-0.5 2.4-2.3 1.6-1.2 13-13.4 2.5-3.4 2-2 10.5-15.7 0.4-1.3 2.3-4 0.8-2 0.7-1 0.2-1 1-2 0.1-1 0.8-1 1-3 0.2-1 1.2-3 1.6-6 0-1 1-3 0-2 0.5-1 0-1 0.4-1 0.3-3 0.4-1 0-3 0.5-2 0-4 0.4-1 -0.5-14 -0.1-14 -0.5-2 0-5 -0.4-1 -0.1-4 -0.4-2 0.2-3 -0.5-1 0-2 -0.4-1 0.2-2 -0.3-1 0.1-2 -0.6-1 0.1-1 -0.4-1 0.2-1 -1.3-7 0.1-1z"/>
<path fill="#2896eb" d="M459.8 443l1 2 -0.8 0.4 -1-0.4 -10-5.4 -6-3 -7-2.9 -7-2.4 -6-1.5 -5-1 -5-0.6 -6-0.4 -15 0.7 -6 1 -5 1.3 -5 1.8 -6 2.8 -5 3 -4.9 3.6 -4.5 4 -4.6 4.8 -4 4.9 -3.7 5.3 -3.6 6 -3.1 6 -2.7 6 -2.3 6 -1.9 6 -2.3 8 -3.1 14 -1.9 13 -3.4 30 -0.4-1 -0.6-0.5 -0.3-4.5 -0.8-2 0.1-5 -0.3-2 0.2-14 -0.3-2 0.5-3 0.6-12 0.4-2 0.3-4 0.5-2 0.1-4 0.5-1 0.8-6 0.4-1 0.1-2 1.7-7 0.5-4 0.9-2 1.4-6 2-6 0.2-1 1.3-3 0.3-2 1.4-3 1.3-4 3.5-7 0.7-2 5-10 1.4-2 2.9-6 1.5-2 2-4 2.2-3.1 2-2.3 2.8-2.6 5.9-4 2.3-1.1 6-1.6 4-0.6 6 0.1 10.7 2.2 1.3 0.6 5.2 1.4 5.2 2 3.6 1.7 10 4.3 2 1.2 5 2.4 3 2 3.1 1.4 4.9 2.7 1 0.9 6.4 3.4 1.6 1.2 4.9 2.8 8.1 7zM506 499.4l1 1.6 0.2 1 0.6 1 0.1 1 0.6 1 0 1 0.6 1 0.5 2 0.3 2 0.5 1 0 2 1.2 4 0.1 3 0.4 1 0.1 4 0.5 2 0 5 0.5 2 0 30 -0.5 2 -0.1 4 -0.4 1 0 3 -0.4 1 -0.2 3 -0.8 3 -0.1 2 -1 3 0 1 -1.5 5 -0.1 1 -1.1 2.5 -0.7 2.5 -0.6 1 -0.1 1 -0.8 1 -0.5 2 -0.6 1 -0.1 1 -0.8 1 -1.2 3 -1.6 2.6 -0.4 1.4 -9.8 15 -2.8 3.8 -2.2 2.2 -0.5 1 -2.9 3 -0.6 1 -7.8 7.8 -1 0.6 -2.6 2.6 -1.4 0.8 -2.2 2.2 -8.8 6.8 -12 7.8 -5 2.8 -1 0.8 -2 0.8 -1-0.1 -1.5 1.1 -1.8 1 -3.7 1.5 -2 1.5 -2 0.1 -1 1.1 -3 1 -1 1 -3 1.2 -1 0.9 -1 0 -1 0.8 -2 0.3 -0.8-0.4 0.8-0.3 2-1.6 2-0.4 1-0.8 3-1.1 1-0.9 3-1 1-0.9 1 0 4-2.3 2-0.8 3-1.9 3-1.5 9-6.1 10-7.3 10.9-9.1 5.1-5.1 1-1.2 4-3.8 3-3.3 2.7-3.6 2-2 10.3-15.4 0.6-1.6 2.3-4 0.7-2 0.8-1 1.2-4 0.8-1 1.2-4 1.2-3 1.2-4 0.4-3 1-3 0.1-2 0.4-1 0-1 0.5-1 0.2-3 0.4-1 0.1-3 0.4-2 0-4 0.5-1 -0.6-14 0-14 -0.4-1 -0.1-1 0.1-5 -0.5-1 0-4 -0.5-2 0.2-3 -0.4-1 0-2 -0.5-1 0.3-2 -0.3-1 0-2 -0.5-1 0.2-1 -0.5-1 0.1-1 -0.5-4 -0.4-1zM313 573l1.3 1 0.3 1 0 2 0.5 1 -0.1 2 0.4 1 0.2 2 0.5 1 -0.1 3 0.6 1 -0.1 2 0.5 1 0 2 0.4 1 0.6 4 1 3.9 0.5 4.1 0.5 1 0 1 0.5 1 0 2 0.5 1 0.5 3 1 3 0 1 0.5 1 0.5 3 1 3 0 1 1 3 0 1 1.5 4 0 1 0.9 2 1.1 4 2 5 1.5 5 2.3 5 0.2 1 1.4 3 0.6 2 0.8 1 0.2 1 0.8 1 0.2 1 1.8 4 3.7 7 0.9 1 0.1 1 0.5 0.6 1 0.2 1 1.5 2 1.9 2 1.6 2 0.4 0.4-0.2 0.6-1 -0.9-3 -1.9-3 -0.9-2 -2.4-3 -0.9-1.8 -1.6-2.2 -0.3-1 -1.4-2 -3.2-6 -1.9-4 -0.7-2 -1.2-2 -2.1-5 -0.8-3 -1.7-4 -1.6-5 -3.2-11 -2.4-10 0.3-1 -0.8-2 0.1-2 -1.3-7 -0.5-1 -0.6-4 -0.5-1 -0.4-4 -0.8-2 -1.4-7 1-1.9 1-0.1 1 0.4 1.3 1.6 0.9 5 1.6 4 1.2 0.5 2 0.3 2 0.9 1.5 1.3 1.2 2 0.9 4 1.1 8 2 10 3.9 15 2.4 7 5.2 13 2.7 6 1 3 1 1 1.5 4 0.2 1 -0.6 0.7 -2.7-1.7 -1-1 -1.3-0.6 -1 0.3 0.1 1.3 1.1 2 0.7 2 1.5 2 1 2 2.3 3 1.2 1 3.3 4 5.1 4 2.7 1.5 2 0.6 2 0.2 3-0.4 2 0.3 1 0.4 11 1.6 4 0 1-0.4 2 0 2 1.8 1 0.1 2-0.1 3-1 15-5.8 3-0.7 3-0.1 0.1 1 -2.1 2.3 -1 0 -9 9.2 -1 0 -5 5 -1 0 -4 4 -1 0 -3 3 -1 0 -1 1 -1 0 -2 2 -1 0 -1 1 -1 0 -2 2 -2 0 -1 1 -1 0 -1 1 -1 0 -1 1 -1 0 -1 1 -7 0 -1-1 -1 0 -1-1 -1 0 -1-1 -1 0 -1-1 -1 0 -6.5-6.5 0-1 -2-2 0-1 -1-1 0-1 -1-1 0-2 -1-1 0-1 -1-1 0-1 -1-1 -0.2-2 -0.9-1 -0.2-2 -1-1 -0.2-2 -1-1 -1.5-3 -0.9-1 -1-2 -0.9-1 -0.2-1 -1.5-2.3 -3.4-6.7 -1.4-3 -0.2-1 -0.8-1 -0.2-1 -0.8-1 -1-3 -0.6-1 -0.6-2 -2.3-5 -2.2-7 -0.9-2 -2.4-7 -0.7-3 -0.5-1 -1.4-5 0-1 -1-3 -0.1-1 -0.5-1 0-1 -1.4-5 -0.1-1 -0.5-1 -0.4-4 -0.9-3 -0.2-2 -0.5-1 0-2 -0.4-1 -0.1-1 -0.5-1 0-2 -0.4-1 0-1 -0.6-2 -0.4-4 -0.6-2 0-2 -0.4-1 -0.1-2 -0.5-1 0-2 -0.4-1 -0.1-3 -0.5-1z"/>
<path fill="#2c8ef1" d="M434.9 427l-0.9 0.4 -1-0.1 -13-2.5 -10-1 -5-0.1 -11 0.5 -6 0.6 -8 1.7 -7 2.5 -7 3.6 -7 4.9 -4 3.4 -3.1 3.1 -3.6 4 -3.2 4 -5.4 8 -5.4 10 -3.8 9 -3.1 9 -3.9 14 -3.5 15.3 -1 3.4 -0.5-3.7 0-6 0.4-2 0.1-4.7 0.6-1.3 0.2-5 1-5 0.2-2 0.4-1 0.1-2 1-4 1.3-7 0.8-2 1.3-6 0.9-2 0.3-2 0.6-1 0.3-2 1.5-3 0.4-2 1.7-4 0.4-1.8 9-18.8 2.6-4.4 2.4-4.7 1.5-2.3 2-4 3.5-4.5 3.7-3.5 6.3-4 7-2.1 4-0.6 5 0.1 4 0.5 5 1.1 6 1.7 2 0.8 2.1 0.5 16 7 7.5 4 3.4 2.4 3.3 1.6 1.7 1.3 3 1.6zM507 502.3l0.4 0.7 0.1 1 0.7 1 0.1 1 1.1 3 0.3 2 0.5 1 0.1 2 0.4 1 0.3 2 0.4 1 0.1 3 0.4 1 0.1 4 0.6 2 0 6 0.4 1 0 30 -0.4 2 -0.1 4 -0.5 1 0 3 -0.3 1 -0.2 3 -0.5 1 0 1 -0.3 1 -0.1 2 -1 3 0 1 -1.6 5 -0.1 1 -1.2 3 -0.1 1 -1 2 -0.1 1 -0.8 1 -0.1 1 -1 2 -0.1 1 -1.3 2 -0.7 2 -1.5 2.3 -1.1 2.7 -11.4 17 -2.8 3 -0.7 1.2 -2.8 2.8 -0.6 1 -1.3 1 -0.7 1 -3.6 3.6 -0.7 0.4 -1.3 1.6 -1 0.6 -2.8 2.8 -1.2 0.7 -2.4 2.3 -8.6 6.6 -4 2.4 -7 4.7 -6 3.5 -1 0.8 -2 0.7 -1-0.2 -3 2 -0.7-0.5 1.4-1 1.3-0.5 0.3-0.5 2.7-1.4 6-4 15-10.9 2-1.9 3-2.2 2.7-2.6 1.3-0.9 4-4.2 1.1-0.9 1.8-2 1.1-0.9 1-1.2 1.1-0.9 2.9-3.1 2.9-3.9 2-2 10.1-15.1 0.7-1.9 2.3-4 0.7-2 0.8-1 0.1-1 1-2 0.2-1 0.7-1 1.2-4 1.3-3 1.5-6 0-1 1-3 0.1-2 0.4-1 0-1 0.5-1 0.1-2 0.5-2 0.1-3 0.4-1 0.1-5 0.4-1 -0.5-14 0-14 -0.4-1 0-6 -0.5-1 0-4 -0.5-2 0.2-3 -0.3-1 0-2 -0.5-1 0.2-2 -0.4-2 0.1-1 -0.3-1 0.1-1 -0.5-1 -0.2-4zM313 573.6l0.8 0.4 0.3 1 0.3 5 0.7 2 0.3 5 0.7 1 0.3 5 0.7 1 0.4 4 0.5 1.3 0.5 3.7 0.5 1.2 0.1 1.8 0.4 1 0 1 0.6 1 0 2 0.4 1 0 1 0.5 1.2 0.5 2.8 0.6 1 0.4 3 0.5 1.1 0.5 2.9 0.6 1 0.1 2 0.3 1 0.6 1 0 1 1.4 4 0 1 0.6 1 0.4 2 0.6 1 0.4 2 0.6 1 0.1 1 0.8 1.1 2.5 7.9 0.6 1 0.1 1 0.7 1 0.6 2 0.6 1 0.1 1 0.9 1 0.4 2 0.7 1 0.3 1 0.7 1 0.3 1 1.5 2.8 0.2 1.2 0.9 1 2.3 5 1.5 2 0.2 1 0.8 1 1.1 0.2 3 3.6 3 2.1 1 0.4 1 0 0.7-0.3 0.1-1 -1.3-4 -0.8-1 -2.1-4 -4.9-7 -0.3-1 -0.8-1 -3.8-7 -1.9-4 -0.9-2.4 -1.1-1.6 -0.2-1 -1.8-4 -0.8-3 -1.8-4 -0.8-3 -0.8-2 -0.7-3 -2.4-8 -2-8 -0.3-2 0.2-1 -0.7-2 0.2-2 -1.6-6 -0.1-1 -0.4-1 -0.7-4 -0.5-1 -0.4-4 -0.8-2 -0.8-4 -0.5-3 0.8-1.4 1 0 1.6 1.4 0.4 2 0.5 1 0.1 2 0.8 2 0.6 2.6 1 0.9 3 0.3 2 0.8 1 1 1 1.4 0.9 4 0.6 5 2.5 13 2.9 12 2.1 7 6.7 17 1.4 3 1.1 3 0.7 3 0.1 1.1 -1.2-0.1 -0.8-0.5 -2-2.2 -2-1.8 -0.2 0.5 0.1 1 0.8 1 -0.1 1 1.5 2 0.3 1 0 1 1.2 2 0.8 2 2.1 3 1.1 2 6.4 7.2 6 5 3 1.9 2 0.9 2 0.3 2-0.2 1-0.4 1 0.7 3-0.5 9 0.7 3-0.1 2-0.5 1 0 1 0.2 1 1.4 0.7 0.4 1.3 0.3 2-0.2 2-0.6 15-5.7 3-0.7 3 0 0.1 0.9 -1.1 1.2 -1 0 -9 9.2 -1 0 -5 5 -1 0 -4 4 -1 0 -3 3 -1 0 -1 1 -1 0 -2 2 -1 0 -1 1 -1 0 -2 2 -2 0 -1 1 -1 0 -1 1 -1 0 -1 1 -1 0 -1 1 -7 0 -1-1 -1 0 -1-1 -1 0 -1-1 -1 0 -1-1 -1 0 -6.4-6.4 0-1 -2-2 0-1 -1-1 0-1 -1-1 0-2 -1-1 0-1 -1-1 -0.1-1 -1-1 -0.1-2 -0.9-1 -0.2-2 -1-1 -0.2-2 -1-1 -0.1-1.1 -2-3 -0.9-1.9 -1-1 -0.2-1 -0.8-1 -3.3-7 -0.9-1 -0.1-1 -0.8-1.3 -0.4-1.7 -0.8-1 -0.2-1 -0.8-1 -0.3-1 -0.5-0.8 -0.2-1.2 -0.9-1 -0.4-2 -1.5-2.8 -0.2-1.2 -0.8-1.3 -2.5-7.7 -0.6-1 -0.4-2 -0.6-1 -0.4-2 -0.6-1 -0.4-2 -1.5-4.3 -0.5-2.7 -0.6-1 -0.1-2 -0.3-1 -0.6-1 -0.4-3 -0.5-1.3 -0.5-2.7 -0.6-1 -0.4-3 -0.5-1.3 -0.2-2.7 -0.8-2.3 -0.1-1.7 -0.4-1 0-2 -0.6-1 0-1 -0.3-1 0-2 -0.7-1 -0.3-4 -0.6-1.3 -0.4-3.7 0-2 -0.7-1 -0.3-5 -0.7-1 0-3 -0.3-1zM429.8 675l2.2-0.5 0.3 0.5 -1.3 0.3 -1 0zM421.4 679l1.6-0.3 0.9 0.3 -1.9 0.4zM420 680.5l0 0.5 -3 1.1 -1 1 -1 0 -1 0.6 -0.7-0.7 1.6-1 1.1 0 1.1-1 1.9-0.5z"/>
<path fill="#2e86f7" d="M412 416l-0.5 1 -2.5 0.5 -11 1.4 -6 0 -5 0.3 -7 1.2 -4 1.1 -5 1.8 -4 1.8 -4 2.3 -5 3.3 -4 3.3 -4.2 4 -4.6 5 -6.7 9 -5 8 -3.5 6.3 -1 1 -0.1-1.3 0.8-2 0.2-2 1-2 0.3-2 1.6-4 0.9-3 8.3-17.7 2.5-4.3 2.5-5 1.4-2 2-4 2-3 1.6-2.1 2-2 3.9-2.9 1.1-0.5 2.2-1.5 6.5-2 4.3-0.5 5 0.1 4 0.5 7 1.7 2 0.8 5.2 1.4 4.6 2 5.9 3zM508 505l0.5 3 0.7 1 0.3 2 0.5 1 0.1 2 0.4 1 0.3 2 0.5 1 0.1 3 0.5 2 0.1 4 0.4 1 0 6 0.5 1 0 30 -0.4 1 -0.2 5 -0.4 1 0 3 -0.4 1 -0.2 3 -0.4 1 0 1 -0.4 1 -0.1 2 -1 3 0 1 -0.4 1 -1.2 5 -1.3 3 -0.1 1 -1 2 -0.1 1 -0.8 1 -0.1 1 -1 2 -0.1 1 -1.3 1.9 -0.2 1.1 -1 2 -0.8 1 -1.2 3 -11.5 17 -2.8 3 -0.5 1 -3 3 -0.6 1 -1.4 1 -0.6 1 -3.4 3.4 -1 0.6 -1 1.4 -1 0.6 -3 3 -1.6 1 -2 2 -3.4 2.4 -1.6 1.6 -2.4 1.8 -5 3 -7 4.8 -3 1.5 -1.1 0.9 -1.9 0.9 -1.5 1.1 -2.5 0.2 -0.3-0.2 1.3-0.3 0.4-0.7 1.6-0.8 5-3.4 15-11 9-7.6 4.1-4.2 1.3-1 1.6-1.9 1-0.8 1-1.2 4.1-4.1 2.9-3.9 2-2.1 10.1-15 0.7-2 2.4-4 0.6-2 0.8-1 0.1-1 1-2 0.2-1 0.7-1 0.2-1 0.9-2 0.1-1 1.3-3 0.1-1 1.4-5 0.1-1 0.9-3 0.1-2 0.5-1 0-1 0.4-1 0.1-2 0.6-2 0-3 0.4-1 0.1-5 0.4-1 -0.4-14 0-14 -0.5-1 0.1-6 -0.5-1 0-5 -0.5-1 0.2-3 -0.3-1 0-2 -0.5-1 0.3-2 -0.4-2 -0.1-3 -0.5-1zM321 583.1l1 0 1 0.9 0.6 1 0.5 4 1.1 3 0.1 1 0.7 1.7 1 1 3-0.1 2 0.9 1.2 1.5 1 4 0.6 5 1.8 10 3.5 15 2.4 8 3 8 1.5 3.1 0.5 1.9 0.7 1 1.8 6 0 0.9 -1 0.2 -3-2.6 -1 0 -0.1 1.5 1.1 1 -0.2 1 0.2 0.7 1 1.3 0.1 1 1.8 3 -0.1 1 2.1 4 1.3 2 0.9 1 0.2 1 1.9 2 0.4 1 1.4 1 4 4.5 4 3.4 1 1.1 4 2.9 3 1.7 3 0.8 1 0.7 1 0 3-1.6 2-0.5 7 0.1 3-0.2 2-0.5 2 0.5 0.6 1.1 1.4 0.7 2 0.2 3-0.8 13.2-5.1 2.8-0.7 4 0 0 0.8 -1 0 -9 9.2 -1 0 -5 5 -1 0 -4 4 -1 0 -3 3 -1 0 -1 1 -1 0 -2 2 -1 0 -1 1 -1 0 -2 2 -2 0 -1 1 -1 0 -1 1 -1 0 -1 1 -1 0 -1 1 -7 0 -1-1 -1 0 -1-1 -1 0 -1-1 -1 0 -1-1 -1 0 -6.3-6.3 0-1 -2-2 0-1 -1-1 0-1 -1-1 0-2 -1-1 0-1 -1-1 -0.1-1 -1-1 -0.1-2 -1-1 -0.2-2 -0.9-1 -0.2-2 -1-1 -0.2-2 -0.9-1 -0.1-1 1-1 2 2.2 3 2.6 1 0.4 2 0.1 0.3-0.3 0.2-1 -0.1-1 -1.5-4 -1.9-3 -0.4-1 -3.4-5 -0.5-1 -1.7-2 -0.3-1 -0.8-1 -3.9-7.2 -2-4.1 -0.5-1.7 -1.2-2 -2.1-5 -0.8-3 -1.8-4 -3.7-12 -1.7-7 -0.4-1 -0.6-3 -0.4-1 -0.1-2 0.3-2.1 -0.8-0.9 0-2 -1.7-6 -1.2-6 -0.5-1 -0.3-4 -0.9-2 -1-5 -0.2-2z"/>
<path fill="#317efb" d="M508 507.7l1 1.4 0.3 1.9 0.5 1 0.1 2 0.5 1 0.2 2 0.5 1 0.1 3 0.6 2 0 4 0.5 1 -0.1 6 0.5 1 0.1 30 -0.4 1 -0.2 5 -0.4 1 0 3 -0.4 1 -0.2 3 -0.8 3 -0.1 2 -1 3 0 1 -0.5 1 0 1 -1 3 -0.2 1 -1.2 3 -0.1 1 -1 2 -0.1 1 -0.8 1 -0.1 1 -1 2 -0.1 1 -1.2 1.7 -0.8 2.3 -1.4 2 -1.2 3 -10 15 -1.6 2.2 -2.6 2.8 -0.6 1 -2.8 2.8 -0.8 1.2 -1.2 0.8 -0.8 1.2 -3.2 3.2 -1.2 0.8 -0.8 1.2 -1.2 0.8 -2.8 2.8 -1.8 1.2 -2 2 -3.2 2.2 -2 2 -14 9.2 -6 3.2 -0.5-0.6 1.3-1 1.2-0.6 3-2.4 5-3.4 2-1.7 5-3.4 8-6.5 2-2 1-0.6 4.2-4.4 1.4-1 0.6-1 1.8-1.5 1-1.3 4.2-4.2 2.8-3.8 2.2-2.2 10-15 0.7-2 2.4-4 0.7-2 0.8-1 0.1-1 0.9-2 0.2-1 0.8-1 0.1-1 2.4-6 0-1 1.5-5 0-1 0.9-3 0.2-2 0.4-1 0-1 0.4-1 0.1-2 0.6-2 0-3 0.5-1 0-4 0.5-2 -0.5-15 0.1-13 -0.5-1 -0.1-1 0.1-5 -0.4-1 0-5 -0.5-1 0.2-3 -0.3-1 0-2 -0.4-1 0.3-2 -0.5-2zM321 583.4l1 0.1 1.2 1.5 0.5 2 0.1 2 1 3 0.2 1.5 1 2.5 1 0.6 3-0.2 1 0.4 1 0.7 0.9 1.5 0.7 3 1 8 1.8 10 0.6 2 2.5 11 0.5 1 0.2 2 0.9 3 0 1 0.9 2.1 0.4 1.9 1.6 3 0.1 1 1.9 4.2 0.4 1.8 0.7 1 -0.1 1.1 -1-0.3 -0.4-0.8 -0.6-0.4 -3-5 -1-2.4 -0.9 1.8 0.7 1 0.6 2 1.2 2 0.7 2 0 1 0.9 1 0.3 2 0.8 1 0.2 2 0.7 1 0.7 2 1.6 2 -0.1 1 0.7 1 -0.1 1.2 -1-0.7 -3-4.8 -0.1-0.7 -0.9-1.1 -0.9-1.9 -1.1-1.8 -0.3-1.2 -0.8-1 -5.2-12 -0.1-1 -1.8-4 -0.8-3 -0.8-2 -3.2-11 -0.5-3 -0.5-1 -0.7-4 0.1-2 -0.4-3 -1-3 -0.3-2 -1.1-3 -1.1-6 -0.6-1 -0.3-4 -0.8-2 -0.3-2 -0.8-3 -0.1-2zM438 671.9l-0.2-0.9 1.2-0.3 0.4 0.3zM347.3 684l0.7-0.7 5 5.1 1 0.6 2 0.7 1-0.1 0.6-0.6 -0.6-3 -0.7-1 -0.9-3 -0.6-1 -0.3-1 0.5-0.1 2 1.6 4 4.4 7 6.1 5 3.7 4 2.3 2 0.4 3-0.2 0.7-1.2 2.1-2 1.2-0.2 6-0.4 3-0.6 1 0.3 1 1.1 2 1.3 2 0.2 3-0.9 6.8-2.8 5.6-2 3.6-0.5 2 0 0 0.5 -8 8.2 -1 0 -5 5 -1 0 -4 4 -1 0 -3 3 -1 0 -1 1 -1 0 -2 2 -1 0 -1 1 -1 0 -2 2 -2 0 -1 1 -1 0 -1 1 -1 0 -1 1 -1 0 -1 1 -7 0 -1-1 -1 0 -1-1 -1 0 -1-1 -1 0 -1-1 -1 0 -6.2-6.2 0-1 -2-2 0-1 -1-1 0-1 -1-1 -0.1-2 -0.9-1 -0.1-1 -1-1 0-1 -1-1 -0.2-2 -0.9-1 -0.2-2 -0.9-1 -0.2-2 -1-1 -0.1-2 -0.9-1z"/>
<path fill="#3975fe" d="M509 510l0.1 1 0.4 1 0.1 2 0.6 1 0.2 2 0.6 1 0.1 3 0.5 2 0 4 0.6 1 -0.2 6 0.6 1 0 30 -0.4 1 0 4 -0.6 2 0 3 -0.4 1 -0.2 3 -0.8 3 0 2 -0.5 1 -0.5 2 0 1 -0.5 1 -0.1 1 -1 3 -0.1 1 -1.3 3 0 1 -1 2 -0.2 1 -0.8 1 0 1 -1 2 -0.2 1 -1 1.4 -1 2.6 -1.3 2 -1.2 3 -11.5 17.1 -2 2 -1.4 1.9 -2.6 2.6 -0.9 1.4 -1.1 0.7 -0.9 1.3 -3.1 3.1 -1.3 0.9 -0.7 1.1 -1.4 0.9 -2.6 2.6 -2 1.4 -1.9 2 -3.1 2 -2 2 -5 3.4 -1 0.4 -2 1.5 -1 0.5 -2 1.5 -1 0.4 -2 1.5 -1 0.3 -1 0.8 -1 0.2 -0.4-0.5 1.4-0.8 1.3-1.2 4.7-3.2 2-1.8 1-0.5 2-1.6 1-0.5 9-7.2 2-2 1-0.7 4.4-4.5 1.4-1 0.6-1 1.6-1.2 1-1.4 4.4-4.4 2.6-3.6 1-0.7 1.3-1.7 10.1-15 0.7-2 2.3-4 0.6-1.8 0.9-1.2 0.1-1 0.9-2 0.3-1 0.7-1 0.1-1 2.4-6 0.1-1 0.9-3 0.5-3 1-3 0.5-4 0.5-1 0-2 0.6-2 0.1-3 0.4-1 0-4 0.5-2 -0.4-15 0.1-13 -0.5-1 -0.1-1 0.1-5 -0.4-1 -0.1-1 0.1-4 -0.6-1 0.4-3 -0.3-1 -0.1-2 -0.3-1 0.2-2 -0.2-1 0.1-1zM321 583.7l1 0.2 0.9 1.1 0.5 2 0.1 2 1 3 0.3 2 1.2 2.6 1 0.9 3-0.3 1.5 0.8 0.7 1 0.7 3 0 2 0.4 1 1 8 0.7 3 0.5 4 0.6 2 2 10 -0.1 0.6 -1-0.3 -0.8-1.3 -0.7-2 -1.5-2 -1 0.2 -0.1 0.8 0.6 1 0.4 2 0.5 1 0.1 1 1 2 0.1 1 0.7 1 0.7 2.8 0.7 1.2 0.3 2 0.6 1 -0.2 1 0.3 1 -0.1 1 1.8 4 -0.2 1 1.2 1 0.5 1 0 1 0.6 1 0.5 2 0.6 1 1.2 3 0.2 1.5 -0.4-0.5 -0.6-0.1 -0.3-0.9 -0.8-1 -4.9-10.2 -1.4-3.8 -0.6-1 -0.1-1 -1.7-4 -0.8-3 -1.5-4 -0.2-1 -2.4-8 -0.1-1 -0.4-1 0-1 -1-3 0.4-2 -0.4-1 0.4-1 -0.6-1 -0.3-2 -1-3 -0.3-2 -1.2-3 -1.2-6 -0.5-1 -0.4-4 -0.8-2 -0.2-2 -0.8-3zM332 623.6l-0.3 0.4 0.3 1.1 0.5-1.1zM347.5 685l0.1-1 0.4-0.4 5 5.4 3 1.8 1 0.2 1.4 0 0.5-1 -1.4-3 -0.1-1 -1.5-3 0.1-1 1 0 1.7 2 5.7 5 0.8 1 7.8 6.4 3 2 3 1.7 2 0.5 1 0 1.5-0.6 1.1-1 0.2-1 1.1-2 2.1-0.6 7-1.2 1 0.5 2 2.1 1 0.5 2 0.3 2-0.4 7.2-3.2 4.8-1.6 2-0.5 4 0.1 -7 7.1 -1 0 -5 5 -1 0 -4 4 -1 0 -3 3 -1 0 -1 1 -1 0 -2 2 -1 0 -1 1 -1 0 -2 2 -2 0 -1 1 -1 0 -1 1 -1 0 -1 1 -1 0 -1 1 -7 0 -1-1 -1 0 -1-1 -1 0 -1-1 -1 0 -1-1 -1 0 -6.1-6.1 0-1 -2-2 0-1 -1-1 -0.1-1 -1-1 0-2 -1-1 0-1 -1-1 0-1 -1-1 -0.2-2 -0.9-1 -0.2-2 -1-1 -0.1-2 -1-1 0-2z"/>
<path fill="#416bfe" d="M509 511.5l0.2 0.5 0 2 0.8 1 0.3 2 0.4 1 0.2 3 0.6 2 0 4 0.5 1 0 5 -0.1 1 0.5 1 0.1 30 -0.5 1 0 4 -0.5 2 0 3 -0.5 1 0 2 -0.5 2 0 1 -0.5 1 0 2 -0.5 1 -0.5 2 0 1 -0.5 1 0 1 -0.5 1 -0.6 3 -1.4 3 0 1 -1 2 -0.2 1 -0.8 1 0 1 -1 2 -0.2 1 -0.8 1 -1 2.8 -2 3.2 -0.6 2 -1.6 2 -8.4 13 -1.6 2 -2 2 -1.4 2 -2.4 2.4 -1 1.4 -1 0.7 -1 1.3 -3 3 -1.5 1.2 -0.7 1 -1.4 1 -2.4 2.4 -2 1.4 -2 2 -2 1.5 -1 0.5 -2 2 -2 1.5 -1 0.5 -2 1.4 -1 0.4 -2 1.6 -1 0.3 -2 1.7 -1 0.1 -0.6-0.3 1-1 4.6-3.3 2-1.7 1-0.4 3.4-2.6 8.6-7.3 4.6-4.7 1.4-1 1-1.4 1-0.6 1-1.4 4.6-4.6 0.6-1 1-1 0.8-1.4 1-0.7 11.5-16.9 1.2-3 0.8-1 1-2 0.5-1.5 1-1.5 0.1-1 1.2-3 0.8-1 0-1 2.4-6 0.1-1 1.4-5 0-1 0.5-1 0.5-2 0.5-4 0.5-1 0-2 0.6-2 0.1-3 0.5-1 0-4 0.5-2 -0.4-15 0.1-13 -0.5-1 -0.2-1 0.2-5 -0.5-2 0.1-4 -0.6-1 0.4-3 -0.6-4 0.2-2 -0.1-1zM321 584.2l1 0.1 0.5 0.7 0.2 1 0.4 1 0.1 2 1 3 0.2 2 0.5 1 0.2 1 0.9 1.4 1 1.1 1 0 1-0.4 1 0 1 0.5 0.6 1.4 0.5 2 0 2 0.3 1 0.2 3 0.3 1 0.4 4 0.7 3 0.5 7 -0.5 1.2 -1.6-1.2 -0.6-1 -0.8-0.3 -0.5 0.3 0 1 0.5 0.7 0.6 2.3 0.8 1 0 1 1.2 3 0.4 2 1.7 4 0.4 2 -0.1 1 0.7 1 1.2 3 -0.3 1 0.5 1 -0.1 0.4 -1 0.7 -0.6-2.1 -0.4-0.6 -1.4-3.4 -2.3-7 -2.3-7.6 -0.4-2.4 -0.6-1 0.4-1 -0.4-0.4 -0.5-1.6 0.5-0.8 0.5-0.2 1.1-1 -1.8-1 0.5-1 -0.8-1 -0.9-2 0-1 -1.1-3 -0.3-2 -1.3-3 -0.2-2 -1.3-5 -0.1-2 -0.4-1 -0.3-2 -0.6-1.1 -0.5-3.9 -0.5-1zM329.7 621l0.3 0.3 1.4-1.3 -0.4-0.7 -1 0 -0.3 0.7zM338 647.4l0.4 1.6 -0.4 0.3 -0.3-1.3zM447.4 666l-1.4 1.1 -1.1-0.1 0.7-1 1.4-0.7zM347.7 685l0.3-1.1 4.5 5.1 3.5 2.8 1 0.6 2 0.5 1-0.3 0.2-1.6 -2.3-4 -0.2-1 -0.8-2 0.1-1.1 7.1 6.1 0.9 1.2 8 6.8 1 0.4 2 1.7 1 0.5 1.9 1.4 4.1 2.1 2-0.3 1.8-1.8 0.5-3 0.5-1 1.2-1 6-1.4 0.7 0.4 1.3 2 1 0.8 2 1 2 0.1 2-0.5 6.8-3.4 3.1-1 4.8 0 -0.7 1 -4 4 -1 0 -5 5 -1 0 -4 4 -1 0 -3 3 -1 0 -1 1 -1 0 -2 2 -1 0 -1 1 -1 0 -2 2 -2 0 -1 1 -1 0 -1 1 -1 0 -1 1.1 -1 0 -1 1 -7 0 -1-1 -1 0 -1-1 -1 0 -1-1 -1 0 -1-1 -1 0 -6.1-6.1 0-1 -2-2 0-1 -1-1 0-1 -1-1 0-2 -1-1 0-1 -1-1 -0.1-1 -1-1 -0.1-2 -0.9-1 -0.2-2 -1-1 -0.1-2 -0.9-1 0-2z"/>
<path fill="#4562fc" d="M510 515.9l0.7 5.1 0.5 1 0.2 1 -0.1 4 0.5 1 -0.1 6 0.6 1 0.1 30 -0.6 1 0.1 4 -0.5 2 0 3 -0.5 1 0 2 -0.5 2 0 1 -0.5 1 0 2 -1 3 0 1 -0.5 1 0 1 -0.6 1 -0.6 3 -1.4 3 0 1 -1 2 -0.2 1 -0.8 1 0 1 -1 2 -0.2 1 -1.2 2 -0.4 1.5 -2.2 3.5 -0.6 2 -1.6 2 -0.4 1 -1.6 2 -0.4 1 -3.6 5 -0.4 1 -1.6 2 -0.4 1 -1.6 2 -2 2 -1.3 2 -2.3 2.3 -1 1.3 -1 0.8 -6.4 6.6 -1.3 1 -2.3 2.3 -2 1.3 -2 2 -2 1.6 -1 0.4 -4 3.6 -1 0.3 -2 1.6 -1 0.3 -2 1.7 -1 0.2 -0.8-0.3 1-1 1.8-1.2 0.9-0.8 2.1-1.3 2-1.7 1.6-1 2.1-2 3.3-2.5 7.8-7.5 1.2-0.8 0.8-1.2 1.4-1 0.8-1.3 4.7-4.7 1.7-2 0.6-1.2 1.2-0.8 2.2-3 0.4-1 1.6-2 0.4-1 1.6-2 0.4-1 1.6-2 0.4-1 1.6-2 0.4-1 1.4-2 0.6-2 1.4-2 0.8-2.3 1.2-1.7 0.1-1 1.2-3 0.7-1 0.1-1 0.9-2 0.5-2 1-2 0-1 0.5-1 1-4 0-1 1-3 0.5-4 0.5-1 0-2 0.5-2 0.1-3 0.5-1 0.1-4 0.4-2 -0.4-15 0.2-13 -0.5-1 -0.2-1 0.2-5 -0.6-2 0.2-4 -0.5-1 0.4-3 -0.1-2zM322 584.8l0.8 3.2 -0.8 1.1 -0.7-4.1zM323 589.5l0.7 2.5 -0.7 0.9 -0.6-2.9zM324 594l0.5 1 0.2 1 0.7 1 0.4 1 0.9 1 0.2 2 1 1 -0.2 1 0.3 0.6 0.7 0.4 0.3 0.5 0.5-0.5 0.1-1 -0.9-1 0.3-2.1 1-0.2 0.2 0.3 0.3 5 -0.5 0.5 -1 0.3 -0.2 1.2 0.2 0.4 0.8 0.6 0.2 2.8 0.7 1.2 -0.2 2 0.2 1 -0.7 0.9 -1-0.6 -0.4-1.3 -0.6-0.4 -0.3-0.6 0.2-1 -0.6-2 -0.6-1 -0.2-2 -1.4-3 -0.2-2 -1.3-5 0-2zM330 623.8l1 1.4 1.5 3.8 0 1 0.7 1 0.3 2 0.6 1 0.4 2 0.7 1 -0.1 1 0.3 1 -0.4 0.8 -1-1.7 -0.1-1.1 -0.9-1.8 -0.5-2.2 -0.6-1 -0.6-3 -0.5-1 -0.2-2 -0.7-1zM450 663.2l0.3 0.8 -1.3 1 -1 0 0.7-1zM358 684.9l1 0.2 4.7 3.9 1.3 1.5 7.5 6.5 8.4 6 0.7 1 0.1 1 -0.1 1 -0.7 1 -0.9 0.8 -1 0.2 -2-0.2 -1-0.4 -3-2.5 -2-2 -1-0.5 -6.3-6.4 -1.5-2 -1.1-2 -0.1-1 -2.6-4zM349 685.5l2.5 2.5 0.5 1 1.4 1 2.6 2.7 3.2 2.3 1.7 2 1 2 3.6 4 1.3 2 4.9 5 0.5 2 -0.6 2 -1.6 1.5 -1 0.2 -2-0.2 -3-2.1 -1-1.5 -6.5-6.9 -0.5-1 -1-0.9 0-1.1 -1-1 0-1 -1-1 -0.1-1 -1-1 -0.2-2 -0.9-1 -0.2-2 -0.9-1 -0.1-2 -0.9-1 -0.1-1zM395 695l0.3 1 2.3 3 0.7 2 -1.3 2.2 -1 0.4 -3 0.3 -1-0.4 -2-1.8 -0.2-0.7 -0.3-3 0.6-1 0.9-0.7z"/>
<path fill="#475af9" d="M510 517.6l0.4 3.4 0.6 0.8 0.2 1.2 -0.1 4 0.5 1 -0.1 6 0.6 1 0.1 30 -0.7 1 0.1 4 -0.4 2 0 3 -0.6 1 0 2 -0.4 3 -0.6 1 0 2 -1 3 -0.4 3 -0.6 1 -0.5 3 -0.7 1 -0.2 1 -0.6 1 0 1 -1 2 -0.2 1 -0.8 1 0 1 -1 2 -0.2 1 -0.8 1 -0.5 2 -0.7 1 -0.3 1 -1.5 2 -0.5 2 -1.7 2 -0.3 1 -1.7 2 -0.3 1 -1.7 2 -0.3 1 -1.7 2 -0.3 1 -1.7 2 -0.4 1.1 -3.6 3.9 -1.3 2 -3.1 3.4 -3.8 3.6 -3.8 4 -3.4 3.1 -2 1.3 -4 3.7 -1 0.3 -4 3.7 -1 0.1 -0.8 0.8 -2.2 1.1 -0.9 0.9 -1.1 0.7 -0.5-0.7 8.5-6.1 1.9-1.9 3.1-2.3 7.9-7.7 1.1-0.5 0.9-1.5 1.6-1 0.5-1.1 4.9-4.9 1.7-2 0.4-1.1 1.4-0.9 0.5-1 1.7-2 0.3-1 1.7-2 0.4-1 1.6-2 0.4-1 1.6-2 0.4-1 1.6-2 0.4-1 1.4-2 0.6-2 1.4-2 0.6-2 1.4-2 0.1-1 1.2-3 0.7-1 0.1-1 0.9-2 0.4-2 1-2 0-1 0.6-1 0.6-3 0.4-1 0-1 1-3 0.4-4 0.6-1 0-2 0.3-1 0.2-4 0.6-1 0.1-4 0.3-2 -0.3-15 0.2-13 -0.7-2 0.3-5 -0.5-1 -0.2-1 0.1-4 -0.3-1zM324 594.8l0.2 1.2 0.9 1 0.2 1 0.8 1 0.3 1 -0.1 1 0.6 1 0 1 0.6 1 0.1 1 0.4 1 -0.2 1 0.9 2 -0.2 1 -0.5 0.8 -0.2-0.8 -0.9-1 -0.1-2 -1.4-3 -0.1-2 -0.6-1 -0.2-2 -0.5-1.1zM329 611l0.5 2 -0.5 0.9 -1.1-0.9 0.7-1zM349 686l2.2 2 0.5 1 1.3 1 2 2 1 1.3 1.9 1.7 1.6 2 1 2 1.9 2 0.5 1 2 2 1.1 1.6 4.4 4.4 0.6 1 0.3 1 -0.3 1 -1 1.3 -1 0.4 -1 0 -1-0.3 -2-1.5 -1.4-1.9 -3-3 -0.6-1 -4.5-5 -1-2 -2.5-3 -0.2-2 -0.9-1 -0.2-2 -0.9-1 -0.1-2 -0.9-1zM359 685.8l4.3 3.2 1.7 1.8 7.1 6.2 1.9 1.3 1.9 1.7 4.5 3 0.5 1 0 1 -0.2 1 -0.7 0.7 -1 0.4 -1 0 -2-0.8 -1.2-1.3 -1.5-1 -3.3-2.9 -5.9-6.1 -2.1-2.6 -1-2.1 -2.1-3.3zM394 695.8l1 1.2 1 2 -0.2 1 -0.8 0.9 -2 0.2 -1-0.6 -1-1.4 0.1-1.1 0.4-1 1.5-0.4z"/>
<path fill="#4851f4" d="M510 519.5l0.1 1.5 0.9 1.4 0 1.4 -1-0.9 -0.3-0.9zM510 524.3l0.5 0.7 0.2 2 0.3 0.1 0.3 0.9 0 6 0.5 10 -0.1 10 -0.3 3 -0.4 1.8 -0.2-9.8 0.1-14 -0.4-1 0.2-5 -0.8-2zM512 563.4l0 1.8 -0.6-0.2 0-1zM511 565.3l0.3 0.7 0.1 3 -0.3 3 0 3 -0.7 1 -0.3 5 -0.7 1 0 2 -1 3 -0.3 3 -0.7 1 -0.4 2.6 -0.8 1.4 -0.1 1 -0.7 1 0 1 -0.6 1 -0.6 2 -0.8 1 0 1 -0.6 1 -0.6 2 -0.8 1 -0.4 1.6 -1.2 2.4 -1.4 2 -0.6 2 -1.6 2 -0.4 1 -1.6 2 -0.4 1 -1.6 2 -0.4 1 -1.6 2 -0.4 1 -0.8 1.2 -0.8 0.8 -0.4 1 -3.6 4 -1.2 1.8 -2.2 2.2 -0.8 1.2 -3 3 -1.2 0.8 -0.6 1 -3 3 -1.2 0.8 -2.2 2.2 -1.8 1.2 -4 3.6 -1 0.3 -0.5-0.1 0.7-1 5.8-4.7 3.5-3.3 1.5-1.8 1-0.4 1-1.6 1.8-1.2 0.4-1 1.2-1 3.8-4 1.6-2 0.4-1 1.4-1 1.4-2.2 0.8-0.8 0.4-1 1.6-2 0.4-1 1.6-2 0.4-1 1.7-2 0.4-1 1.6-2 0.3-1 1.4-2 0.7-2 1.3-2 0.7-2 1.3-2 0.1-1 0.6-1 0.6-2 0.7-1 0.1-1 0.6-1 0.6-2 0-1 0.7-1 0.3-1 0-1 0.7-1 0.4-2.5 0.6-1.5 0-1 1-3 0.3-4 0.7-1 0-2 0.3-1 0.1-2.6 0.4-0.4zM325 598.4l0.8 1.6 -0.4 1 -0.4 0.2 -0.3-1.2zM326 601.4l0.3 0.6 0 1 0.5 1 0.1 1 -0.9 0.2 -0.3-1.2 0-2zM458.7 657l1.3-0.5 0.1 0.5 -1.1 0.6zM349 686.5l1.8 1.5 0.5 1 1.7 1.4 1.6 1.6 1.4 1.9 1.3 1.1 2.3 3 0.4 1.2 4.3 4.8 1.4 2 4.9 5 0.2 1 -0.2 1 -0.6 0.7 -1 0.5 -1 0 -3-1.9 -1-1.6 -2.7-2.7 -0.6-1 -2-2 -1.5-2 -1.8-2 -0.4-1.2 -3-3.4 -0.1-1.4 -0.9-1 -0.2-2 -1-1 -0.1-2 -0.8-1zM360 688l1-0.3 2 1.4 9 8.2 7.9 5.7 0.6 1 0.1 1 -0.5 1 -1.1 0.7 -1 0 -2-1.1 -4.1-3.6 -1.4-1 -6.7-7 -1.8-2.3 -0.7-1.7z"/>
<path fill="#4849ed" d="M511 543.6l0.2 4.4 -0.2 3.9zM510 575.2l0.2 0.8 0 2 -0.2 0.8 -0.2-0.8 0-2zM509 581.2l0.2 0.8 0 2 -0.2 0.8 -0.4-0.8zM508 585.2l0.4 0.8 -0.4 2.8 -0.4-0.8zM505 596.3l0.2 1.7 -0.2 0.4 -0.4-0.4zM503 601.3l0.2 1.7 -0.2 0.4 -0.4-0.4zM502 603.7l0.4 0.3 -0.4 1.8 -0.2-0.8zM499 610.3l0.4 0.7 -0.4 0.8 -0.4-0.8zM497 614.2l0.4 0.8 -0.4 0.8 -0.4-0.8zM495 617.3l0.4 0.7 -0.4 0.8 -0.4-0.8zM493 620.2l0.4 0.8 -0.4 0.8 -0.4-0.8zM491 623.2l0.4 0.8 -0.4 0.8 -0.4-0.8zM489 626.2l0.4 0.8 -0.4 0.8 -0.4-0.8zM485.8 632l-0.8 0.8 -0.4-0.8 0.4-0.2zM478 639.6l0.8 0.4 -0.8 0.8 -0.4-0.8zM473 644.6l0.8 0.4 -0.8 0.8 -0.4-0.8zM349 687.1l1.2 0.9 0.7 1 2.1 1.7 1.2 1.3 1.5 2 2 2 0.6 1 0.9 1 0.8 1.8 1.2 1.2 0.8 1.2 2.7 2.8 0.5 1 5 5 0.3 1 -0.5 1.2 -1 0.6 -1 0 -2-1.1 -0.8-0.7 -1.2-1.8 -2.2-2.2 -0.8-1.2 -2.7-2.8 -0.5-1 -2-2 -0.3-1 -1.5-2.2 -2-2.1 -0.1-0.7 -0.9-1.4 -0.1-1.6 -1-1 -0.1-2 -0.8-1zM361.6 689l0.4-0.1 1 0.6 9 8.1 6 4.6 1.4 0.8 0.8 1 0.1 1 -0.8 1 -0.5 0.3 -1 0 -1-0.5 -2-1.7 -1-0.5 -2-2 -1-0.6 -7.5-8 -1.5-2z"/>
<path fill="#4740e4" d="M350 688.5l1 1 2 1.5 2.2 3 2.1 2 0.5 1 1 1 1 2 4.5 5 0.5 1 4.9 5 0.4 1 -0.4 1 -0.7 0.5 -1 0 -2-1.2 -1.8-2.3 -5.5-6 -0.5-1 -2-2 -1-2 -2.6-3 -1.6-2.9 -0.1-1.1 -0.9-1zM363 690.2l9 7.7 4.3 3.1 1.7 1.5 1 0.5 0.8 1 0.1 1 -0.9 1 -1 0 -1-0.5 -2-1.8 -1-0.5 -2-2.1 -1-0.6 -7.1-7.5 -1.2-2z"/>
<path fill="#4538d8" d="M350 689.9l1 0.1 1.5 1 2.3 3 2.2 2 0.5 1 0.9 1 1 2 4.5 5 1.1 1.6 4.3 4.4 0.5 1 -0.5 1 -0.3 0.2 -1 0 -2-1.3 -1.4-1.9 -5.5-6 -0.6-1 -1.9-2 -1-2 -3.3-4zM365 692.5l1 0.5 6 5.4 1 0.4 2 1.8 4 2.8 0.5 0.6 0.1 1 -0.6 0.6 -1 0 -1-0.4 -2-1.9 -1-0.6 -1.6-1.7 -1.4-0.9 -4.8-5.1 -1.5-2z"/>
<path fill="#4332c8" d="M352 691.2l1 0.8 1.5 2 2 2 1.5 2 1 2 2 2 0.5 1 2 2 1.4 2 4.1 4.1 0.5 0.9 -0.5 0.9 -1 0 -2-1.4 -0.9-1.5 -3-3 -0.6-1 -2-2 -0.6-1 -1.9-2 -1-2 -3.4-4 -1.1-3zM369 696.3l3 2.5 1 0.4 4 3.3 2 1.3 0.3 1.2 -0.3 0.3 -1 0 -0.7-0.3 -2.1-2 -1.2-0.8 -2.5-2.2 -2.7-3z"/>
<path fill="#402bb7" d="M352.5 693l0.5-0.3 3.1 3.3 0.9 1.5 1 1.1 0.4 1.4 4.7 5 1.2 2 4.9 5 -0.2 0.3 -1 0 -2-1.3 -0.3-1 -5.8-6 -1.3-2 -1.6-1.6 -0.4-1.4 -3.6-4zM377 703.2l1.6 0.8 -0.6 0.8 -1.1-0.8z"/>
</g>
<g filter="url(#bl1)">
<path d="M372 700 Q377 712 380.5 722 Q385 712 400 700" stroke="#4367fd" stroke-width="5" fill="none"/>
<ellipse cx="382.5" cy="722.5" rx="3.2" ry="5" fill="#463cde"/>
<path d="M362 704 Q364.8 716 362.5 728" stroke="#4755f6" stroke-width="2" fill="none"/>
<ellipse cx="352" cy="719" rx="6" ry="8" fill="#8dcb4f" opacity="0.7"/>
</g>
<g filter="url(#bl05)">
<path d="M420 691.7 Q404 701 397 707.5 Q386.5 716.5 387.5 724 Q389 731 394 737 L399.5 744 L404.6 750" stroke="#f7f31c" stroke-width="1.5" fill="none" stroke-linecap="round"/>
<path d="M395 709 Q386 717 387.5 724.5 Q389.5 731 393.5 735.5 Q391.5 727 392 720 Q392.5 714 395 709Z" fill="#f7f31c"/>
<polygon points="367.2,708 376.3,719.5 369,722.5 366.5,716" fill="#f7f31c"/>
<path d="M359.5 731 L371 723.8" stroke="#f7f31c" stroke-width="3.2" fill="none" stroke-linecap="round"/>
<polygon points="350.5,712 355,716.5 357,710.5 359.5,717 358,725 355,724 352.5,720" fill="#f7f31c"/>
</g>
</g>
<path d="M312.0 754.0v-3.6M312.0 355.6v3.6M366.9 754.0v-3.6M366.9 355.6v3.6M421.9 754.0v-3.6M421.9 355.6v3.6M476.9 754.0v-3.6M476.9 355.6v3.6M293.2 406.8h3.6M519.4 406.8h-3.6M293.2 460.1h3.6M519.4 460.1h-3.6M293.2 513.4h3.6M519.4 513.4h-3.6M293.2 566.7h3.6M519.4 566.7h-3.6M293.2 620.0h3.6M519.4 620.0h-3.6M293.2 673.3h3.6M519.4 673.3h-3.6M293.2 726.6h3.6M519.4 726.6h-3.6" stroke="#1c1c3a" stroke-width="0.9" fill="none" opacity="0.85"/>
<rect x="293.2" y="355.6" width="226.2" height="398.4" stroke="#15152c" stroke-width="1" fill="none" opacity="0.75"/>
<text x="312.0" y="774.5" font-family="'Liberation Sans',Arial,sans-serif" font-size="17" fill="#262626" text-anchor="middle">2</text>
<text x="366.9" y="774.5" font-family="'Liberation Sans',Arial,sans-serif" font-size="17" fill="#262626" text-anchor="middle">2.5</text>
<text x="421.9" y="774.5" font-family="'Liberation Sans',Arial,sans-serif" font-size="17" fill="#262626" text-anchor="middle">3</text>
<text x="476.9" y="774.5" font-family="'Liberation Sans',Arial,sans-serif" font-size="17" fill="#262626" text-anchor="middle">3.5</text>
<text x="380.6" y="795.8" font-family="'Liberation Serif','DejaVu Serif',serif" font-size="22" fill="#111" font-style="italic" textLength="15.4" lengthAdjust="spacingAndGlyphs">R</text>
<text x="405.6" y="795.8" font-family="'Liberation Serif','DejaVu Serif',serif" font-size="22" fill="#111" textLength="28" lengthAdjust="spacingAndGlyphs">[m]</text>
<text x="324.6" y="345" font-family="'Liberation Serif','DejaVu Serif',serif" font-size="22" fill="#111" textLength="25" lengthAdjust="spacingAndGlyphs">(c)</text><text x="358.3" y="345" font-family="'Liberation Serif','DejaVu Serif',serif" font-size="22" fill="#111" font-style="italic" textLength="26" lengthAdjust="spacingAndGlyphs">nZ</text><text x="393.8" y="345" font-family="'Liberation Serif','DejaVu Serif',serif" font-size="22" fill="#111" textLength="14.5" lengthAdjust="spacingAndGlyphs">−</text><text x="415.4" y="345" font-family="'Liberation Serif','DejaVu Serif',serif" font-size="23" fill="#111" textLength="5.8" lengthAdjust="spacingAndGlyphs">⟨</text><text x="422" y="345" font-family="'Liberation Serif','DejaVu Serif',serif" font-size="22" fill="#111" font-style="italic" textLength="29" lengthAdjust="spacingAndGlyphs">nZ</text><text x="452" y="345" font-family="'Liberation Serif','DejaVu Serif',serif" font-size="23" fill="#111" textLength="5.8" lengthAdjust="spacingAndGlyphs">⟩</text><text x="461.5" y="348.8" font-family="'Liberation Serif','DejaVu Serif',serif" font-size="13.5" fill="#111" font-style="italic" textLength="23" lengthAdjust="spacingAndGlyphs">FS</text>
<rect x="449.6" y="681" width="17.4" height="55.0" fill="url(#pg)" stroke="#fff" stroke-width="1.2"/>
<text x="473.5" y="693.2" font-family="'Liberation Sans',Arial,sans-serif" font-size="17" fill="#fff">1</text>
<text x="473.5" y="716.2" font-family="'Liberation Sans',Arial,sans-serif" font-size="17" fill="#fff">0</text>
<text x="473.5" y="738.8" font-family="'Liberation Sans',Arial,sans-serif" font-size="17" fill="#fff">-1</text>
<text x="468.5" y="669.5" font-family="'Liberation Sans',Arial,sans-serif" font-size="17" fill="#fff">×</text>
<text x="480.8" y="669.5" font-family="'Liberation Sans',Arial,sans-serif" font-size="17" fill="#fff" textLength="20.3" lengthAdjust="spacingAndGlyphs">10</text>
<text x="502.7" y="661.3" font-family="'Liberation Sans',Arial,sans-serif" font-size="12.5" fill="#fff" textLength="12.7" lengthAdjust="spacingAndGlyphs">16</text>
</g>
</svg></body></html>
